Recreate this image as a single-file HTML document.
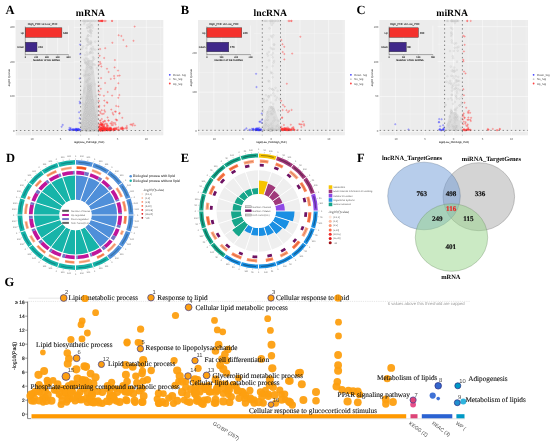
<!DOCTYPE html>
<html><head><meta charset="utf-8"><style>
html,body{margin:0;padding:0;background:#fff;width:550px;height:444px;overflow:hidden}
svg{display:block;will-change:transform}
text{text-rendering:geometricPrecision}
</style></head><body>
<svg width="550" height="444" viewBox="0 0 550 444">
<rect width="550" height="444" fill="#fff"/>
<rect x="15.8" y="20" width="147.5" height="115.3" fill="#ececec"/>
<path d="M17.2 20V135.3" stroke="#fff" stroke-width=".25"/>
<path d="M31.5 20V135.3" stroke="#fff" stroke-width=".5"/>
<path d="M45.9 20V135.3" stroke="#fff" stroke-width=".25"/>
<path d="M60.2 20V135.3" stroke="#fff" stroke-width=".5"/>
<path d="M74.6 20V135.3" stroke="#fff" stroke-width=".25"/>
<path d="M88.9 20V135.3" stroke="#fff" stroke-width=".5"/>
<path d="M103.2 20V135.3" stroke="#fff" stroke-width=".25"/>
<path d="M117.6 20V135.3" stroke="#fff" stroke-width=".5"/>
<path d="M131.9 20V135.3" stroke="#fff" stroke-width=".25"/>
<path d="M146.3 20V135.3" stroke="#fff" stroke-width=".5"/>
<path d="M160.7 20V135.3" stroke="#fff" stroke-width=".25"/>
<path d="M15.8 27.3H163.3" stroke="#fff" stroke-width=".5"/>
<path d="M15.8 44.6H163.3" stroke="#fff" stroke-width=".25"/>
<path d="M15.8 61.9H163.3" stroke="#fff" stroke-width=".5"/>
<path d="M15.8 79.2H163.3" stroke="#fff" stroke-width=".25"/>
<path d="M15.8 96.5H163.3" stroke="#fff" stroke-width=".5"/>
<path d="M15.8 113.8H163.3" stroke="#fff" stroke-width=".25"/>
<path d="M15.8 131.1H163.3" stroke="#fff" stroke-width=".5"/>
<text x="14.6" y="28.2" style="font-family:'Liberation Sans',sans-serif;font-size:2.8px" fill="#555" text-anchor="end">300</text>
<text x="14.6" y="62.8" style="font-family:'Liberation Sans',sans-serif;font-size:2.8px" fill="#555" text-anchor="end">200</text>
<text x="14.6" y="97.3" style="font-family:'Liberation Sans',sans-serif;font-size:2.8px" fill="#555" text-anchor="end">100</text>
<text x="14.6" y="131.7" style="font-family:'Liberation Sans',sans-serif;font-size:2.8px" fill="#555" text-anchor="end">0</text>
<text x="31.5" y="139.5" style="font-family:'Liberation Sans',sans-serif;font-size:2.8px" fill="#555" text-anchor="middle">-10</text>
<text x="60.2" y="139.5" style="font-family:'Liberation Sans',sans-serif;font-size:2.8px" fill="#555" text-anchor="middle">-5</text>
<text x="88.9" y="139.5" style="font-family:'Liberation Sans',sans-serif;font-size:2.8px" fill="#555" text-anchor="middle">0</text>
<text x="117.6" y="139.5" style="font-family:'Liberation Sans',sans-serif;font-size:2.8px" fill="#555" text-anchor="middle">5</text>
<text x="146.3" y="139.5" style="font-family:'Liberation Sans',sans-serif;font-size:2.8px" fill="#555" text-anchor="middle">10</text>
<text x="89.3" y="142.9" style="font-family:'Liberation Sans',sans-serif;font-size:2.55px" fill="#222" text-anchor="middle" stroke="#222" stroke-width=".05">log2(Low_PHF/High_PHF)</text>
<text transform="translate(9.5,78) rotate(-90)" style="font-family:'Liberation Sans',sans-serif;font-size:2.9px" fill="#333" text-anchor="middle">-log10 Qvalue</text>
<path d="M86.5,60 L84,80 L82,100 L80.9,118 L80.8,131 L98.2,131 L98.1,118 L97,100 L95,80 L92.5,60Z" fill="#dadada"/>
<path d="M87.5,85 L85.5,100 L83,115 L81.2,125 L80.8,131 L98.2,131 L97.8,125 L96,115 L93.5,100 L91.5,85Z" fill="#cbcbcb"/>
<g fill="#dedede" fill-opacity=".4" stroke="#a8a8a8" stroke-width=".22" stroke-opacity=".65"><circle cx="93.6" cy="129.4" r=".9"/><circle cx="83.7" cy="125.8" r=".9"/><circle cx="84.3" cy="108.7" r=".9"/><circle cx="90.8" cy="67.1" r=".9"/><circle cx="97.4" cy="130" r=".9"/><circle cx="90.8" cy="114.5" r=".9"/><circle cx="92.6" cy="71.8" r=".9"/><circle cx="89.5" cy="78.8" r=".9"/><circle cx="97.5" cy="126.8" r=".9"/><circle cx="86.4" cy="130.5" r=".9"/><circle cx="81.5" cy="130.5" r=".9"/><circle cx="87.1" cy="118.6" r=".9"/><circle cx="88.6" cy="127.3" r=".9"/><circle cx="90" cy="127.1" r=".9"/><circle cx="86.7" cy="114.1" r=".9"/><circle cx="89.6" cy="126.7" r=".9"/><circle cx="86.2" cy="127.2" r=".9"/><circle cx="90.4" cy="130.5" r=".9"/><circle cx="86.1" cy="57.7" r=".9"/><circle cx="87.4" cy="128.2" r=".9"/><circle cx="90.1" cy="22.9" r=".9"/><circle cx="87.9" cy="121.8" r=".9"/><circle cx="87.8" cy="78.8" r=".9"/><circle cx="81.5" cy="115.4" r=".9"/><circle cx="88.4" cy="59.2" r=".9"/><circle cx="86.9" cy="98.3" r=".9"/><circle cx="91.1" cy="48.4" r=".9"/><circle cx="86.1" cy="98.1" r=".9"/><circle cx="89.8" cy="130.5" r=".9"/><circle cx="96.5" cy="116.1" r=".9"/><circle cx="83.3" cy="128.6" r=".9"/><circle cx="88" cy="86.2" r=".9"/><circle cx="85.1" cy="119" r=".9"/><circle cx="90.8" cy="68.9" r=".9"/><circle cx="86.2" cy="106.1" r=".9"/><circle cx="92.6" cy="130.5" r=".9"/><circle cx="86" cy="130.4" r=".9"/><circle cx="81.5" cy="97.6" r=".9"/><circle cx="91.7" cy="117.7" r=".9"/><circle cx="91.4" cy="25.5" r=".9"/><circle cx="84" cy="70.4" r=".9"/><circle cx="87.5" cy="126.7" r=".9"/><circle cx="94.1" cy="106.8" r=".9"/><circle cx="88" cy="112.2" r=".9"/><circle cx="81.5" cy="125.1" r=".9"/><circle cx="86.3" cy="130.5" r=".9"/><circle cx="92" cy="68" r=".9"/><circle cx="83.9" cy="75.6" r=".9"/><circle cx="86.1" cy="63.2" r=".9"/><circle cx="88.9" cy="115.1" r=".9"/><circle cx="93.3" cy="130.4" r=".9"/><circle cx="85.5" cy="127.8" r=".9"/><circle cx="86" cy="107.8" r=".9"/><circle cx="89.9" cy="121" r=".9"/><circle cx="85.9" cy="104.1" r=".9"/><circle cx="85.8" cy="112.3" r=".9"/><circle cx="89.8" cy="130.5" r=".9"/><circle cx="91.7" cy="98.7" r=".9"/><circle cx="90.8" cy="52.9" r=".9"/><circle cx="85" cy="61.8" r=".9"/><circle cx="92.9" cy="125.8" r=".9"/><circle cx="84.2" cy="130.1" r=".9"/><circle cx="96.6" cy="130.5" r=".9"/><circle cx="90.1" cy="126" r=".9"/><circle cx="86.7" cy="129.8" r=".9"/><circle cx="86.7" cy="130.3" r=".9"/><circle cx="87" cy="128.9" r=".9"/><circle cx="89.1" cy="125" r=".9"/><circle cx="86.9" cy="80.4" r=".9"/><circle cx="90.4" cy="110.9" r=".9"/><circle cx="86.1" cy="130.5" r=".9"/><circle cx="92.4" cy="128.2" r=".9"/><circle cx="93.6" cy="129.8" r=".9"/><circle cx="86.6" cy="127.5" r=".9"/><circle cx="89.8" cy="95.9" r=".9"/><circle cx="88.7" cy="130.5" r=".9"/><circle cx="89" cy="129.2" r=".9"/><circle cx="87.7" cy="81.6" r=".9"/><circle cx="87.3" cy="85.7" r=".9"/><circle cx="89.1" cy="27" r=".9"/><circle cx="87.6" cy="65.4" r=".9"/><circle cx="89.3" cy="90.1" r=".9"/><circle cx="86.4" cy="117.6" r=".9"/><circle cx="88.1" cy="92.5" r=".9"/><circle cx="86.2" cy="130.3" r=".9"/><circle cx="95.4" cy="49.8" r=".9"/><circle cx="91.7" cy="123.3" r=".9"/><circle cx="88.1" cy="35.7" r=".9"/><circle cx="87.5" cy="75.1" r=".9"/><circle cx="91.1" cy="130.5" r=".9"/><circle cx="93.7" cy="49.2" r=".9"/><circle cx="90.3" cy="30.3" r=".9"/><circle cx="92.9" cy="100.4" r=".9"/><circle cx="92.8" cy="27.5" r=".9"/><circle cx="86.5" cy="81.7" r=".9"/><circle cx="89.3" cy="120.9" r=".9"/><circle cx="87.5" cy="127.6" r=".9"/><circle cx="85.5" cy="128" r=".9"/><circle cx="87.7" cy="129.9" r=".9"/><circle cx="86.8" cy="108.3" r=".9"/><circle cx="95.5" cy="122.2" r=".9"/><circle cx="82.9" cy="130.5" r=".9"/><circle cx="83.7" cy="127.8" r=".9"/><circle cx="96.8" cy="68.2" r=".9"/><circle cx="90.9" cy="121.4" r=".9"/><circle cx="93.2" cy="57.6" r=".9"/><circle cx="87.1" cy="37.3" r=".9"/><circle cx="95" cy="84.3" r=".9"/><circle cx="92.2" cy="109.8" r=".9"/><circle cx="89.3" cy="78.2" r=".9"/><circle cx="94" cy="130.1" r=".9"/><circle cx="97.5" cy="127.4" r=".9"/><circle cx="85" cy="72.4" r=".9"/><circle cx="85" cy="119.5" r=".9"/><circle cx="87.4" cy="121.3" r=".9"/><circle cx="96.2" cy="96.2" r=".9"/><circle cx="90.3" cy="32.2" r=".9"/><circle cx="88.2" cy="102.7" r=".9"/><circle cx="91.1" cy="129.9" r=".9"/><circle cx="89.7" cy="51.8" r=".9"/><circle cx="90.7" cy="67.2" r=".9"/><circle cx="86.8" cy="94.7" r=".9"/><circle cx="86.9" cy="68.3" r=".9"/><circle cx="93.3" cy="127" r=".9"/><circle cx="88.6" cy="130.2" r=".9"/><circle cx="97" cy="101.1" r=".9"/><circle cx="87.9" cy="39" r=".9"/><circle cx="90.1" cy="67.4" r=".9"/><circle cx="93.4" cy="59.6" r=".9"/><circle cx="90" cy="130.1" r=".9"/><circle cx="90.4" cy="129.7" r=".9"/><circle cx="88.7" cy="126.4" r=".9"/><circle cx="88.7" cy="24" r=".9"/><circle cx="90.5" cy="128.7" r=".9"/><circle cx="89.4" cy="126.3" r=".9"/><circle cx="88.5" cy="42.2" r=".9"/><circle cx="97.5" cy="118.8" r=".9"/><circle cx="87.8" cy="123.9" r=".9"/><circle cx="87.6" cy="125.8" r=".9"/><circle cx="89.7" cy="89.5" r=".9"/><circle cx="97.5" cy="130.4" r=".9"/><circle cx="90.3" cy="123.9" r=".9"/><circle cx="86.6" cy="97.1" r=".9"/><circle cx="90.6" cy="130.3" r=".9"/><circle cx="95.2" cy="41.6" r=".9"/><circle cx="87.4" cy="129.8" r=".9"/><circle cx="81.5" cy="127.3" r=".9"/><circle cx="82.7" cy="103.6" r=".9"/><circle cx="88.2" cy="84.1" r=".9"/><circle cx="87.1" cy="103.8" r=".9"/><circle cx="89.5" cy="123.2" r=".9"/><circle cx="91.2" cy="124.6" r=".9"/><circle cx="87" cy="25.1" r=".9"/><circle cx="91.1" cy="90.8" r=".9"/><circle cx="88.2" cy="35.4" r=".9"/><circle cx="91.7" cy="122.1" r=".9"/><circle cx="94.4" cy="122.7" r=".9"/><circle cx="82.4" cy="123.5" r=".9"/><circle cx="84.4" cy="121.7" r=".9"/><circle cx="88.2" cy="97.2" r=".9"/><circle cx="92.6" cy="126.2" r=".9"/><circle cx="89.9" cy="130.2" r=".9"/><circle cx="90.8" cy="102.7" r=".9"/><circle cx="90.1" cy="91.9" r=".9"/><circle cx="90.8" cy="124.1" r=".9"/><circle cx="86.8" cy="52.5" r=".9"/><circle cx="82" cy="129" r=".9"/><circle cx="89.4" cy="130.2" r=".9"/><circle cx="91.1" cy="33.4" r=".9"/><circle cx="92.2" cy="24.8" r=".9"/><circle cx="89" cy="60.8" r=".9"/><circle cx="91.1" cy="106.8" r=".9"/><circle cx="88.3" cy="40.3" r=".9"/><circle cx="97.5" cy="129.3" r=".9"/><circle cx="91.4" cy="42.2" r=".9"/><circle cx="89.9" cy="43.9" r=".9"/><circle cx="93.8" cy="64.2" r=".9"/><circle cx="86.4" cy="74.7" r=".9"/><circle cx="91" cy="83.9" r=".9"/><circle cx="93.5" cy="128.9" r=".9"/><circle cx="88.3" cy="79.9" r=".9"/><circle cx="86.7" cy="130.3" r=".9"/><circle cx="90.4" cy="30" r=".9"/><circle cx="85.2" cy="103.8" r=".9"/><circle cx="87.1" cy="54.9" r=".9"/><circle cx="90.7" cy="121.4" r=".9"/><circle cx="95.4" cy="125.6" r=".9"/><circle cx="90.4" cy="115.9" r=".9"/><circle cx="92.6" cy="100.4" r=".9"/><circle cx="91" cy="129.3" r=".9"/><circle cx="89" cy="129.6" r=".9"/><circle cx="96.9" cy="117.4" r=".9"/><circle cx="87.3" cy="117.1" r=".9"/><circle cx="87.5" cy="130.5" r=".9"/><circle cx="84.2" cy="105.2" r=".9"/><circle cx="89.5" cy="114.1" r=".9"/><circle cx="89.2" cy="84.4" r=".9"/><circle cx="86.8" cy="108.8" r=".9"/><circle cx="90.1" cy="110.4" r=".9"/><circle cx="93.1" cy="101.6" r=".9"/><circle cx="91" cy="43" r=".9"/><circle cx="88.2" cy="90.4" r=".9"/><circle cx="94.1" cy="130.4" r=".9"/><circle cx="90.7" cy="49.4" r=".9"/><circle cx="90.4" cy="128.9" r=".9"/><circle cx="81.5" cy="123" r=".9"/><circle cx="91.3" cy="83.5" r=".9"/><circle cx="87.1" cy="82.1" r=".9"/><circle cx="84.6" cy="76.3" r=".9"/><circle cx="87" cy="45.3" r=".9"/><circle cx="88.4" cy="30.8" r=".9"/><circle cx="88.4" cy="126" r=".9"/><circle cx="83.1" cy="127.2" r=".9"/><circle cx="86.5" cy="130.4" r=".9"/><circle cx="88.9" cy="85.1" r=".9"/><circle cx="86.2" cy="106.7" r=".9"/><circle cx="89.3" cy="128.8" r=".9"/><circle cx="89" cy="25.7" r=".9"/><circle cx="88" cy="63.5" r=".9"/><circle cx="88.3" cy="41.7" r=".9"/><circle cx="91.6" cy="30.9" r=".9"/><circle cx="92.9" cy="56.8" r=".9"/><circle cx="88.4" cy="88.4" r=".9"/><circle cx="87.3" cy="39.1" r=".9"/><circle cx="87" cy="28.1" r=".9"/><circle cx="94.2" cy="114.5" r=".9"/><circle cx="88.5" cy="128.8" r=".9"/><circle cx="90.5" cy="42.6" r=".9"/><circle cx="91.4" cy="31" r=".9"/><circle cx="93.1" cy="116.6" r=".9"/><circle cx="88.6" cy="129.7" r=".9"/><circle cx="91.6" cy="74.1" r=".9"/><circle cx="91.2" cy="130.5" r=".9"/><circle cx="93.7" cy="130.5" r=".9"/><circle cx="84.4" cy="93" r=".9"/><circle cx="84.6" cy="127.6" r=".9"/><circle cx="86.3" cy="124.4" r=".9"/><circle cx="88.8" cy="98.5" r=".9"/><circle cx="86.5" cy="125.9" r=".9"/><circle cx="85.2" cy="63.3" r=".9"/><circle cx="87.4" cy="27.5" r=".9"/><circle cx="88.7" cy="54" r=".9"/><circle cx="87" cy="70.6" r=".9"/><circle cx="87.8" cy="124.4" r=".9"/><circle cx="90.3" cy="129.8" r=".9"/><circle cx="88.1" cy="74.5" r=".9"/><circle cx="95.5" cy="103.4" r=".9"/><circle cx="88.8" cy="27.6" r=".9"/><circle cx="84" cy="129.4" r=".9"/><circle cx="89.5" cy="123" r=".9"/><circle cx="86.2" cy="75.4" r=".9"/><circle cx="95.5" cy="130.4" r=".9"/><circle cx="85.8" cy="82.1" r=".9"/><circle cx="90.8" cy="86.8" r=".9"/><circle cx="87.9" cy="44.8" r=".9"/><circle cx="85.4" cy="59.6" r=".9"/><circle cx="89.6" cy="89.2" r=".9"/><circle cx="89.9" cy="100.1" r=".9"/><circle cx="95" cy="65" r=".9"/><circle cx="84" cy="74.5" r=".9"/><circle cx="84.8" cy="22.4" r=".9"/><circle cx="91.6" cy="85.7" r=".9"/><circle cx="92.4" cy="49" r=".9"/><circle cx="89.1" cy="111.9" r=".9"/><circle cx="85.9" cy="62.6" r=".9"/><circle cx="88.4" cy="130.1" r=".9"/><circle cx="85.1" cy="87.9" r=".9"/><circle cx="90.9" cy="36.2" r=".9"/><circle cx="88.6" cy="66.5" r=".9"/><circle cx="82.2" cy="48.5" r=".9"/><circle cx="89.3" cy="76.5" r=".9"/><circle cx="84" cy="59.5" r=".9"/><circle cx="84.9" cy="61.6" r=".9"/><circle cx="92.5" cy="61.1" r=".9"/><circle cx="90.6" cy="27.9" r=".9"/><circle cx="83.1" cy="46.5" r=".9"/><circle cx="87.2" cy="41.2" r=".9"/><circle cx="86.5" cy="101.5" r=".9"/><circle cx="92.7" cy="53" r=".9"/><circle cx="84.4" cy="113.8" r=".9"/><circle cx="86" cy="39.3" r=".9"/><circle cx="90.2" cy="125.5" r=".9"/><circle cx="89.4" cy="74.6" r=".9"/><circle cx="84.3" cy="91.6" r=".9"/><circle cx="94" cy="58.6" r=".9"/><circle cx="89.9" cy="26.9" r=".9"/><circle cx="84.9" cy="54.9" r=".9"/><circle cx="93" cy="64.3" r=".9"/><circle cx="92.5" cy="107.6" r=".9"/><circle cx="97.5" cy="101" r=".9"/><circle cx="93" cy="122.3" r=".9"/><circle cx="84.3" cy="90.2" r=".9"/><circle cx="89.3" cy="74.5" r=".9"/><circle cx="87.2" cy="59" r=".9"/><circle cx="90.6" cy="52.4" r=".9"/><circle cx="86.6" cy="63.7" r=".9"/><circle cx="86.4" cy="105.1" r=".9"/><circle cx="88.7" cy="44" r=".9"/><circle cx="88.5" cy="35.6" r=".9"/><circle cx="91.1" cy="25" r=".9"/><circle cx="90" cy="53.1" r=".9"/><circle cx="88.9" cy="32" r=".9"/><circle cx="87.8" cy="62.3" r=".9"/><circle cx="92.8" cy="47.1" r=".9"/><circle cx="91.2" cy="44.5" r=".9"/><circle cx="96.8" cy="112.4" r=".9"/><circle cx="84.1" cy="24" r=".9"/><circle cx="92.2" cy="50.8" r=".9"/><circle cx="89.1" cy="64.1" r=".9"/><circle cx="96.5" cy="115.3" r=".9"/><circle cx="88.3" cy="115.4" r=".9"/><circle cx="86.3" cy="48.2" r=".9"/><circle cx="87.8" cy="104.2" r=".9"/><circle cx="81.5" cy="97" r=".9"/><circle cx="84.1" cy="118.9" r=".9"/><circle cx="93.6" cy="119.6" r=".9"/><circle cx="96.5" cy="110" r=".9"/><circle cx="90.8" cy="33.2" r=".9"/><circle cx="97.5" cy="106.8" r=".9"/><circle cx="90.6" cy="41.3" r=".9"/><circle cx="96.8" cy="20.9" r=".9"/><circle cx="91.3" cy="20.9" r=".9"/><circle cx="87" cy="20.9" r=".9"/><circle cx="94.8" cy="20.9" r=".9"/><circle cx="83.5" cy="20.9" r=".9"/><circle cx="92.5" cy="20.9" r=".9"/><circle cx="83.1" cy="20.9" r=".9"/><circle cx="87.9" cy="20.9" r=".9"/><circle cx="89.4" cy="20.9" r=".9"/><circle cx="87.6" cy="20.9" r=".9"/><circle cx="84.3" cy="20.9" r=".9"/><circle cx="85.3" cy="20.9" r=".9"/><circle cx="94.6" cy="20.9" r=".9"/><circle cx="88.9" cy="20.9" r=".9"/><circle cx="90.8" cy="20.9" r=".9"/><circle cx="84.9" cy="20.9" r=".9"/><circle cx="92.9" cy="20.9" r=".9"/><circle cx="86.8" cy="20.9" r=".9"/></g>
<g fill="#ff4848" fill-opacity=".4" stroke="#ff2828" stroke-width=".25" stroke-opacity=".7"><circle cx="115.4" cy="128.9" r=".75"/><circle cx="101.8" cy="130.5" r=".75"/><circle cx="104.2" cy="128" r=".75"/><circle cx="102.7" cy="129.3" r=".75"/><circle cx="116.7" cy="129.1" r=".75"/><circle cx="114" cy="128.9" r=".75"/><circle cx="99.3" cy="129.8" r=".75"/><circle cx="100.3" cy="130.4" r=".75"/><circle cx="107.1" cy="129" r=".75"/><circle cx="107.2" cy="130.1" r=".75"/><circle cx="105.9" cy="129.4" r=".75"/><circle cx="109.5" cy="128.1" r=".75"/><circle cx="102.1" cy="130.4" r=".75"/><circle cx="100.4" cy="130.2" r=".75"/><circle cx="99.7" cy="129.9" r=".75"/><circle cx="100.8" cy="130.3" r=".75"/><circle cx="108.7" cy="128.9" r=".75"/><circle cx="105.7" cy="128.2" r=".75"/><circle cx="103.6" cy="129.4" r=".75"/><circle cx="115.2" cy="128" r=".75"/><circle cx="103.2" cy="129.7" r=".75"/><circle cx="118.6" cy="129.4" r=".75"/><circle cx="106" cy="129.9" r=".75"/><circle cx="108.1" cy="129.5" r=".75"/><circle cx="102.2" cy="130.4" r=".75"/><circle cx="104.6" cy="129.4" r=".75"/><circle cx="104.8" cy="128" r=".75"/><circle cx="110.8" cy="129.6" r=".75"/><circle cx="102.4" cy="128.4" r=".75"/><circle cx="101.7" cy="128.4" r=".75"/><circle cx="99.2" cy="126.9" r=".75"/><circle cx="110.7" cy="128.1" r=".75"/><circle cx="109.7" cy="128.5" r=".75"/><circle cx="102.7" cy="130.3" r=".75"/><circle cx="102.9" cy="129.2" r=".75"/><circle cx="116.8" cy="127.8" r=".75"/><circle cx="109.7" cy="130.1" r=".75"/><circle cx="103.4" cy="130.3" r=".75"/><circle cx="110.2" cy="129.3" r=".75"/><circle cx="100.5" cy="130.3" r=".75"/><circle cx="102.9" cy="130.4" r=".75"/><circle cx="100.2" cy="130" r=".75"/><circle cx="107.7" cy="130.2" r=".75"/><circle cx="99.9" cy="129.4" r=".75"/><circle cx="110" cy="128.8" r=".75"/><circle cx="105.2" cy="128.1" r=".75"/><circle cx="102.1" cy="129.2" r=".75"/><circle cx="99.3" cy="128.8" r=".75"/><circle cx="102.9" cy="129.5" r=".75"/><circle cx="103.7" cy="127.3" r=".75"/><circle cx="102.7" cy="130.2" r=".75"/><circle cx="104.6" cy="129.3" r=".75"/><circle cx="113.3" cy="130.3" r=".75"/><circle cx="106.1" cy="128.8" r=".75"/><circle cx="117.7" cy="129.9" r=".75"/><circle cx="102.7" cy="129.6" r=".75"/><circle cx="103.8" cy="129.5" r=".75"/><circle cx="103" cy="130.4" r=".75"/><circle cx="105.6" cy="129.1" r=".75"/><circle cx="114.9" cy="129.9" r=".75"/><circle cx="103.5" cy="129.6" r=".75"/><circle cx="101.5" cy="129.3" r=".75"/><circle cx="105.8" cy="128.6" r=".75"/><circle cx="110" cy="130.5" r=".75"/><circle cx="110.9" cy="128.2" r=".75"/><circle cx="102.7" cy="129.5" r=".75"/><circle cx="121.8" cy="129" r=".75"/><circle cx="118.7" cy="130.1" r=".75"/><circle cx="120.4" cy="129" r=".75"/><circle cx="107.2" cy="127.8" r=".75"/><circle cx="113.3" cy="129.4" r=".75"/><circle cx="106.3" cy="129.3" r=".75"/><circle cx="124" cy="128.6" r=".75"/><circle cx="102" cy="128.5" r=".75"/><circle cx="99.2" cy="129.3" r=".75"/><circle cx="111.1" cy="129.8" r=".75"/><circle cx="107.2" cy="129.7" r=".75"/><circle cx="110" cy="130.3" r=".75"/><circle cx="101.5" cy="129.9" r=".75"/><circle cx="103.4" cy="129" r=".75"/><circle cx="103.8" cy="130" r=".75"/><circle cx="111.3" cy="129.4" r=".75"/><circle cx="102.9" cy="130.3" r=".75"/><circle cx="105.8" cy="130.2" r=".75"/><circle cx="104.5" cy="129.9" r=".75"/><circle cx="106.4" cy="129.3" r=".75"/><circle cx="102.1" cy="130.3" r=".75"/><circle cx="106.6" cy="129" r=".75"/><circle cx="107.3" cy="128.2" r=".75"/><circle cx="107.5" cy="130.3" r=".75"/><circle cx="107.2" cy="128.8" r=".75"/><circle cx="103" cy="127.8" r=".75"/><circle cx="113.7" cy="129" r=".75"/><circle cx="106.4" cy="129.6" r=".75"/><circle cx="104.1" cy="129" r=".75"/><circle cx="114.1" cy="129.7" r=".75"/><circle cx="101.5" cy="128.1" r=".75"/><circle cx="105.9" cy="130.5" r=".75"/><circle cx="103.5" cy="128.4" r=".75"/><circle cx="100.4" cy="129" r=".75"/><circle cx="108.1" cy="130.4" r=".75"/><circle cx="110.9" cy="128.9" r=".75"/><circle cx="101.2" cy="130.3" r=".75"/><circle cx="104.9" cy="129.3" r=".75"/><circle cx="101.8" cy="129.5" r=".75"/><circle cx="99.3" cy="130.4" r=".75"/><circle cx="104.6" cy="129.7" r=".75"/><circle cx="110.3" cy="129.1" r=".75"/><circle cx="110.1" cy="130.2" r=".75"/><circle cx="109.3" cy="129.8" r=".75"/><circle cx="110.1" cy="130.2" r=".75"/><circle cx="108.3" cy="127.6" r=".75"/><circle cx="109.6" cy="129.5" r=".75"/><circle cx="101.7" cy="129.5" r=".75"/><circle cx="110.9" cy="130.4" r=".75"/><circle cx="122.5" cy="129.4" r=".75"/><circle cx="105.7" cy="128.9" r=".75"/><circle cx="113.7" cy="130.4" r=".75"/><circle cx="106.9" cy="130" r=".75"/><circle cx="116.3" cy="128.7" r=".75"/><circle cx="107.2" cy="126" r=".75"/><circle cx="111.8" cy="123.7" r=".75"/><circle cx="102.9" cy="126.5" r=".75"/><circle cx="111.2" cy="128.5" r=".75"/><circle cx="107.1" cy="124.5" r=".75"/><circle cx="105.3" cy="130" r=".75"/><circle cx="102.4" cy="129.8" r=".75"/><circle cx="103.4" cy="126.4" r=".75"/><circle cx="103.3" cy="130.2" r=".75"/><circle cx="99.9" cy="120.6" r=".75"/><circle cx="103.9" cy="128.3" r=".75"/><circle cx="104.4" cy="130.4" r=".75"/><circle cx="110.4" cy="129.8" r=".75"/><circle cx="101.7" cy="125.5" r=".75"/><circle cx="100.4" cy="124.8" r=".75"/><circle cx="100.8" cy="124.8" r=".75"/><circle cx="109.9" cy="129.1" r=".75"/><circle cx="102.1" cy="129.1" r=".75"/><circle cx="103.9" cy="129.7" r=".75"/><circle cx="104.3" cy="129.9" r=".75"/><circle cx="116.1" cy="128.9" r=".75"/><circle cx="108" cy="125.8" r=".75"/><circle cx="100.5" cy="128.6" r=".75"/><circle cx="116.7" cy="119.8" r=".75"/><circle cx="107.2" cy="128.6" r=".75"/><circle cx="108.7" cy="120.6" r=".75"/><circle cx="102.2" cy="130.1" r=".75"/><circle cx="105.9" cy="128.8" r=".75"/><circle cx="100.7" cy="128.3" r=".75"/><circle cx="99.5" cy="126.5" r=".75"/><circle cx="111.3" cy="129.4" r=".75"/><circle cx="106.7" cy="123.7" r=".75"/><circle cx="100.3" cy="128.6" r=".75"/><circle cx="107" cy="125.8" r=".75"/><circle cx="101.3" cy="124.8" r=".75"/><circle cx="101.9" cy="129.1" r=".75"/><circle cx="101" cy="128.6" r=".75"/><circle cx="110.5" cy="123.4" r=".75"/><circle cx="101.6" cy="124.7" r=".75"/><circle cx="111.7" cy="125.3" r=".75"/><circle cx="104.8" cy="130.3" r=".75"/><circle cx="113.8" cy="130" r=".75"/><circle cx="103.7" cy="129.5" r=".75"/><circle cx="99.4" cy="126" r=".75"/><circle cx="99.9" cy="130.4" r=".75"/><circle cx="109.2" cy="130" r=".75"/><circle cx="115.5" cy="124.6" r=".75"/><circle cx="100" cy="124.3" r=".75"/><circle cx="110" cy="127.4" r=".75"/><circle cx="101.8" cy="127.5" r=".75"/><circle cx="100.7" cy="122.8" r=".75"/><circle cx="102.1" cy="129.1" r=".75"/><circle cx="102" cy="124.5" r=".75"/><circle cx="113.5" cy="123.1" r=".75"/><circle cx="108.4" cy="129.1" r=".75"/><circle cx="103.3" cy="126.3" r=".75"/><circle cx="101" cy="122.9" r=".75"/><circle cx="99.5" cy="127" r=".75"/><circle cx="104.3" cy="126.3" r=".75"/><circle cx="104" cy="124.7" r=".75"/><circle cx="105" cy="121.2" r=".75"/><circle cx="102" cy="124.7" r=".75"/><circle cx="104.8" cy="128.9" r=".75"/><circle cx="102.7" cy="123.8" r=".75"/><circle cx="104.6" cy="120.8" r=".75"/><circle cx="102.3" cy="125.2" r=".75"/><circle cx="100.8" cy="128.2" r=".75"/><circle cx="102.4" cy="127.5" r=".75"/><circle cx="106.4" cy="127.2" r=".75"/><circle cx="101.6" cy="124.3" r=".75"/><circle cx="101" cy="127.2" r=".75"/><circle cx="101.8" cy="124.4" r=".75"/><circle cx="104.5" cy="127" r=".75"/><circle cx="100.4" cy="130.5" r=".75"/><circle cx="102.3" cy="124" r=".75"/><circle cx="103.3" cy="128.7" r=".75"/><circle cx="107.6" cy="117.4" r=".75"/><circle cx="104.1" cy="124.8" r=".75"/><circle cx="100.5" cy="130.4" r=".75"/><circle cx="100.8" cy="128.1" r=".75"/><circle cx="113.9" cy="128.5" r=".75"/><circle cx="126.8" cy="128.8" r=".75"/><circle cx="108.7" cy="129.4" r=".75"/><circle cx="109.5" cy="129.6" r=".75"/><circle cx="114.5" cy="129.6" r=".75"/><circle cx="107.3" cy="129.8" r=".75"/><circle cx="118.4" cy="127.2" r=".75"/><circle cx="125.6" cy="128" r=".75"/><circle cx="126.8" cy="127.6" r=".75"/><circle cx="121.9" cy="128.2" r=".75"/><circle cx="134.9" cy="125.4" r=".75"/><circle cx="130.5" cy="124.6" r=".75"/><circle cx="131.7" cy="124.4" r=".75"/><circle cx="132.5" cy="125.6" r=".75"/><circle cx="126.8" cy="125.9" r=".75"/><circle cx="122.2" cy="127.3" r=".75"/><circle cx="122.5" cy="127.9" r=".75"/><circle cx="133.3" cy="123.7" r=".75"/><circle cx="122.9" cy="129.1" r=".75"/><circle cx="121.7" cy="128.7" r=".75"/><circle cx="112.9" cy="129.2" r=".75"/><circle cx="122.8" cy="128.3" r=".75"/><circle cx="114.5" cy="128.8" r=".75"/><circle cx="120.6" cy="128.1" r=".75"/><circle cx="109.5" cy="129.6" r=".75"/><circle cx="111.3" cy="109.6" r=".75"/><circle cx="108.3" cy="120.4" r=".75"/><circle cx="113.4" cy="114.6" r=".75"/><circle cx="99" cy="101.1" r=".75"/><circle cx="112.1" cy="95.6" r=".75"/><circle cx="119.4" cy="95.1" r=".75"/><circle cx="118.3" cy="97.8" r=".75"/><circle cx="117" cy="120.5" r=".75"/><circle cx="103.5" cy="122" r=".75"/><circle cx="100.4" cy="120.6" r=".75"/><circle cx="104.4" cy="105.8" r=".75"/><circle cx="99.9" cy="111.6" r=".75"/><circle cx="102.2" cy="114" r=".75"/><circle cx="115.7" cy="111.7" r=".75"/><circle cx="98.9" cy="124.3" r=".75"/><circle cx="119.6" cy="113.1" r=".75"/><circle cx="104.4" cy="110.2" r=".75"/><circle cx="118.4" cy="106.5" r=".75"/><circle cx="115.1" cy="111.5" r=".75"/><circle cx="105.3" cy="123.6" r=".75"/><circle cx="105" cy="111.8" r=".75"/><circle cx="99.2" cy="106.9" r=".75"/><circle cx="99.1" cy="115.3" r=".75"/><circle cx="98.9" cy="91.5" r=".75"/><circle cx="99.8" cy="95" r=".75"/><circle cx="107.4" cy="102.8" r=".75"/><circle cx="102.2" cy="125.4" r=".75"/><circle cx="119.3" cy="113.6" r=".75"/><circle cx="115.8" cy="119.5" r=".75"/><circle cx="101.8" cy="119.1" r=".75"/><circle cx="101.7" cy="110.2" r=".75"/><circle cx="103.9" cy="95.7" r=".75"/><circle cx="115" cy="123" r=".75"/><circle cx="103" cy="121.7" r=".75"/><circle cx="103.7" cy="113.7" r=".75"/><circle cx="122.3" cy="117.8" r=".75"/><circle cx="99.2" cy="105.7" r=".75"/><circle cx="104.3" cy="100.6" r=".75"/><circle cx="116.2" cy="105.9" r=".75"/><circle cx="112.6" cy="112.9" r=".75"/><circle cx="107.7" cy="92" r=".75"/><circle cx="111.9" cy="122.1" r=".75"/><circle cx="100.6" cy="113.1" r=".75"/><circle cx="106.9" cy="102.3" r=".75"/><circle cx="113" cy="125.1" r=".75"/><circle cx="99" cy="85.7" r=".75"/><circle cx="105.1" cy="83" r=".75"/><circle cx="101.1" cy="78.1" r=".75"/><circle cx="100" cy="62.1" r=".75"/><circle cx="119.6" cy="75.6" r=".75"/><circle cx="114.6" cy="67.4" r=".75"/><circle cx="107" cy="68.7" r=".75"/><circle cx="114.3" cy="78.4" r=".75"/><circle cx="101.4" cy="66.5" r=".75"/><circle cx="108.6" cy="72" r=".75"/><circle cx="118.4" cy="83.3" r=".75"/><circle cx="100.7" cy="63.8" r=".75"/><circle cx="100.1" cy="49.1" r=".75"/><circle cx="99.6" cy="55.7" r=".75"/><circle cx="114.1" cy="76" r=".75"/><circle cx="114.9" cy="60.1" r=".75"/><circle cx="100.8" cy="88.8" r=".75"/><circle cx="115.7" cy="87.8" r=".75"/><circle cx="99" cy="64.7" r=".75"/><circle cx="110.8" cy="78.9" r=".75"/><circle cx="118" cy="70.6" r=".75"/><circle cx="105.2" cy="48.2" r=".75"/><circle cx="115.1" cy="89.3" r=".75"/><circle cx="117.8" cy="75.8" r=".75"/><circle cx="104.2" cy="58" r=".75"/><circle cx="126.5" cy="46.3" r=".75"/><circle cx="134.6" cy="26.6" r=".75"/><circle cx="118.6" cy="35.3" r=".75"/><circle cx="112.4" cy="42.7" r=".75"/><circle cx="133.5" cy="40.8" r=".75"/><circle cx="123.4" cy="40" r=".75"/><circle cx="121.4" cy="36" r=".75"/><circle cx="100.4" cy="20.9" r=".75"/><circle cx="99.3" cy="20.9" r=".75"/><circle cx="102" cy="20.9" r=".75"/><circle cx="105.7" cy="20.9" r=".75"/><circle cx="112" cy="20.9" r=".75"/><circle cx="98.7" cy="20.9" r=".75"/><circle cx="101.1" cy="20.9" r=".75"/><circle cx="102.4" cy="20.9" r=".75"/><circle cx="112.1" cy="20.9" r=".75"/><circle cx="101.2" cy="20.9" r=".75"/><circle cx="102.8" cy="20.9" r=".75"/><circle cx="102.4" cy="20.9" r=".75"/><circle cx="102.1" cy="20.9" r=".75"/><circle cx="99.9" cy="20.9" r=".75"/><circle cx="101.7" cy="20.9" r=".75"/><circle cx="104.5" cy="20.9" r=".75"/></g>
<g fill="#4848ff" fill-opacity=".4" stroke="#2828ff" stroke-width=".25" stroke-opacity=".7"><circle cx="78.4" cy="129.3" r=".8"/><circle cx="79.4" cy="129.7" r=".8"/><circle cx="77.1" cy="130" r=".8"/><circle cx="77.2" cy="129.9" r=".8"/><circle cx="76.7" cy="130.4" r=".8"/><circle cx="76.9" cy="130" r=".8"/><circle cx="76.4" cy="129" r=".8"/><circle cx="76.1" cy="130.4" r=".8"/><circle cx="69" cy="129.7" r=".8"/><circle cx="73.3" cy="130" r=".8"/><circle cx="76.9" cy="130.1" r=".8"/><circle cx="78.3" cy="130.2" r=".8"/><circle cx="79.5" cy="130.2" r=".8"/><circle cx="79.9" cy="129.6" r=".8"/><circle cx="76.7" cy="129.4" r=".8"/><circle cx="74.9" cy="129.7" r=".8"/><circle cx="76" cy="130.2" r=".8"/><circle cx="76.4" cy="130" r=".8"/><circle cx="70.7" cy="128.2" r=".8"/><circle cx="72.9" cy="129.2" r=".8"/><circle cx="78.5" cy="129.1" r=".8"/><circle cx="75.7" cy="129.6" r=".8"/><circle cx="70.5" cy="129.6" r=".8"/><circle cx="78.3" cy="129.5" r=".8"/><circle cx="77.3" cy="128.9" r=".8"/><circle cx="73.1" cy="129.8" r=".8"/><circle cx="79.9" cy="129.8" r=".8"/><circle cx="69.5" cy="129.9" r=".8"/><circle cx="75.6" cy="129" r=".8"/><circle cx="71.9" cy="130.2" r=".8"/><circle cx="70.6" cy="129.4" r=".8"/><circle cx="77" cy="130" r=".8"/><circle cx="73.2" cy="129.4" r=".8"/><circle cx="75" cy="129.5" r=".8"/><circle cx="62.7" cy="124.9" r=".8"/><circle cx="69.5" cy="127.9" r=".8"/><circle cx="74.8" cy="129.5" r=".8"/><circle cx="72.3" cy="129.8" r=".8"/><circle cx="75.1" cy="129.8" r=".8"/><circle cx="61.6" cy="126.7" r=".8"/><circle cx="79.7" cy="101.7" r=".8"/><circle cx="80" cy="103.4" r=".8"/><circle cx="79.5" cy="122.7" r=".8"/><circle cx="79.7" cy="118.2" r=".8"/><circle cx="79.1" cy="112.3" r=".8"/><circle cx="79.8" cy="78.5" r=".8"/><circle cx="80.2" cy="54.1" r=".8"/><circle cx="80.1" cy="44.6" r=".8"/></g>
<path d="M80.6 20V135.3M98.4 20V135.3M15.8 130.5H163.3" stroke="#3a3a3a" stroke-width=".6" stroke-dasharray="1.4,2.7"/>
<circle cx="169.8" cy="74.8" r=".9" fill="#4040ff"/>
<text x="173.1" y="75.8" style="font-family:'Liberation Sans',sans-serif;font-size:2.8px" fill="#444">Down_Sig</text>
<circle cx="169.8" cy="79.2" r=".9" fill="#c8c8c8"/>
<text x="173.1" y="80.2" style="font-family:'Liberation Sans',sans-serif;font-size:2.8px" fill="#444">No_Sig</text>
<circle cx="169.8" cy="83.5" r=".9" fill="#ff4040"/>
<text x="173.1" y="84.5" style="font-family:'Liberation Sans',sans-serif;font-size:2.8px" fill="#444">Up_Sig</text>
<rect x="15.8" y="20" width="58" height="42" fill="#ececec"/>
<path d="M25.3 25.5V54.6" stroke="#fff" stroke-width=".5"/>
<path d="M36.1 25.5V54.6" stroke="#fff" stroke-width=".5"/>
<path d="M46.9 25.5V54.6" stroke="#fff" stroke-width=".5"/>
<path d="M57.7 25.5V54.6" stroke="#fff" stroke-width=".5"/>
<path d="M68.5 25.5V54.6" stroke="#fff" stroke-width=".5"/>
<text x="42.6" y="24.7" style="font-family:'Liberation Sans',sans-serif;font-size:2.8px" fill="#111" text-anchor="middle" stroke="#111" stroke-width=".06">High_PHF vs Low_PHF</text>
<rect x="25.3" y="27.8" width="36.6" height="9.6" fill="#f4312c" stroke="#333" stroke-width=".4"/>
<rect x="25.3" y="42.2" width="11.7" height="9.6" fill="#40288a" stroke="#333" stroke-width=".4"/>
<text x="24" y="33.6" style="font-family:'Liberation Sans',sans-serif;font-size:2.6px" fill="#111" text-anchor="end" stroke="#111" stroke-width=".06">Up</text>
<text x="24" y="48" style="font-family:'Liberation Sans',sans-serif;font-size:2.6px" fill="#111" text-anchor="end" stroke="#111" stroke-width=".06">Down</text>
<text x="63.2" y="33.6" style="font-family:'Liberation Sans',sans-serif;font-size:2.7px" fill="#111" stroke="#111" stroke-width=".08">648</text>
<text x="38.3" y="48" style="font-family:'Liberation Sans',sans-serif;font-size:2.7px" fill="#111" stroke="#111" stroke-width=".08">213</text>
<path d="M25.3 26.5V54.6H68.5" fill="none" stroke="#333" stroke-width=".4"/>
<path d="M25.3 54.6V55.5" stroke="#333" stroke-width=".3"/>
<text x="25.3" y="57.5" style="font-family:'Liberation Sans',sans-serif;font-size:2.4px" fill="#111" text-anchor="middle" stroke="#111" stroke-width=".05">0</text>
<path d="M36.1 54.6V55.5" stroke="#333" stroke-width=".3"/>
<text x="36.1" y="57.5" style="font-family:'Liberation Sans',sans-serif;font-size:2.4px" fill="#111" text-anchor="middle" stroke="#111" stroke-width=".05">200</text>
<path d="M46.9 54.6V55.5" stroke="#333" stroke-width=".3"/>
<text x="46.9" y="57.5" style="font-family:'Liberation Sans',sans-serif;font-size:2.4px" fill="#111" text-anchor="middle" stroke="#111" stroke-width=".05">400</text>
<path d="M57.7 54.6V55.5" stroke="#333" stroke-width=".3"/>
<text x="57.7" y="57.5" style="font-family:'Liberation Sans',sans-serif;font-size:2.4px" fill="#111" text-anchor="middle" stroke="#111" stroke-width=".05">600</text>
<path d="M68.5 54.6V55.5" stroke="#333" stroke-width=".3"/>
<text x="68.5" y="57.5" style="font-family:'Liberation Sans',sans-serif;font-size:2.4px" fill="#111" text-anchor="middle" stroke="#111" stroke-width=".05">800</text>
<text x="46.5" y="60.9" style="font-family:'Liberation Sans',sans-serif;font-size:2.7px;font-weight:bold" fill="#000" text-anchor="middle">Number of DE mRNA</text>
<text x="90.4" y="16.2" style="font-family:'Liberation Serif',serif;font-size:9.7px;font-weight:bold" fill="#000" text-anchor="middle">mRNA</text>
<rect x="198" y="20" width="146.8" height="115.3" fill="#ececec"/>
<path d="M199.6 20V135.3" stroke="#fff" stroke-width=".25"/>
<path d="M213.9 20V135.3" stroke="#fff" stroke-width=".5"/>
<path d="M228.2 20V135.3" stroke="#fff" stroke-width=".25"/>
<path d="M242.6 20V135.3" stroke="#fff" stroke-width=".5"/>
<path d="M256.9 20V135.3" stroke="#fff" stroke-width=".25"/>
<path d="M271.3 20V135.3" stroke="#fff" stroke-width=".5"/>
<path d="M285.7 20V135.3" stroke="#fff" stroke-width=".25"/>
<path d="M300 20V135.3" stroke="#fff" stroke-width=".5"/>
<path d="M314.4 20V135.3" stroke="#fff" stroke-width=".25"/>
<path d="M328.7 20V135.3" stroke="#fff" stroke-width=".5"/>
<path d="M343.1 20V135.3" stroke="#fff" stroke-width=".25"/>
<path d="M198 33.4H344.8" stroke="#fff" stroke-width=".25"/>
<path d="M198 53H344.8" stroke="#fff" stroke-width=".5"/>
<path d="M198 72.6H344.8" stroke="#fff" stroke-width=".25"/>
<path d="M198 92.2H344.8" stroke="#fff" stroke-width=".5"/>
<path d="M198 111.8H344.8" stroke="#fff" stroke-width=".25"/>
<path d="M198 131.4H344.8" stroke="#fff" stroke-width=".5"/>
<text x="196.8" y="53.9" style="font-family:'Liberation Sans',sans-serif;font-size:2.8px" fill="#555" text-anchor="end">200</text>
<text x="196.8" y="93.1" style="font-family:'Liberation Sans',sans-serif;font-size:2.8px" fill="#555" text-anchor="end">100</text>
<text x="196.8" y="132.3" style="font-family:'Liberation Sans',sans-serif;font-size:2.8px" fill="#555" text-anchor="end">0</text>
<text x="213.9" y="139.5" style="font-family:'Liberation Sans',sans-serif;font-size:2.8px" fill="#555" text-anchor="middle">-10</text>
<text x="242.6" y="139.5" style="font-family:'Liberation Sans',sans-serif;font-size:2.8px" fill="#555" text-anchor="middle">-5</text>
<text x="271.3" y="139.5" style="font-family:'Liberation Sans',sans-serif;font-size:2.8px" fill="#555" text-anchor="middle">0</text>
<text x="300" y="139.5" style="font-family:'Liberation Sans',sans-serif;font-size:2.8px" fill="#555" text-anchor="middle">5</text>
<text x="328.7" y="139.5" style="font-family:'Liberation Sans',sans-serif;font-size:2.8px" fill="#555" text-anchor="middle">10</text>
<text x="271.7" y="142.9" style="font-family:'Liberation Sans',sans-serif;font-size:2.55px" fill="#222" text-anchor="middle" stroke="#222" stroke-width=".05">log2(Low_PHF/High_PHF)</text>
<text transform="translate(191.7,78) rotate(-90)" style="font-family:'Liberation Sans',sans-serif;font-size:2.9px" fill="#333" text-anchor="middle">-log10 Qvalue</text>
<path d="M268.9,106 L266.4,114 L263.9,121 L262.6,127 L262.5,131 L280.3,131 L280.2,127 L278.9,121 L276.4,114 L273.9,106Z" fill="#dedede"/>
<g fill="#dedede" fill-opacity=".4" stroke="#a8a8a8" stroke-width=".22" stroke-opacity=".65"><circle cx="272.2" cy="37.3" r=".9"/><circle cx="270.9" cy="130.3" r=".9"/><circle cx="271" cy="73.1" r=".9"/><circle cx="264.4" cy="128.7" r=".9"/><circle cx="267" cy="112.3" r=".9"/><circle cx="267.5" cy="130.2" r=".9"/><circle cx="265.6" cy="125" r=".9"/><circle cx="273.3" cy="23" r=".9"/><circle cx="268.9" cy="39.6" r=".9"/><circle cx="270" cy="129.3" r=".9"/><circle cx="276.6" cy="130.3" r=".9"/><circle cx="272.3" cy="128.5" r=".9"/><circle cx="275.8" cy="126.9" r=".9"/><circle cx="268" cy="116.7" r=".9"/><circle cx="275.6" cy="129.7" r=".9"/><circle cx="272" cy="130.2" r=".9"/><circle cx="278.1" cy="120.6" r=".9"/><circle cx="271.3" cy="130.1" r=".9"/><circle cx="272.7" cy="57.4" r=".9"/><circle cx="267.1" cy="53.5" r=".9"/><circle cx="272.2" cy="89" r=".9"/><circle cx="269.5" cy="28.3" r=".9"/><circle cx="273.4" cy="35.3" r=".9"/><circle cx="276.9" cy="97.6" r=".9"/><circle cx="266.2" cy="123.5" r=".9"/><circle cx="270.8" cy="47.8" r=".9"/><circle cx="273.5" cy="121.2" r=".9"/><circle cx="269" cy="60.5" r=".9"/><circle cx="267.9" cy="55.6" r=".9"/><circle cx="272.2" cy="49.2" r=".9"/><circle cx="268.7" cy="96.2" r=".9"/><circle cx="271.7" cy="128.4" r=".9"/><circle cx="275.8" cy="100.1" r=".9"/><circle cx="279.6" cy="129.3" r=".9"/><circle cx="268.9" cy="52" r=".9"/><circle cx="279.6" cy="99.1" r=".9"/><circle cx="264.9" cy="121" r=".9"/><circle cx="270.7" cy="114.1" r=".9"/><circle cx="272.9" cy="128.7" r=".9"/><circle cx="274.3" cy="44.8" r=".9"/><circle cx="278.4" cy="110.4" r=".9"/><circle cx="274.7" cy="95.8" r=".9"/><circle cx="273" cy="53.2" r=".9"/><circle cx="278.7" cy="130.3" r=".9"/><circle cx="271" cy="106.7" r=".9"/><circle cx="273.5" cy="62.6" r=".9"/><circle cx="263.2" cy="130.3" r=".9"/><circle cx="270.1" cy="129.6" r=".9"/><circle cx="275" cy="129.9" r=".9"/><circle cx="268.6" cy="97.3" r=".9"/><circle cx="269.5" cy="130.3" r=".9"/><circle cx="273.3" cy="104.1" r=".9"/><circle cx="272.4" cy="130.3" r=".9"/><circle cx="271.2" cy="95.2" r=".9"/><circle cx="271.1" cy="130.3" r=".9"/><circle cx="279.6" cy="130.2" r=".9"/><circle cx="269.7" cy="130.1" r=".9"/><circle cx="267" cy="130.3" r=".9"/><circle cx="271.7" cy="24.9" r=".9"/><circle cx="272.4" cy="127.9" r=".9"/><circle cx="271.3" cy="111.3" r=".9"/><circle cx="269.1" cy="128.1" r=".9"/><circle cx="263.7" cy="130.3" r=".9"/><circle cx="273.4" cy="93.3" r=".9"/><circle cx="271.6" cy="54.9" r=".9"/><circle cx="263.6" cy="99.2" r=".9"/><circle cx="272.4" cy="122.9" r=".9"/><circle cx="278.2" cy="128.6" r=".9"/><circle cx="263.2" cy="130.3" r=".9"/><circle cx="274.5" cy="130.2" r=".9"/><circle cx="267.3" cy="114.4" r=".9"/><circle cx="275" cy="130.2" r=".9"/><circle cx="271.2" cy="36" r=".9"/><circle cx="277.7" cy="125.5" r=".9"/><circle cx="269" cy="130.3" r=".9"/><circle cx="270.5" cy="130.3" r=".9"/><circle cx="272.5" cy="130.3" r=".9"/><circle cx="273" cy="109" r=".9"/><circle cx="279.6" cy="120.7" r=".9"/><circle cx="270.9" cy="23.1" r=".9"/><circle cx="268" cy="129.7" r=".9"/><circle cx="272.5" cy="113.8" r=".9"/><circle cx="273.5" cy="110.3" r=".9"/><circle cx="264.3" cy="129.5" r=".9"/><circle cx="271" cy="125.4" r=".9"/><circle cx="271.3" cy="130.3" r=".9"/><circle cx="277.1" cy="125.9" r=".9"/><circle cx="276.3" cy="129.6" r=".9"/><circle cx="272.8" cy="130.3" r=".9"/><circle cx="274.5" cy="129.9" r=".9"/><circle cx="267.6" cy="119.9" r=".9"/><circle cx="272.2" cy="108.2" r=".9"/><circle cx="279.6" cy="129.9" r=".9"/><circle cx="265.9" cy="95.3" r=".9"/><circle cx="265.3" cy="124.9" r=".9"/><circle cx="270.9" cy="130.3" r=".9"/><circle cx="268.5" cy="125.6" r=".9"/><circle cx="270.9" cy="130.3" r=".9"/><circle cx="268.6" cy="80.8" r=".9"/><circle cx="273.8" cy="48.9" r=".9"/><circle cx="268.4" cy="111.8" r=".9"/><circle cx="279.6" cy="127.2" r=".9"/><circle cx="270.5" cy="130.3" r=".9"/><circle cx="269.4" cy="128.8" r=".9"/><circle cx="271.1" cy="71.8" r=".9"/><circle cx="270.7" cy="124.1" r=".9"/><circle cx="268.2" cy="125.9" r=".9"/><circle cx="271.7" cy="114.1" r=".9"/><circle cx="270.4" cy="130.3" r=".9"/><circle cx="273.8" cy="44.4" r=".9"/><circle cx="271.5" cy="127.8" r=".9"/><circle cx="268.5" cy="96.3" r=".9"/><circle cx="263.2" cy="109.5" r=".9"/><circle cx="273.4" cy="109.3" r=".9"/><circle cx="273.2" cy="125.8" r=".9"/><circle cx="272.3" cy="73.4" r=".9"/><circle cx="277.6" cy="90.9" r=".9"/><circle cx="269" cy="129.7" r=".9"/><circle cx="272.5" cy="89.4" r=".9"/><circle cx="263.9" cy="101.9" r=".9"/><circle cx="263.2" cy="111.8" r=".9"/><circle cx="274.1" cy="117.5" r=".9"/><circle cx="263.2" cy="99.8" r=".9"/><circle cx="272.6" cy="77.3" r=".9"/><circle cx="272.6" cy="66.1" r=".9"/><circle cx="267.3" cy="119.8" r=".9"/><circle cx="271.1" cy="102.6" r=".9"/><circle cx="275.6" cy="87.8" r=".9"/><circle cx="266.8" cy="67.3" r=".9"/><circle cx="265.6" cy="127" r=".9"/><circle cx="274.4" cy="111.9" r=".9"/><circle cx="271.4" cy="107.8" r=".9"/><circle cx="279.6" cy="128.2" r=".9"/><circle cx="274.2" cy="61" r=".9"/><circle cx="273.8" cy="90.3" r=".9"/><circle cx="274.8" cy="119.8" r=".9"/><circle cx="269.6" cy="88.5" r=".9"/><circle cx="266.9" cy="100" r=".9"/><circle cx="263.2" cy="126.2" r=".9"/><circle cx="269.1" cy="81.4" r=".9"/><circle cx="264.9" cy="20.9" r=".9"/><circle cx="271.7" cy="20.9" r=".9"/><circle cx="274.9" cy="20.9" r=".9"/><circle cx="267.5" cy="20.9" r=".9"/><circle cx="277.8" cy="20.9" r=".9"/><circle cx="270.8" cy="20.9" r=".9"/><circle cx="274.7" cy="20.9" r=".9"/><circle cx="269.8" cy="20.9" r=".9"/><circle cx="279.4" cy="20.9" r=".9"/><circle cx="276" cy="20.9" r=".9"/><circle cx="272.6" cy="20.9" r=".9"/><circle cx="265.6" cy="20.9" r=".9"/><circle cx="270.4" cy="20.9" r=".9"/><circle cx="263.8" cy="20.9" r=".9"/><circle cx="272.9" cy="20.9" r=".9"/><circle cx="277.6" cy="20.9" r=".9"/><circle cx="266.2" cy="20.9" r=".9"/><circle cx="271.6" cy="20.9" r=".9"/></g>
<g fill="#ff4848" fill-opacity=".4" stroke="#ff2828" stroke-width=".25" stroke-opacity=".7"><circle cx="288.2" cy="130.2" r=".75"/><circle cx="285.1" cy="128.3" r=".75"/><circle cx="283.3" cy="129.3" r=".75"/><circle cx="287.2" cy="130.1" r=".75"/><circle cx="281.4" cy="129" r=".75"/><circle cx="282.1" cy="128.5" r=".75"/><circle cx="282.6" cy="129.1" r=".75"/><circle cx="289.6" cy="129.5" r=".75"/><circle cx="290.9" cy="130.1" r=".75"/><circle cx="288.9" cy="130.2" r=".75"/><circle cx="284.6" cy="128.5" r=".75"/><circle cx="288.7" cy="129" r=".75"/><circle cx="297.8" cy="130.1" r=".75"/><circle cx="282.3" cy="129.1" r=".75"/><circle cx="293.2" cy="129.3" r=".75"/><circle cx="291.5" cy="129.3" r=".75"/><circle cx="281.6" cy="129.7" r=".75"/><circle cx="281.4" cy="129.1" r=".75"/><circle cx="285.6" cy="128.8" r=".75"/><circle cx="287.3" cy="129.4" r=".75"/><circle cx="286" cy="130" r=".75"/><circle cx="288.3" cy="129.9" r=".75"/><circle cx="286.2" cy="128" r=".75"/><circle cx="281.6" cy="130.3" r=".75"/><circle cx="294.4" cy="130.1" r=".75"/><circle cx="287.5" cy="129" r=".75"/><circle cx="291.5" cy="130.2" r=".75"/><circle cx="283.9" cy="129.7" r=".75"/><circle cx="282.8" cy="130.3" r=".75"/><circle cx="291.4" cy="129.6" r=".75"/><circle cx="286.5" cy="129" r=".75"/><circle cx="282.6" cy="129.4" r=".75"/><circle cx="286.7" cy="128.9" r=".75"/><circle cx="283.6" cy="129.9" r=".75"/><circle cx="284.7" cy="129.5" r=".75"/><circle cx="286.8" cy="130.1" r=".75"/><circle cx="290" cy="130.2" r=".75"/><circle cx="287.6" cy="130.1" r=".75"/><circle cx="287.8" cy="130.1" r=".75"/><circle cx="294.3" cy="129.7" r=".75"/><circle cx="284.7" cy="129.1" r=".75"/><circle cx="289.8" cy="130.2" r=".75"/><circle cx="283.5" cy="130.1" r=".75"/><circle cx="283.8" cy="129.6" r=".75"/><circle cx="288.7" cy="129" r=".75"/><circle cx="285.1" cy="129.6" r=".75"/><circle cx="282.8" cy="130" r=".75"/><circle cx="285.8" cy="129.6" r=".75"/><circle cx="294.5" cy="130" r=".75"/><circle cx="284" cy="129.1" r=".75"/><circle cx="282.9" cy="129.7" r=".75"/><circle cx="286" cy="130.1" r=".75"/><circle cx="284.1" cy="128.1" r=".75"/><circle cx="291" cy="129.2" r=".75"/><circle cx="285.9" cy="129.7" r=".75"/><circle cx="282.3" cy="130" r=".75"/><circle cx="285.2" cy="130.2" r=".75"/><circle cx="286.5" cy="130" r=".75"/><circle cx="293.6" cy="129.1" r=".75"/><circle cx="290.4" cy="129.8" r=".75"/><circle cx="304.1" cy="125.6" r=".75"/><circle cx="287.5" cy="129.5" r=".75"/><circle cx="289.3" cy="128.8" r=".75"/><circle cx="293" cy="128.6" r=".75"/><circle cx="301.4" cy="127.1" r=".75"/><circle cx="301.7" cy="124.4" r=".75"/><circle cx="293.5" cy="127.3" r=".75"/><circle cx="292.3" cy="127.6" r=".75"/><circle cx="304" cy="124.2" r=".75"/><circle cx="299.3" cy="124" r=".75"/><circle cx="300.4" cy="124.4" r=".75"/><circle cx="302.9" cy="121.6" r=".75"/><circle cx="287.8" cy="127.4" r=".75"/><circle cx="282.1" cy="117.4" r=".75"/><circle cx="286.5" cy="110.3" r=".75"/><circle cx="283" cy="104.9" r=".75"/><circle cx="291.6" cy="109.9" r=".75"/><circle cx="283.9" cy="125" r=".75"/><circle cx="281.4" cy="126.9" r=".75"/><circle cx="281.1" cy="100.8" r=".75"/><circle cx="282.6" cy="110.1" r=".75"/><circle cx="290.8" cy="124.7" r=".75"/><circle cx="288" cy="112.2" r=".75"/><circle cx="284.7" cy="106.6" r=".75"/><circle cx="289.2" cy="110.9" r=".75"/><circle cx="282" cy="117.9" r=".75"/><circle cx="282.7" cy="52.1" r=".75"/><circle cx="300.4" cy="36.7" r=".75"/><circle cx="282.5" cy="44.3" r=".75"/><circle cx="284.4" cy="59.4" r=".75"/><circle cx="284.4" cy="54" r=".75"/><circle cx="284.3" cy="46.8" r=".75"/><circle cx="292.2" cy="53.6" r=".75"/><circle cx="286.8" cy="83.7" r=".75"/><circle cx="281.4" cy="40.1" r=".75"/><circle cx="291.6" cy="20.9" r=".75"/><circle cx="291.2" cy="20.9" r=".75"/><circle cx="289.6" cy="20.9" r=".75"/><circle cx="288.5" cy="20.9" r=".75"/></g>
<g fill="#4848ff" fill-opacity=".4" stroke="#2828ff" stroke-width=".25" stroke-opacity=".7"><circle cx="257.1" cy="129.7" r=".8"/><circle cx="255.7" cy="130.3" r=".8"/><circle cx="253.5" cy="130.1" r=".8"/><circle cx="257" cy="128.7" r=".8"/><circle cx="255.2" cy="129.6" r=".8"/><circle cx="244.8" cy="129.7" r=".8"/><circle cx="250.2" cy="130.2" r=".8"/><circle cx="255.8" cy="130" r=".8"/><circle cx="259.9" cy="130.3" r=".8"/><circle cx="246.4" cy="128.4" r=".8"/><circle cx="251.9" cy="128.8" r=".8"/><circle cx="256" cy="128.5" r=".8"/><circle cx="257.2" cy="129.9" r=".8"/><circle cx="261.5" cy="130.2" r=".8"/><circle cx="257.3" cy="129.8" r=".8"/><circle cx="260.1" cy="129.9" r=".8"/><circle cx="260.4" cy="130" r=".8"/><circle cx="253.2" cy="130.1" r=".8"/><circle cx="249.5" cy="129.7" r=".8"/><circle cx="261.3" cy="129.3" r=".8"/><circle cx="258.6" cy="130.1" r=".8"/><circle cx="259.6" cy="130.3" r=".8"/><circle cx="257.5" cy="128.4" r=".8"/><circle cx="258.5" cy="129.3" r=".8"/><circle cx="256.6" cy="128.6" r=".8"/><circle cx="257.2" cy="129.5" r=".8"/><circle cx="259.7" cy="130" r=".8"/><circle cx="258.5" cy="129.9" r=".8"/><circle cx="257.8" cy="130.1" r=".8"/><circle cx="255.6" cy="129.4" r=".8"/><circle cx="253.5" cy="128.8" r=".8"/><circle cx="260.3" cy="129.3" r=".8"/><circle cx="258.6" cy="130" r=".8"/><circle cx="253" cy="129.3" r=".8"/><circle cx="258.8" cy="129.9" r=".8"/><circle cx="258.1" cy="129.8" r=".8"/><circle cx="255.9" cy="129.9" r=".8"/><circle cx="253.1" cy="129.3" r=".8"/><circle cx="258.8" cy="129.2" r=".8"/><circle cx="256.9" cy="130.2" r=".8"/><circle cx="259.1" cy="127.8" r=".8"/><circle cx="261.7" cy="122.7" r=".8"/><circle cx="259.5" cy="121.8" r=".8"/><circle cx="262" cy="119.9" r=".8"/><circle cx="261.7" cy="113.5" r=".8"/><circle cx="260.2" cy="121.6" r=".8"/><circle cx="256.5" cy="87.1" r=".8"/><circle cx="256.1" cy="73.8" r=".8"/></g>
<path d="M262.3 20V135.3M280.5 20V135.3M198 130.3H344.8" stroke="#3a3a3a" stroke-width=".6" stroke-dasharray="1.4,2.7"/>
<circle cx="350.9" cy="74.8" r=".9" fill="#4040ff"/>
<text x="354.2" y="75.8" style="font-family:'Liberation Sans',sans-serif;font-size:2.8px" fill="#444">Down_Sig</text>
<circle cx="350.9" cy="79.2" r=".9" fill="#c8c8c8"/>
<text x="354.2" y="80.2" style="font-family:'Liberation Sans',sans-serif;font-size:2.8px" fill="#444">No_Sig</text>
<circle cx="350.9" cy="83.5" r=".9" fill="#ff4040"/>
<text x="354.2" y="84.5" style="font-family:'Liberation Sans',sans-serif;font-size:2.8px" fill="#444">Up_Sig</text>
<rect x="198" y="20" width="56" height="42" fill="#ececec"/>
<path d="M206.8 25.5V54.6" stroke="#fff" stroke-width=".5"/>
<path d="M221.4 25.5V54.6" stroke="#fff" stroke-width=".5"/>
<path d="M236 25.5V54.6" stroke="#fff" stroke-width=".5"/>
<path d="M250.6 25.5V54.6" stroke="#fff" stroke-width=".5"/>
<text x="224" y="24.7" style="font-family:'Liberation Sans',sans-serif;font-size:2.8px" fill="#111" text-anchor="middle" stroke="#111" stroke-width=".06">High_PHF vs Low_PHF</text>
<rect x="206.8" y="27.8" width="35" height="9.6" fill="#f4312c" stroke="#333" stroke-width=".4"/>
<rect x="206.8" y="42.2" width="22" height="9.6" fill="#40288a" stroke="#333" stroke-width=".4"/>
<text x="205.5" y="33.6" style="font-family:'Liberation Sans',sans-serif;font-size:2.6px" fill="#111" text-anchor="end" stroke="#111" stroke-width=".06">Up</text>
<text x="205.5" y="48" style="font-family:'Liberation Sans',sans-serif;font-size:2.6px" fill="#111" text-anchor="end" stroke="#111" stroke-width=".06">Down</text>
<text x="243.1" y="33.6" style="font-family:'Liberation Sans',sans-serif;font-size:2.7px" fill="#111" stroke="#111" stroke-width=".08">240</text>
<text x="230.1" y="48" style="font-family:'Liberation Sans',sans-serif;font-size:2.7px" fill="#111" stroke="#111" stroke-width=".08">170</text>
<path d="M206.8 26.5V54.6H250.6" fill="none" stroke="#333" stroke-width=".4"/>
<path d="M206.8 54.6V55.5" stroke="#333" stroke-width=".3"/>
<text x="206.8" y="57.5" style="font-family:'Liberation Sans',sans-serif;font-size:2.4px" fill="#111" text-anchor="middle" stroke="#111" stroke-width=".05">0</text>
<path d="M221.4 54.6V55.5" stroke="#333" stroke-width=".3"/>
<text x="221.4" y="57.5" style="font-family:'Liberation Sans',sans-serif;font-size:2.4px" fill="#111" text-anchor="middle" stroke="#111" stroke-width=".05">100</text>
<path d="M236 54.6V55.5" stroke="#333" stroke-width=".3"/>
<text x="236" y="57.5" style="font-family:'Liberation Sans',sans-serif;font-size:2.4px" fill="#111" text-anchor="middle" stroke="#111" stroke-width=".05">200</text>
<path d="M250.6 54.6V55.5" stroke="#333" stroke-width=".3"/>
<text x="250.6" y="57.5" style="font-family:'Liberation Sans',sans-serif;font-size:2.4px" fill="#111" text-anchor="middle" stroke="#111" stroke-width=".05">300</text>
<text x="228.8" y="60.9" style="font-family:'Liberation Sans',sans-serif;font-size:2.7px;font-weight:bold" fill="#000" text-anchor="middle">Number of DE lncRNA</text>
<text x="270.3" y="16.2" style="font-family:'Liberation Serif',serif;font-size:9.7px;font-weight:bold" fill="#000" text-anchor="middle">lncRNA</text>
<rect x="379.6" y="20" width="148.3" height="115.3" fill="#ececec"/>
<path d="M381.1 20V135.3" stroke="#fff" stroke-width=".25"/>
<path d="M395.6 20V135.3" stroke="#fff" stroke-width=".5"/>
<path d="M410.1 20V135.3" stroke="#fff" stroke-width=".25"/>
<path d="M424.6 20V135.3" stroke="#fff" stroke-width=".5"/>
<path d="M439.1 20V135.3" stroke="#fff" stroke-width=".25"/>
<path d="M453.6 20V135.3" stroke="#fff" stroke-width=".5"/>
<path d="M468.1 20V135.3" stroke="#fff" stroke-width=".25"/>
<path d="M482.6 20V135.3" stroke="#fff" stroke-width=".5"/>
<path d="M497.1 20V135.3" stroke="#fff" stroke-width=".25"/>
<path d="M511.6 20V135.3" stroke="#fff" stroke-width=".5"/>
<path d="M526.1 20V135.3" stroke="#fff" stroke-width=".25"/>
<path d="M379.6 26.7H527.9" stroke="#fff" stroke-width=".5"/>
<path d="M379.6 44.2H527.9" stroke="#fff" stroke-width=".25"/>
<path d="M379.6 61.6H527.9" stroke="#fff" stroke-width=".5"/>
<path d="M379.6 79.1H527.9" stroke="#fff" stroke-width=".25"/>
<path d="M379.6 96.5H527.9" stroke="#fff" stroke-width=".5"/>
<path d="M379.6 114H527.9" stroke="#fff" stroke-width=".25"/>
<path d="M379.6 131.4H527.9" stroke="#fff" stroke-width=".5"/>
<text x="378.4" y="27.6" style="font-family:'Liberation Sans',sans-serif;font-size:2.8px" fill="#555" text-anchor="end">200</text>
<text x="378.4" y="62.5" style="font-family:'Liberation Sans',sans-serif;font-size:2.8px" fill="#555" text-anchor="end">100</text>
<text x="378.4" y="97.4" style="font-family:'Liberation Sans',sans-serif;font-size:2.8px" fill="#555" text-anchor="end">50</text>
<text x="378.4" y="132.3" style="font-family:'Liberation Sans',sans-serif;font-size:2.8px" fill="#555" text-anchor="end">0</text>
<text x="395.6" y="139.5" style="font-family:'Liberation Sans',sans-serif;font-size:2.8px" fill="#555" text-anchor="middle">-10</text>
<text x="424.6" y="139.5" style="font-family:'Liberation Sans',sans-serif;font-size:2.8px" fill="#555" text-anchor="middle">-5</text>
<text x="453.6" y="139.5" style="font-family:'Liberation Sans',sans-serif;font-size:2.8px" fill="#555" text-anchor="middle">0</text>
<text x="482.6" y="139.5" style="font-family:'Liberation Sans',sans-serif;font-size:2.8px" fill="#555" text-anchor="middle">5</text>
<text x="511.6" y="139.5" style="font-family:'Liberation Sans',sans-serif;font-size:2.8px" fill="#555" text-anchor="middle">10</text>
<text x="454" y="142.9" style="font-family:'Liberation Sans',sans-serif;font-size:2.55px" fill="#222" text-anchor="middle" stroke="#222" stroke-width=".05">log2(Low_PHF/High_PHF)</text>
<text transform="translate(373.3,78) rotate(-90)" style="font-family:'Liberation Sans',sans-serif;font-size:2.9px" fill="#333" text-anchor="middle">-log10 Qvalue</text>
<path d="M450.5,112 L447.5,122 L445,131 L462,131 L459.5,122 L456.5,112Z" fill="#dcdcdc"/>
<g fill="#dedede" fill-opacity=".4" stroke="#a8a8a8" stroke-width=".22" stroke-opacity=".65"><circle cx="449.6" cy="122.1" r=".9"/><circle cx="452.6" cy="86.3" r=".9"/><circle cx="454" cy="83.4" r=".9"/><circle cx="453.7" cy="50.9" r=".9"/><circle cx="454.8" cy="120.8" r=".9"/><circle cx="461.5" cy="102.3" r=".9"/><circle cx="450" cy="51.1" r=".9"/><circle cx="454.4" cy="126.8" r=".9"/><circle cx="456.1" cy="82.1" r=".9"/><circle cx="450.9" cy="66.6" r=".9"/><circle cx="458.3" cy="77" r=".9"/><circle cx="455.7" cy="87.9" r=".9"/><circle cx="461.5" cy="117.8" r=".9"/><circle cx="454.9" cy="102" r=".9"/><circle cx="456.9" cy="70" r=".9"/><circle cx="451.2" cy="36" r=".9"/><circle cx="454.8" cy="109.8" r=".9"/><circle cx="451.4" cy="33.4" r=".9"/><circle cx="454.5" cy="43.7" r=".9"/><circle cx="454.8" cy="123.4" r=".9"/><circle cx="451" cy="27.7" r=".9"/><circle cx="455.7" cy="117.8" r=".9"/><circle cx="451" cy="98.2" r=".9"/><circle cx="455.6" cy="88.7" r=".9"/><circle cx="457.7" cy="88.8" r=".9"/><circle cx="451.7" cy="34.6" r=".9"/><circle cx="457.1" cy="47.6" r=".9"/><circle cx="453.1" cy="126.2" r=".9"/><circle cx="458.5" cy="46.9" r=".9"/><circle cx="451.9" cy="90.7" r=".9"/><circle cx="454.8" cy="70.8" r=".9"/><circle cx="459.7" cy="90.2" r=".9"/><circle cx="460.9" cy="119" r=".9"/><circle cx="454.9" cy="23" r=".9"/><circle cx="454.9" cy="129" r=".9"/><circle cx="449.3" cy="126.8" r=".9"/><circle cx="454.5" cy="118.3" r=".9"/><circle cx="445.5" cy="130" r=".9"/><circle cx="458.5" cy="84.9" r=".9"/><circle cx="455.3" cy="115.5" r=".9"/><circle cx="456.2" cy="43.3" r=".9"/><circle cx="453.2" cy="21.3" r=".9"/><circle cx="458.4" cy="117.1" r=".9"/><circle cx="456.2" cy="130.2" r=".9"/><circle cx="448.6" cy="124.5" r=".9"/><circle cx="456.7" cy="126.5" r=".9"/><circle cx="456.1" cy="130" r=".9"/><circle cx="452.3" cy="29" r=".9"/><circle cx="451.7" cy="40.5" r=".9"/><circle cx="456.3" cy="96.7" r=".9"/><circle cx="450.1" cy="80.9" r=".9"/><circle cx="451.1" cy="84.1" r=".9"/><circle cx="451.4" cy="32.4" r=".9"/><circle cx="453.4" cy="69.8" r=".9"/><circle cx="449.9" cy="122.2" r=".9"/><circle cx="461.5" cy="96.6" r=".9"/><circle cx="457.1" cy="93.3" r=".9"/><circle cx="453.8" cy="89.4" r=".9"/><circle cx="448.9" cy="130.3" r=".9"/><circle cx="449.4" cy="129.7" r=".9"/><circle cx="448.7" cy="83.1" r=".9"/><circle cx="454.8" cy="113.6" r=".9"/><circle cx="453.5" cy="71.8" r=".9"/><circle cx="452.6" cy="129.7" r=".9"/><circle cx="455.8" cy="76.3" r=".9"/><circle cx="452.9" cy="103.8" r=".9"/><circle cx="452.1" cy="87.7" r=".9"/><circle cx="457" cy="116.9" r=".9"/><circle cx="450.8" cy="112.2" r=".9"/><circle cx="451.6" cy="111.5" r=".9"/><circle cx="457" cy="61.7" r=".9"/><circle cx="454.1" cy="67.5" r=".9"/><circle cx="454.8" cy="117.1" r=".9"/><circle cx="460.9" cy="122.1" r=".9"/><circle cx="447.5" cy="125" r=".9"/><circle cx="456.2" cy="128.6" r=".9"/><circle cx="449.7" cy="116.2" r=".9"/><circle cx="459.7" cy="105.6" r=".9"/><circle cx="454.6" cy="47.8" r=".9"/><circle cx="456" cy="80" r=".9"/><circle cx="452" cy="42.6" r=".9"/><circle cx="454.4" cy="128" r=".9"/><circle cx="455.8" cy="95.6" r=".9"/><circle cx="457.7" cy="50.7" r=".9"/><circle cx="452.1" cy="125.2" r=".9"/><circle cx="459.2" cy="81.1" r=".9"/><circle cx="452.7" cy="56.2" r=".9"/><circle cx="455.3" cy="118.5" r=".9"/><circle cx="453.2" cy="58.2" r=".9"/><circle cx="457" cy="107.7" r=".9"/><circle cx="445.5" cy="105" r=".9"/><circle cx="460.4" cy="121" r=".9"/><circle cx="461.5" cy="130.1" r=".9"/><circle cx="451.7" cy="70.8" r=".9"/><circle cx="461.5" cy="104.2" r=".9"/><circle cx="449.7" cy="117" r=".9"/><circle cx="456.1" cy="85.4" r=".9"/><circle cx="448.1" cy="99.1" r=".9"/><circle cx="451.5" cy="112.9" r=".9"/><circle cx="457.1" cy="126.3" r=".9"/><circle cx="451.8" cy="94.8" r=".9"/><circle cx="461.5" cy="127.7" r=".9"/><circle cx="451.3" cy="75.8" r=".9"/><circle cx="447.4" cy="76.2" r=".9"/><circle cx="453.1" cy="76.1" r=".9"/><circle cx="453.2" cy="85.4" r=".9"/><circle cx="451" cy="120" r=".9"/><circle cx="459.5" cy="98.7" r=".9"/><circle cx="459.5" cy="105.4" r=".9"/><circle cx="450.9" cy="109.8" r=".9"/><circle cx="457.4" cy="115.2" r=".9"/><circle cx="450.6" cy="83.1" r=".9"/><circle cx="455.5" cy="109.1" r=".9"/><circle cx="457.2" cy="81.1" r=".9"/><circle cx="456.8" cy="120.1" r=".9"/><circle cx="446.5" cy="81.7" r=".9"/><circle cx="457.9" cy="80.7" r=".9"/><circle cx="453.7" cy="78.3" r=".9"/><circle cx="452.9" cy="127.4" r=".9"/><circle cx="456.8" cy="98.6" r=".9"/><circle cx="445.5" cy="104.9" r=".9"/><circle cx="455.3" cy="130.3" r=".9"/><circle cx="455.7" cy="127.1" r=".9"/><circle cx="455.7" cy="126.3" r=".9"/><circle cx="454.2" cy="71.5" r=".9"/><circle cx="452" cy="100.1" r=".9"/><circle cx="451.6" cy="111.3" r=".9"/><circle cx="456.8" cy="91.3" r=".9"/><circle cx="451.8" cy="95" r=".9"/><circle cx="456" cy="110.5" r=".9"/><circle cx="447.6" cy="20.9" r=".9"/><circle cx="454.4" cy="20.9" r=".9"/><circle cx="456.9" cy="20.9" r=".9"/><circle cx="451.6" cy="20.9" r=".9"/><circle cx="446.9" cy="20.9" r=".9"/><circle cx="448.4" cy="20.9" r=".9"/><circle cx="451.5" cy="20.9" r=".9"/><circle cx="455.2" cy="20.9" r=".9"/><circle cx="458" cy="20.9" r=".9"/><circle cx="451.6" cy="20.9" r=".9"/><circle cx="458.3" cy="20.9" r=".9"/><circle cx="455.4" cy="20.9" r=".9"/><circle cx="452.4" cy="20.9" r=".9"/><circle cx="451.5" cy="20.9" r=".9"/><circle cx="453.4" cy="20.9" r=".9"/><circle cx="456.7" cy="20.9" r=".9"/><circle cx="452.2" cy="20.9" r=".9"/><circle cx="456.6" cy="20.9" r=".9"/></g>
<g fill="#ff4848" fill-opacity=".4" stroke="#ff2828" stroke-width=".25" stroke-opacity=".7"><circle cx="465.9" cy="130.3" r=".75"/><circle cx="469" cy="130.1" r=".75"/><circle cx="466.8" cy="130" r=".75"/><circle cx="470.4" cy="129.7" r=".75"/><circle cx="466.6" cy="130.1" r=".75"/><circle cx="468.7" cy="129.6" r=".75"/><circle cx="463.3" cy="129.5" r=".75"/><circle cx="468.2" cy="129.4" r=".75"/><circle cx="467.4" cy="129" r=".75"/><circle cx="464.6" cy="129.3" r=".75"/><circle cx="463.5" cy="129.4" r=".75"/><circle cx="467.2" cy="129.8" r=".75"/><circle cx="465.2" cy="130.4" r=".75"/><circle cx="463.2" cy="130.2" r=".75"/><circle cx="464.5" cy="130.2" r=".75"/><circle cx="464.8" cy="130.1" r=".75"/><circle cx="470.6" cy="130.2" r=".75"/><circle cx="468.6" cy="129.3" r=".75"/><circle cx="467.5" cy="125.9" r=".75"/><circle cx="470.8" cy="121" r=".75"/><circle cx="468.9" cy="110.7" r=".75"/><circle cx="468.5" cy="119.7" r=".75"/><circle cx="468" cy="112" r=".75"/><circle cx="468.3" cy="127.8" r=".75"/><circle cx="462.8" cy="116.2" r=".75"/><circle cx="466.4" cy="125.7" r=".75"/><circle cx="463.7" cy="113.4" r=".75"/><circle cx="463.8" cy="121.7" r=".75"/><circle cx="468.4" cy="117.5" r=".75"/><circle cx="464.6" cy="117.5" r=".75"/><circle cx="464.5" cy="117.9" r=".75"/><circle cx="462.9" cy="119.5" r=".75"/><circle cx="471.1" cy="117.8" r=".75"/><circle cx="468.3" cy="113.1" r=".75"/><circle cx="467.7" cy="124.4" r=".75"/><circle cx="467.5" cy="119.8" r=".75"/><circle cx="465.6" cy="122.2" r=".75"/><circle cx="470.1" cy="112.8" r=".75"/><circle cx="463" cy="124.2" r=".75"/><circle cx="470.3" cy="119.8" r=".75"/><circle cx="465.3" cy="123.7" r=".75"/><circle cx="463.4" cy="115.1" r=".75"/><circle cx="463.4" cy="89.3" r=".75"/><circle cx="464" cy="71.6" r=".75"/><circle cx="466.2" cy="107.7" r=".75"/><circle cx="463.9" cy="95.3" r=".75"/><circle cx="464.5" cy="102.7" r=".75"/><circle cx="465.5" cy="73.4" r=".75"/><circle cx="463.5" cy="61.2" r=".75"/><circle cx="464.6" cy="36.5" r=".75"/><circle cx="463.3" cy="35.7" r=".75"/><circle cx="463.9" cy="51.4" r=".75"/><circle cx="463.2" cy="59.7" r=".75"/><circle cx="464.6" cy="44.8" r=".75"/><circle cx="467.2" cy="20.9" r=".75"/><circle cx="470.7" cy="20.9" r=".75"/><circle cx="467.4" cy="20.9" r=".75"/><circle cx="499.8" cy="129.2" r=".75"/><circle cx="497.6" cy="130.2" r=".75"/><circle cx="492.8" cy="128.9" r=".75"/><circle cx="488.6" cy="129.8" r=".75"/><circle cx="496.6" cy="130.2" r=".75"/><circle cx="499.8" cy="128.9" r=".75"/><circle cx="487.8" cy="129" r=".75"/><circle cx="487.8" cy="129.8" r=".75"/></g>
<g fill="#4848ff" fill-opacity=".4" stroke="#2828ff" stroke-width=".25" stroke-opacity=".7"><circle cx="439.9" cy="129.1" r=".8"/><circle cx="443.8" cy="128.8" r=".8"/><circle cx="442.8" cy="129.6" r=".8"/><circle cx="443.8" cy="130.1" r=".8"/><circle cx="439.3" cy="129.6" r=".8"/><circle cx="443.3" cy="129.7" r=".8"/><circle cx="440.1" cy="129.8" r=".8"/><circle cx="441.3" cy="130.4" r=".8"/><circle cx="440.8" cy="130" r=".8"/><circle cx="443" cy="129.4" r=".8"/><circle cx="438.9" cy="122.3" r=".8"/><circle cx="441.6" cy="119.3" r=".8"/><circle cx="443.1" cy="125.3" r=".8"/><circle cx="443.9" cy="127.8" r=".8"/><circle cx="439.2" cy="119.1" r=".8"/><circle cx="439" cy="122.1" r=".8"/><circle cx="440.1" cy="126.3" r=".8"/><circle cx="408.5" cy="129.5" r=".8"/><circle cx="395.3" cy="124.3" r=".8"/></g>
<path d="M444.6 20V135.3M462.4 20V135.3M379.6 130.4H527.9" stroke="#3a3a3a" stroke-width=".6" stroke-dasharray="1.4,2.7"/>
<circle cx="533.6" cy="74.8" r=".9" fill="#4040ff"/>
<text x="536.9" y="75.8" style="font-family:'Liberation Sans',sans-serif;font-size:2.8px" fill="#444">Down_Sig</text>
<circle cx="533.6" cy="79.2" r=".9" fill="#c8c8c8"/>
<text x="536.9" y="80.2" style="font-family:'Liberation Sans',sans-serif;font-size:2.8px" fill="#444">No_Sig</text>
<circle cx="533.6" cy="83.5" r=".9" fill="#ff4040"/>
<text x="536.9" y="84.5" style="font-family:'Liberation Sans',sans-serif;font-size:2.8px" fill="#444">Up_Sig</text>
<rect x="379.6" y="20" width="58" height="42" fill="#ececec"/>
<path d="M389.1 25.5V54.6" stroke="#fff" stroke-width=".5"/>
<path d="M403.7 25.5V54.6" stroke="#fff" stroke-width=".5"/>
<path d="M418.3 25.5V54.6" stroke="#fff" stroke-width=".5"/>
<path d="M432.9 25.5V54.6" stroke="#fff" stroke-width=".5"/>
<text x="405" y="24.7" style="font-family:'Liberation Sans',sans-serif;font-size:2.8px" fill="#111" text-anchor="middle" stroke="#111" stroke-width=".06">High_PHF vs Low_PHF</text>
<rect x="389.1" y="27.8" width="29.4" height="9.6" fill="#f4312c" stroke="#333" stroke-width=".4"/>
<rect x="389.1" y="42.2" width="17.2" height="9.6" fill="#40288a" stroke="#333" stroke-width=".4"/>
<text x="387.8" y="33.6" style="font-family:'Liberation Sans',sans-serif;font-size:2.6px" fill="#111" text-anchor="end" stroke="#111" stroke-width=".06">Up</text>
<text x="387.8" y="48" style="font-family:'Liberation Sans',sans-serif;font-size:2.6px" fill="#111" text-anchor="end" stroke="#111" stroke-width=".06">Down</text>
<text x="419.8" y="33.6" style="font-family:'Liberation Sans',sans-serif;font-size:2.7px" fill="#111" stroke="#111" stroke-width=".08">100</text>
<text x="407.6" y="48" style="font-family:'Liberation Sans',sans-serif;font-size:2.7px" fill="#111" stroke="#111" stroke-width=".08">58</text>
<path d="M389.1 26.5V54.6H432.9" fill="none" stroke="#333" stroke-width=".4"/>
<path d="M389.1 54.6V55.5" stroke="#333" stroke-width=".3"/>
<text x="389.1" y="57.5" style="font-family:'Liberation Sans',sans-serif;font-size:2.4px" fill="#111" text-anchor="middle" stroke="#111" stroke-width=".05">0</text>
<path d="M403.7 54.6V55.5" stroke="#333" stroke-width=".3"/>
<text x="403.7" y="57.5" style="font-family:'Liberation Sans',sans-serif;font-size:2.4px" fill="#111" text-anchor="middle" stroke="#111" stroke-width=".05">50</text>
<path d="M418.3 54.6V55.5" stroke="#333" stroke-width=".3"/>
<text x="418.3" y="57.5" style="font-family:'Liberation Sans',sans-serif;font-size:2.4px" fill="#111" text-anchor="middle" stroke="#111" stroke-width=".05">100</text>
<path d="M432.9 54.6V55.5" stroke="#333" stroke-width=".3"/>
<text x="432.9" y="57.5" style="font-family:'Liberation Sans',sans-serif;font-size:2.4px" fill="#111" text-anchor="middle" stroke="#111" stroke-width=".05">150</text>
<text x="410" y="60.9" style="font-family:'Liberation Sans',sans-serif;font-size:2.7px;font-weight:bold" fill="#000" text-anchor="middle">Number of DE miRNA</text>
<text x="452.2" y="16.2" style="font-family:'Liberation Serif',serif;font-size:9.7px;font-weight:bold" fill="#000" text-anchor="middle">miRNA</text>
<text x="5.5" y="14" style="font-family:'Liberation Serif',serif;font-size:12.5px;font-weight:bold" fill="#000">A</text>
<text x="180.8" y="14" style="font-family:'Liberation Serif',serif;font-size:12.5px;font-weight:bold" fill="#000">B</text>
<text x="356.4" y="14" style="font-family:'Liberation Serif',serif;font-size:12.5px;font-weight:bold" fill="#000">C</text>
<text x="6" y="162" style="font-family:'Liberation Serif',serif;font-size:12.5px;font-weight:bold" fill="#000">D</text>
<text x="180.8" y="162.2" style="font-family:'Liberation Serif',serif;font-size:12.5px;font-weight:bold" fill="#000">E</text>
<text x="357" y="162" style="font-family:'Liberation Serif',serif;font-size:12.5px;font-weight:bold" fill="#000">F</text>
<text x="4.6" y="285.6" style="font-family:'Liberation Serif',serif;font-size:12.5px;font-weight:bold" fill="#000">G</text>
<g transform="translate(75.5,215) scale(1.0545,1)">
<path d="M0,-39.4 A39.4,39.4 0 0 1 12.2,-37.5 L4.7,-14.5 A15.2,15.2 0 0 0 0,-15.2 Z" fill="#4f8fd9"/>
<path d="M0,-55 A55,55 0 0 1 17,-52.3 L15.6,-48 A50.5,50.5 0 0 0 0,-50.5 Z" fill="#4f8fd9"/>
<path d="M2.8,-53.3 A53.4,53.4 0 0 1 13.8,-51.6 L13.5,-50.4 A52.2,52.2 0 0 0 2.7,-52.1 Z" fill="#053a48" fill-opacity="0.33"/>
<path d="M1,-48.7 A48.7,48.7 0 0 1 10.5,-47.6 L9.9,-45 A46.1,46.1 0 0 0 1,-46.1 Z" fill="#ff5a1e"/>
<path d="M1.7,-47.8 A47.8,47.8 0 0 1 9.6,-46.8 L9.5,-46 A47,47 0 0 0 1.6,-47 Z" fill="#a04020" fill-opacity=".3"/>
<path d="M.8,-44.2 A44.2,44.2 0 0 1 8.8,-43.3 L8.1,-39.8 A40.6,40.6 0 0 0 .7,-40.6 Z" fill="#c0159b"/>
<path d="M8.8,-43.3 A44.2,44.2 0 0 1 12.9,-42.3 L11.9,-38.8 A40.6,40.6 0 0 0 8.1,-39.8 Z" fill="#7275c4"/>
<path d="M12.2,-37.5 A39.4,39.4 0 0 1 23.2,-31.9 L8.9,-12.3 A15.2,15.2 0 0 0 4.7,-14.5 Z" fill="#4f8fd9"/>
<path d="M17,-52.3 A55,55 0 0 1 32.3,-44.5 L29.7,-40.9 A50.5,50.5 0 0 0 15.6,-48 Z" fill="#4f8fd9"/>
<path d="M19.1,-49.9 A53.4,53.4 0 0 1 29.1,-44.8 L28.4,-43.8 A52.2,52.2 0 0 0 18.7,-48.7 Z" fill="#053a48" fill-opacity="0.33"/>
<path d="M16,-46 A48.7,48.7 0 0 1 24.8,-41.9 L23.5,-39.7 A46.1,46.1 0 0 0 15.2,-43.5 Z" fill="#ffb08a"/>
<path d="M16.3,-44.9 A47.8,47.8 0 0 1 23.8,-41.5 L23.4,-40.8 A47,47 0 0 0 16.1,-44.2 Z" fill="#a04020" fill-opacity=".3"/>
<path d="M14.4,-41.8 A44.2,44.2 0 0 1 22.5,-38 L20.7,-34.9 A40.6,40.6 0 0 0 13.2,-38.4 Z" fill="#c0159b"/>
<path d="M22.5,-38 A44.2,44.2 0 0 1 25.4,-36.2 L23.3,-33.3 A40.6,40.6 0 0 0 20.7,-34.9 Z" fill="#7275c4"/>
<path d="M23.2,-31.9 A39.4,39.4 0 0 1 31.9,-23.2 L12.3,-8.9 A15.2,15.2 0 0 0 8.9,-12.3 Z" fill="#4f8fd9"/>
<path d="M32.3,-44.5 A55,55 0 0 1 44.5,-32.3 L40.9,-29.7 A50.5,50.5 0 0 0 29.7,-40.9 Z" fill="#4f8fd9"/>
<path d="M33.6,-41.5 A53.4,53.4 0 0 1 41.5,-33.6 L40.6,-32.9 A52.2,52.2 0 0 0 32.9,-40.6 Z" fill="#053a48" fill-opacity="0.33"/>
<path d="M29.4,-38.8 A48.7,48.7 0 0 1 32.2,-36.5 L30.5,-34.6 A46.1,46.1 0 0 0 27.9,-36.7 Z" fill="#ffa882"/>
<path d="M29.4,-37.7 A47.8,47.8 0 0 1 31.1,-36.3 L30.6,-35.7 A47,47 0 0 0 28.9,-37 Z" fill="#a04020" fill-opacity=".3"/>
<path d="M26.6,-35.3 A44.2,44.2 0 0 1 32.9,-29.5 L30.3,-27.1 A40.6,40.6 0 0 0 24.4,-32.4 Z" fill="#c0159b"/>
<path d="M32.9,-29.5 A44.2,44.2 0 0 1 35.3,-26.6 L32.4,-24.4 A40.6,40.6 0 0 0 30.3,-27.1 Z" fill="#7275c4"/>
<path d="M31.9,-23.2 A39.4,39.4 0 0 1 37.5,-12.2 L14.5,-4.7 A15.2,15.2 0 0 0 12.3,-8.9 Z" fill="#4f8fd9"/>
<path d="M44.5,-32.3 A55,55 0 0 1 52.3,-17 L48,-15.6 A50.5,50.5 0 0 0 40.9,-29.7 Z" fill="#4f8fd9"/>
<path d="M44.8,-29.1 A53.4,53.4 0 0 1 49.9,-19.1 L48.7,-18.7 A52.2,52.2 0 0 0 43.8,-28.4 Z" fill="#053a48" fill-opacity="0.33"/>
<path d="M40,-27.8 A48.7,48.7 0 0 1 45,-18.6 L42.6,-17.6 A46.1,46.1 0 0 0 37.9,-26.3 Z" fill="#ffa882"/>
<path d="M39.6,-26.7 A47.8,47.8 0 0 1 43.9,-18.9 L43.2,-18.6 A47,47 0 0 0 39,-26.3 Z" fill="#a04020" fill-opacity=".3"/>
<path d="M36.2,-25.4 A44.2,44.2 0 0 1 41.2,-15.9 L37.9,-14.6 A40.6,40.6 0 0 0 33.3,-23.3 Z" fill="#c0159b"/>
<path d="M41.2,-15.9 A44.2,44.2 0 0 1 41.8,-14.4 L38.4,-13.2 A40.6,40.6 0 0 0 37.9,-14.6 Z" fill="#7275c4"/>
<path d="M37.5,-12.2 A39.4,39.4 0 0 1 39.4,-0 L15.2,-0 A15.2,15.2 0 0 0 14.5,-4.7 Z" fill="#4f8fd9"/>
<path d="M52.3,-17 A55,55 0 0 1 55,-0 L50.5,-0 A50.5,50.5 0 0 0 48,-15.6 Z" fill="#4f8fd9"/>
<path d="M51.6,-13.8 A53.4,53.4 0 0 1 53.3,-2.8 L52.1,-2.7 A52.2,52.2 0 0 0 50.4,-13.5 Z" fill="#053a48" fill-opacity="0.33"/>
<path d="M46.6,-14.1 A48.7,48.7 0 0 1 48.6,-3.8 L46,-3.6 A46.1,46.1 0 0 0 44.1,-13.3 Z" fill="#ff9a6e"/>
<path d="M45.9,-13.2 A47.8,47.8 0 0 1 47.6,-4.4 L46.8,-4.3 A47,47 0 0 0 45.2,-13 Z" fill="#a04020" fill-opacity=".3"/>
<path d="M42.3,-12.9 A44.2,44.2 0 0 1 44.1,-2.3 L40.5,-2.1 A40.6,40.6 0 0 0 38.8,-11.9 Z" fill="#c0159b"/>
<path d="M44.1,-2.3 A44.2,44.2 0 0 1 44.2,-.8 L40.6,-.7 A40.6,40.6 0 0 0 40.5,-2.1 Z" fill="#7275c4"/>
<path d="M39.4,-0 A39.4,39.4 0 0 1 37.5,12.2 L14.5,4.7 A15.2,15.2 0 0 0 15.2,-0 Z" fill="#4f8fd9"/>
<path d="M55,-0 A55,55 0 0 1 52.3,17 L48,15.6 A50.5,50.5 0 0 0 50.5,-0 Z" fill="#4f8fd9"/>
<path d="M53.3,2.8 A53.4,53.4 0 0 1 51.6,13.8 L50.4,13.5 A52.2,52.2 0 0 0 52.1,2.7 Z" fill="#053a48" fill-opacity="0.33"/>
<path d="M48.7,1 A48.7,48.7 0 0 1 47.9,8.9 L45.3,8.4 A46.1,46.1 0 0 0 46.1,1 Z" fill="#ff8a5c"/>
<path d="M47.8,1.7 A47.8,47.8 0 0 1 47.1,8.1 L46.3,8 A47,47 0 0 0 47,1.6 Z" fill="#a04020" fill-opacity=".3"/>
<path d="M44.2,.8 A44.2,44.2 0 0 1 42.9,10.4 L39.5,9.6 A40.6,40.6 0 0 0 40.6,.7 Z" fill="#c0159b"/>
<path d="M42.9,10.4 A44.2,44.2 0 0 1 42.3,12.9 L38.8,11.9 A40.6,40.6 0 0 0 39.5,9.6 Z" fill="#7275c4"/>
<path d="M37.5,12.2 A39.4,39.4 0 0 1 31.9,23.2 L12.3,8.9 A15.2,15.2 0 0 0 14.5,4.7 Z" fill="#4f8fd9"/>
<path d="M52.3,17 A55,55 0 0 1 44.5,32.3 L40.9,29.7 A50.5,50.5 0 0 0 48,15.6 Z" fill="#4f8fd9"/>
<path d="M49.9,19.1 A53.4,53.4 0 0 1 44.8,29.1 L43.8,28.4 A52.2,52.2 0 0 0 48.7,18.7 Z" fill="#053a48" fill-opacity="0.33"/>
<path d="M46,16 A48.7,48.7 0 0 1 44.3,20.2 L41.9,19.1 A46.1,46.1 0 0 0 43.5,15.2 Z" fill="#ffb08a"/>
<path d="M44.9,16.3 A47.8,47.8 0 0 1 43.8,19.2 L43,18.9 A47,47 0 0 0 44.2,16.1 Z" fill="#a04020" fill-opacity=".3"/>
<path d="M41.8,14.4 A44.2,44.2 0 0 1 38.6,21.6 L35.4,19.9 A40.6,40.6 0 0 0 38.4,13.2 Z" fill="#c0159b"/>
<path d="M38.6,21.6 A44.2,44.2 0 0 1 36.2,25.4 L33.3,23.3 A40.6,40.6 0 0 0 35.4,19.9 Z" fill="#7275c4"/>
<path d="M31.9,23.2 A39.4,39.4 0 0 1 23.2,31.9 L8.9,12.3 A15.2,15.2 0 0 0 12.3,8.9 Z" fill="#4f8fd9"/>
<path d="M44.5,32.3 A55,55 0 0 1 32.3,44.5 L29.7,40.9 A50.5,50.5 0 0 0 40.9,29.7 Z" fill="#4f8fd9"/>
<path d="M41.5,33.6 A53.4,53.4 0 0 1 33.6,41.5 L32.9,40.6 A52.2,52.2 0 0 0 40.6,32.9 Z" fill="#053a48" fill-opacity="0.33"/>
<path d="M38.8,29.4 A48.7,48.7 0 0 1 31.3,37.3 L29.6,35.3 A46.1,46.1 0 0 0 36.7,27.9 Z" fill="#ffb08a"/>
<path d="M37.7,29.4 A47.8,47.8 0 0 1 31.2,36.2 L30.7,35.6 A47,47 0 0 0 37,28.9 Z" fill="#a04020" fill-opacity=".3"/>
<path d="M35.3,26.6 A44.2,44.2 0 0 1 29,33.3 L26.6,30.6 A40.6,40.6 0 0 0 32.4,24.4 Z" fill="#c0159b"/>
<path d="M29,33.3 A44.2,44.2 0 0 1 26.6,35.3 L24.4,32.4 A40.6,40.6 0 0 0 26.6,30.6 Z" fill="#7275c4"/>
<path d="M23.2,31.9 A39.4,39.4 0 0 1 12.2,37.5 L4.7,14.5 A15.2,15.2 0 0 0 8.9,12.3 Z" fill="#17b4a9"/>
<path d="M32.3,44.5 A55,55 0 0 1 17,52.3 L15.6,48 A50.5,50.5 0 0 0 29.7,40.9 Z" fill="#17b4a9"/>
<path d="M29.1,44.8 A53.4,53.4 0 0 1 19.1,49.9 L18.7,48.7 A52.2,52.2 0 0 0 28.4,43.8 Z" fill="#053a48" fill-opacity="0.33"/>
<path d="M27.8,40 A48.7,48.7 0 0 1 21,44 L19.9,41.6 A46.1,46.1 0 0 0 26.3,37.9 Z" fill="#ff8a5c"/>
<path d="M26.7,39.6 A47.8,47.8 0 0 1 21.2,42.8 L20.8,42.1 A47,47 0 0 0 26.3,39 Z" fill="#a04020" fill-opacity=".3"/>
<path d="M25.4,36.2 A44.2,44.2 0 0 1 16.1,41.2 L14.8,37.8 A40.6,40.6 0 0 0 23.3,33.3 Z" fill="#c0159b"/>
<path d="M16.1,41.2 A44.2,44.2 0 0 1 14.4,41.8 L13.2,38.4 A40.6,40.6 0 0 0 14.8,37.8 Z" fill="#7275c4"/>
<path d="M12.2,37.5 A39.4,39.4 0 0 1 0,39.4 L0,15.2 A15.2,15.2 0 0 0 4.7,14.5 Z" fill="#17b4a9"/>
<path d="M17,52.3 A55,55 0 0 1 0,55 L0,50.5 A50.5,50.5 0 0 0 15.6,48 Z" fill="#17b4a9"/>
<path d="M13.8,51.6 A53.4,53.4 0 0 1 2.8,53.3 L2.7,52.1 A52.2,52.2 0 0 0 13.5,50.4 Z" fill="#053a48" fill-opacity="0.33"/>
<path d="M14.1,46.6 A48.7,48.7 0 0 1 3.3,48.6 L3.2,46 A46.1,46.1 0 0 0 13.3,44.1 Z" fill="#ffb08a"/>
<path d="M13.2,45.9 A47.8,47.8 0 0 1 4,47.6 L3.9,46.8 A47,47 0 0 0 13,45.2 Z" fill="#a04020" fill-opacity=".3"/>
<path d="M12.9,42.3 A44.2,44.2 0 0 1 2.3,44.1 L2.1,40.5 A40.6,40.6 0 0 0 11.9,38.8 Z" fill="#c0159b"/>
<path d="M2.3,44.1 A44.2,44.2 0 0 1 .8,44.2 L.7,40.6 A40.6,40.6 0 0 0 2.1,40.5 Z" fill="#7275c4"/>
<path d="M0,39.4 A39.4,39.4 0 0 1 -12.2,37.5 L-4.7,14.5 A15.2,15.2 0 0 0 0,15.2 Z" fill="#17b4a9"/>
<path d="M0,55 A55,55 0 0 1 -17,52.3 L-15.6,48 A50.5,50.5 0 0 0 0,50.5 Z" fill="#17b4a9"/>
<path d="M-2.8,53.3 A53.4,53.4 0 0 1 -13.8,51.6 L-13.5,50.4 A52.2,52.2 0 0 0 -2.7,52.1 Z" fill="#053a48" fill-opacity="0.33"/>
<path d="M-1,48.7 A48.7,48.7 0 0 1 -10.2,47.6 L-9.7,45.1 A46.1,46.1 0 0 0 -1,46.1 Z" fill="#ff9a6e"/>
<path d="M-1.7,47.8 A47.8,47.8 0 0 1 -9.4,46.9 L-9.2,46.1 A47,47 0 0 0 -1.6,47 Z" fill="#a04020" fill-opacity=".3"/>
<path d="M-.8,44.2 A44.2,44.2 0 0 1 -10.1,43 L-9.3,39.5 A40.6,40.6 0 0 0 -.7,40.6 Z" fill="#c0159b"/>
<path d="M-10.1,43 A44.2,44.2 0 0 1 -12.9,42.3 L-11.9,38.8 A40.6,40.6 0 0 0 -9.3,39.5 Z" fill="#7275c4"/>
<path d="M-12.2,37.5 A39.4,39.4 0 0 1 -23.2,31.9 L-8.9,12.3 A15.2,15.2 0 0 0 -4.7,14.5 Z" fill="#17b4a9"/>
<path d="M-17,52.3 A55,55 0 0 1 -32.3,44.5 L-29.7,40.9 A50.5,50.5 0 0 0 -15.6,48 Z" fill="#17b4a9"/>
<path d="M-19.1,49.9 A53.4,53.4 0 0 1 -29.1,44.8 L-28.4,43.8 A52.2,52.2 0 0 0 -18.7,48.7 Z" fill="#053a48" fill-opacity="0.33"/>
<path d="M-16,46 A48.7,48.7 0 0 1 -25.9,41.2 L-24.5,39 A46.1,46.1 0 0 0 -15.2,43.5 Z" fill="#ffb08a"/>
<path d="M-16.3,44.9 A47.8,47.8 0 0 1 -24.9,40.8 L-24.5,40.1 A47,47 0 0 0 -16.1,44.2 Z" fill="#a04020" fill-opacity=".3"/>
<path d="M-14.4,41.8 A44.2,44.2 0 0 1 -23.5,37.4 L-21.6,34.4 A40.6,40.6 0 0 0 -13.2,38.4 Z" fill="#c0159b"/>
<path d="M-23.5,37.4 A44.2,44.2 0 0 1 -25.4,36.2 L-23.3,33.3 A40.6,40.6 0 0 0 -21.6,34.4 Z" fill="#7275c4"/>
<path d="M-23.2,31.9 A39.4,39.4 0 0 1 -31.9,23.2 L-12.3,8.9 A15.2,15.2 0 0 0 -8.9,12.3 Z" fill="#17b4a9"/>
<path d="M-32.3,44.5 A55,55 0 0 1 -44.5,32.3 L-40.9,29.7 A50.5,50.5 0 0 0 -29.7,40.9 Z" fill="#17b4a9"/>
<path d="M-33.6,41.5 A53.4,53.4 0 0 1 -41.5,33.6 L-40.6,32.9 A52.2,52.2 0 0 0 -32.9,40.6 Z" fill="#053a48" fill-opacity="0.33"/>
<path d="M-29.4,38.8 A48.7,48.7 0 0 1 -37.1,31.6 L-35.1,29.9 A46.1,46.1 0 0 0 -27.9,36.7 Z" fill="#ff9a6e"/>
<path d="M-29.4,37.7 A47.8,47.8 0 0 1 -36,31.5 L-35.4,30.9 A47,47 0 0 0 -28.9,37 Z" fill="#a04020" fill-opacity=".3"/>
<path d="M-26.6,35.3 A44.2,44.2 0 0 1 -33.4,28.9 L-30.7,26.6 A40.6,40.6 0 0 0 -24.4,32.4 Z" fill="#c0159b"/>
<path d="M-33.4,28.9 A44.2,44.2 0 0 1 -35.3,26.6 L-32.4,24.4 A40.6,40.6 0 0 0 -30.7,26.6 Z" fill="#7275c4"/>
<path d="M-31.9,23.2 A39.4,39.4 0 0 1 -37.5,12.2 L-14.5,4.7 A15.2,15.2 0 0 0 -12.3,8.9 Z" fill="#17b4a9"/>
<path d="M-44.5,32.3 A55,55 0 0 1 -52.3,17 L-48,15.6 A50.5,50.5 0 0 0 -40.9,29.7 Z" fill="#17b4a9"/>
<path d="M-44.8,29.1 A53.4,53.4 0 0 1 -49.9,19.1 L-48.7,18.7 A52.2,52.2 0 0 0 -43.8,28.4 Z" fill="#053a48" fill-opacity="0.33"/>
<path d="M-40,27.8 A48.7,48.7 0 0 1 -43.9,21.2 L-41.5,20 A46.1,46.1 0 0 0 -37.9,26.3 Z" fill="#ffb08a"/>
<path d="M-39.6,26.7 A47.8,47.8 0 0 1 -42.8,21.4 L-42,21 A47,47 0 0 0 -39,26.3 Z" fill="#a04020" fill-opacity=".3"/>
<path d="M-36.2,25.4 A44.2,44.2 0 0 1 -41,16.5 L-37.7,15.1 A40.6,40.6 0 0 0 -33.3,23.3 Z" fill="#c0159b"/>
<path d="M-41,16.5 A44.2,44.2 0 0 1 -41.8,14.4 L-38.4,13.2 A40.6,40.6 0 0 0 -37.7,15.1 Z" fill="#7275c4"/>
<path d="M-37.5,12.2 A39.4,39.4 0 0 1 -39.4,0 L-15.2,0 A15.2,15.2 0 0 0 -14.5,4.7 Z" fill="#17b4a9"/>
<path d="M-52.3,17 A55,55 0 0 1 -55,0 L-50.5,0 A50.5,50.5 0 0 0 -48,15.6 Z" fill="#17b4a9"/>
<path d="M-51.6,13.8 A53.4,53.4 0 0 1 -53.3,2.8 L-52.1,2.7 A52.2,52.2 0 0 0 -50.4,13.5 Z" fill="#053a48" fill-opacity="0.33"/>
<path d="M-46.6,14.1 A48.7,48.7 0 0 1 -48.3,6.6 L-45.7,6.2 A46.1,46.1 0 0 0 -44.1,13.3 Z" fill="#ffa882"/>
<path d="M-45.9,13.2 A47.8,47.8 0 0 1 -47.3,7.1 L-46.5,7 A47,47 0 0 0 -45.2,13 Z" fill="#a04020" fill-opacity=".3"/>
<path d="M-42.3,12.9 A44.2,44.2 0 0 1 -44,3.9 L-40.4,3.6 A40.6,40.6 0 0 0 -38.8,11.9 Z" fill="#c0159b"/>
<path d="M-44,3.9 A44.2,44.2 0 0 1 -44.2,.8 L-40.6,.7 A40.6,40.6 0 0 0 -40.4,3.6 Z" fill="#7275c4"/>
<path d="M-39.4,0 A39.4,39.4 0 0 1 -37.5,-12.2 L-14.5,-4.7 A15.2,15.2 0 0 0 -15.2,0 Z" fill="#17b4a9"/>
<path d="M-55,0 A55,55 0 0 1 -52.3,-17 L-48,-15.6 A50.5,50.5 0 0 0 -50.5,0 Z" fill="#17b4a9"/>
<path d="M-53.3,-2.8 A53.4,53.4 0 0 1 -51.6,-13.8 L-50.4,-13.5 A52.2,52.2 0 0 0 -52.1,-2.7 Z" fill="#053a48" fill-opacity="0.33"/>
<path d="M-48.7,-1 A48.7,48.7 0 0 1 -47.3,-11.5 L-44.8,-10.9 A46.1,46.1 0 0 0 -46.1,-1 Z" fill="#ffa882"/>
<path d="M-47.8,-1.7 A47.8,47.8 0 0 1 -46.6,-10.6 L-45.8,-10.5 A47,47 0 0 0 -47,-1.6 Z" fill="#a04020" fill-opacity=".3"/>
<path d="M-44.2,-.8 A44.2,44.2 0 0 1 -42.9,-10.7 L-39.4,-9.8 A40.6,40.6 0 0 0 -40.6,-.7 Z" fill="#c0159b"/>
<path d="M-42.9,-10.7 A44.2,44.2 0 0 1 -42.3,-12.9 L-38.8,-11.9 A40.6,40.6 0 0 0 -39.4,-9.8 Z" fill="#7275c4"/>
<path d="M-37.5,-12.2 A39.4,39.4 0 0 1 -31.9,-23.2 L-12.3,-8.9 A15.2,15.2 0 0 0 -14.5,-4.7 Z" fill="#17b4a9"/>
<path d="M-52.3,-17 A55,55 0 0 1 -44.5,-32.3 L-40.9,-29.7 A50.5,50.5 0 0 0 -48,-15.6 Z" fill="#17b4a9"/>
<path d="M-49.9,-19.1 A53.4,53.4 0 0 1 -44.8,-29.1 L-43.8,-28.4 A52.2,52.2 0 0 0 -48.7,-18.7 Z" fill="#053a48" fill-opacity="0.33"/>
<path d="M-46,-16 A48.7,48.7 0 0 1 -44.9,-18.9 L-42.5,-17.9 A46.1,46.1 0 0 0 -43.5,-15.2 Z" fill="#ff9a6e"/>
<path d="M-44.9,-16.3 A47.8,47.8 0 0 1 -44.3,-17.9 L-43.6,-17.6 A47,47 0 0 0 -44.2,-16.1 Z" fill="#a04020" fill-opacity=".3"/>
<path d="M-41.8,-14.4 A44.2,44.2 0 0 1 -38.1,-22.4 L-35,-20.5 A40.6,40.6 0 0 0 -38.4,-13.2 Z" fill="#c0159b"/>
<path d="M-38.1,-22.4 A44.2,44.2 0 0 1 -36.2,-25.4 L-33.3,-23.3 A40.6,40.6 0 0 0 -35,-20.5 Z" fill="#7275c4"/>
<path d="M-31.9,-23.2 A39.4,39.4 0 0 1 -23.2,-31.9 L-8.9,-12.3 A15.2,15.2 0 0 0 -12.3,-8.9 Z" fill="#17b4a9"/>
<path d="M-44.5,-32.3 A55,55 0 0 1 -32.3,-44.5 L-29.7,-40.9 A50.5,50.5 0 0 0 -40.9,-29.7 Z" fill="#17b4a9"/>
<path d="M-41.5,-33.6 A53.4,53.4 0 0 1 -33.6,-41.5 L-32.9,-40.6 A52.2,52.2 0 0 0 -40.6,-32.9 Z" fill="#053a48" fill-opacity="0.33"/>
<path d="M-38.8,-29.4 A48.7,48.7 0 0 1 -33.5,-35.4 L-31.7,-33.5 A46.1,46.1 0 0 0 -36.7,-27.9 Z" fill="#ff9a6e"/>
<path d="M-37.7,-29.4 A47.8,47.8 0 0 1 -33.3,-34.3 L-32.8,-33.7 A47,47 0 0 0 -37,-28.9 Z" fill="#a04020" fill-opacity=".3"/>
<path d="M-35.3,-26.6 A44.2,44.2 0 0 1 -28.5,-33.8 L-26.1,-31.1 A40.6,40.6 0 0 0 -32.4,-24.4 Z" fill="#c0159b"/>
<path d="M-28.5,-33.8 A44.2,44.2 0 0 1 -26.6,-35.3 L-24.4,-32.4 A40.6,40.6 0 0 0 -26.1,-31.1 Z" fill="#7275c4"/>
<path d="M-23.2,-31.9 A39.4,39.4 0 0 1 -12.2,-37.5 L-4.7,-14.5 A15.2,15.2 0 0 0 -8.9,-12.3 Z" fill="#17b4a9"/>
<path d="M-32.3,-44.5 A55,55 0 0 1 -17,-52.3 L-15.6,-48 A50.5,50.5 0 0 0 -29.7,-40.9 Z" fill="#17b4a9"/>
<path d="M-29.1,-44.8 A53.4,53.4 0 0 1 -19.1,-49.9 L-18.7,-48.7 A52.2,52.2 0 0 0 -28.4,-43.8 Z" fill="#053a48" fill-opacity="0.33"/>
<path d="M-27.8,-40 A48.7,48.7 0 0 1 -18.6,-45 L-17.6,-42.6 A46.1,46.1 0 0 0 -26.3,-37.9 Z" fill="#ff9a6e"/>
<path d="M-26.7,-39.6 A47.8,47.8 0 0 1 -18.9,-43.9 L-18.6,-43.2 A47,47 0 0 0 -26.3,-39 Z" fill="#a04020" fill-opacity=".3"/>
<path d="M-25.4,-36.2 A44.2,44.2 0 0 1 -16.5,-41 L-15.2,-37.7 A40.6,40.6 0 0 0 -23.3,-33.3 Z" fill="#c0159b"/>
<path d="M-16.5,-41 A44.2,44.2 0 0 1 -14.4,-41.8 L-13.2,-38.4 A40.6,40.6 0 0 0 -15.2,-37.7 Z" fill="#7275c4"/>
<path d="M-12.2,-37.5 A39.4,39.4 0 0 1 -0,-39.4 L-0,-15.2 A15.2,15.2 0 0 0 -4.7,-14.5 Z" fill="#17b4a9"/>
<path d="M-17,-52.3 A55,55 0 0 1 -0,-55 L-0,-50.5 A50.5,50.5 0 0 0 -15.6,-48 Z" fill="#17b4a9"/>
<path d="M-13.8,-51.6 A53.4,53.4 0 0 1 -2.8,-53.3 L-2.7,-52.1 A52.2,52.2 0 0 0 -13.5,-50.4 Z" fill="#053a48" fill-opacity="0.33"/>
<path d="M-14.1,-46.6 A48.7,48.7 0 0 1 -3.7,-48.6 L-3.5,-46 A46.1,46.1 0 0 0 -13.3,-44.1 Z" fill="#ffb08a"/>
<path d="M-13.2,-45.9 A47.8,47.8 0 0 1 -4.3,-47.6 L-4.3,-46.8 A47,47 0 0 0 -13,-45.2 Z" fill="#a04020" fill-opacity=".3"/>
<path d="M-12.9,-42.3 A44.2,44.2 0 0 1 -2.5,-44.1 L-2.3,-40.5 A40.6,40.6 0 0 0 -11.9,-38.8 Z" fill="#c0159b"/>
<path d="M-2.5,-44.1 A44.2,44.2 0 0 1 -.8,-44.2 L-.7,-40.6 A40.6,40.6 0 0 0 -2.3,-40.5 Z" fill="#7275c4"/>
<line x1="0" y1="-15" x2="0" y2="-39.7" stroke="#fff" stroke-width="0.9"/>
<line x1="0" y1="-50.2" x2="0" y2="-57.5" stroke="#fff" stroke-width="0.9"/>
<line x1="4.6" y1="-14.3" x2="12.3" y2="-37.8" stroke="#fff" stroke-width="0.9"/>
<line x1="15.5" y1="-47.7" x2="17.8" y2="-54.7" stroke="#fff" stroke-width="0.9"/>
<line x1="8.8" y1="-12.1" x2="23.3" y2="-32.1" stroke="#fff" stroke-width="0.9"/>
<line x1="29.5" y1="-40.6" x2="33.8" y2="-46.5" stroke="#fff" stroke-width="0.9"/>
<line x1="12.1" y1="-8.8" x2="32.1" y2="-23.3" stroke="#fff" stroke-width="0.9"/>
<line x1="40.6" y1="-29.5" x2="46.5" y2="-33.8" stroke="#fff" stroke-width="0.9"/>
<line x1="14.3" y1="-4.6" x2="37.8" y2="-12.3" stroke="#fff" stroke-width="0.9"/>
<line x1="47.7" y1="-15.5" x2="54.7" y2="-17.8" stroke="#fff" stroke-width="0.9"/>
<line x1="15" y1="-0" x2="39.7" y2="-0" stroke="#fff" stroke-width="0.9"/>
<line x1="50.2" y1="-0" x2="57.5" y2="-0" stroke="#fff" stroke-width="0.9"/>
<line x1="14.3" y1="4.6" x2="37.8" y2="12.3" stroke="#fff" stroke-width="0.9"/>
<line x1="47.7" y1="15.5" x2="54.7" y2="17.8" stroke="#fff" stroke-width="0.9"/>
<line x1="12.1" y1="8.8" x2="32.1" y2="23.3" stroke="#fff" stroke-width="0.9"/>
<line x1="40.6" y1="29.5" x2="46.5" y2="33.8" stroke="#fff" stroke-width="0.9"/>
<line x1="8.8" y1="12.1" x2="23.3" y2="32.1" stroke="#fff" stroke-width="0.9"/>
<line x1="29.5" y1="40.6" x2="33.8" y2="46.5" stroke="#fff" stroke-width="0.9"/>
<line x1="4.6" y1="14.3" x2="12.3" y2="37.8" stroke="#fff" stroke-width="0.9"/>
<line x1="15.5" y1="47.7" x2="17.8" y2="54.7" stroke="#fff" stroke-width="0.9"/>
<line x1="0" y1="15" x2="0" y2="39.7" stroke="#fff" stroke-width="0.9"/>
<line x1="0" y1="50.2" x2="0" y2="57.5" stroke="#fff" stroke-width="0.9"/>
<line x1="-4.6" y1="14.3" x2="-12.3" y2="37.8" stroke="#fff" stroke-width="0.9"/>
<line x1="-15.5" y1="47.7" x2="-17.8" y2="54.7" stroke="#fff" stroke-width="0.9"/>
<line x1="-8.8" y1="12.1" x2="-23.3" y2="32.1" stroke="#fff" stroke-width="0.9"/>
<line x1="-29.5" y1="40.6" x2="-33.8" y2="46.5" stroke="#fff" stroke-width="0.9"/>
<line x1="-12.1" y1="8.8" x2="-32.1" y2="23.3" stroke="#fff" stroke-width="0.9"/>
<line x1="-40.6" y1="29.5" x2="-46.5" y2="33.8" stroke="#fff" stroke-width="0.9"/>
<line x1="-14.3" y1="4.6" x2="-37.8" y2="12.3" stroke="#fff" stroke-width="0.9"/>
<line x1="-47.7" y1="15.5" x2="-54.7" y2="17.8" stroke="#fff" stroke-width="0.9"/>
<line x1="-15" y1="0" x2="-39.7" y2="0" stroke="#fff" stroke-width="0.9"/>
<line x1="-50.2" y1="0" x2="-57.5" y2="0" stroke="#fff" stroke-width="0.9"/>
<line x1="-14.3" y1="-4.6" x2="-37.8" y2="-12.3" stroke="#fff" stroke-width="0.9"/>
<line x1="-47.7" y1="-15.5" x2="-54.7" y2="-17.8" stroke="#fff" stroke-width="0.9"/>
<line x1="-12.1" y1="-8.8" x2="-32.1" y2="-23.3" stroke="#fff" stroke-width="0.9"/>
<line x1="-40.6" y1="-29.5" x2="-46.5" y2="-33.8" stroke="#fff" stroke-width="0.9"/>
<line x1="-8.8" y1="-12.1" x2="-23.3" y2="-32.1" stroke="#fff" stroke-width="0.9"/>
<line x1="-29.5" y1="-40.6" x2="-33.8" y2="-46.5" stroke="#fff" stroke-width="0.9"/>
<line x1="-4.6" y1="-14.3" x2="-12.3" y2="-37.8" stroke="#fff" stroke-width="0.9"/>
<line x1="-15.5" y1="-47.7" x2="-17.8" y2="-54.7" stroke="#fff" stroke-width="0.9"/>
<text x="0" y="-58.1" style="font-family:'Liberation Sans',sans-serif;font-size:2.1px" fill="#555" text-anchor="middle">0</text>
<text x="6.1" y="-57.8" style="font-family:'Liberation Sans',sans-serif;font-size:2.1px" fill="#555" text-anchor="middle">100</text>
<text x="12.2" y="-56.8" style="font-family:'Liberation Sans',sans-serif;font-size:2.1px" fill="#555" text-anchor="middle">200</text>
<text x="18.2" y="-55.2" style="font-family:'Liberation Sans',sans-serif;font-size:2.1px" fill="#555" text-anchor="middle">0</text>
<text x="23.9" y="-53" style="font-family:'Liberation Sans',sans-serif;font-size:2.1px" fill="#555" text-anchor="middle">100</text>
<text x="29.4" y="-50.2" style="font-family:'Liberation Sans',sans-serif;font-size:2.1px" fill="#555" text-anchor="middle">200</text>
<text x="34.6" y="-46.9" style="font-family:'Liberation Sans',sans-serif;font-size:2.1px" fill="#555" text-anchor="middle">0</text>
<text x="39.3" y="-43" style="font-family:'Liberation Sans',sans-serif;font-size:2.1px" fill="#555" text-anchor="middle">100</text>
<text x="43.7" y="-38.6" style="font-family:'Liberation Sans',sans-serif;font-size:2.1px" fill="#555" text-anchor="middle">200</text>
<text x="47.6" y="-33.9" style="font-family:'Liberation Sans',sans-serif;font-size:2.1px" fill="#555" text-anchor="middle">0</text>
<text x="50.9" y="-28.7" style="font-family:'Liberation Sans',sans-serif;font-size:2.1px" fill="#555" text-anchor="middle">100</text>
<text x="53.7" y="-23.2" style="font-family:'Liberation Sans',sans-serif;font-size:2.1px" fill="#555" text-anchor="middle">200</text>
<text x="55.9" y="-17.5" style="font-family:'Liberation Sans',sans-serif;font-size:2.1px" fill="#555" text-anchor="middle">0</text>
<text x="57.5" y="-11.5" style="font-family:'Liberation Sans',sans-serif;font-size:2.1px" fill="#555" text-anchor="middle">100</text>
<text x="58.5" y="-5.4" style="font-family:'Liberation Sans',sans-serif;font-size:2.1px" fill="#555" text-anchor="middle">200</text>
<text x="58.8" y=".7" style="font-family:'Liberation Sans',sans-serif;font-size:2.1px" fill="#555" text-anchor="middle">0</text>
<text x="58.5" y="6.8" style="font-family:'Liberation Sans',sans-serif;font-size:2.1px" fill="#555" text-anchor="middle">100</text>
<text x="57.5" y="12.9" style="font-family:'Liberation Sans',sans-serif;font-size:2.1px" fill="#555" text-anchor="middle">200</text>
<text x="55.9" y="18.9" style="font-family:'Liberation Sans',sans-serif;font-size:2.1px" fill="#555" text-anchor="middle">0</text>
<text x="53.7" y="24.6" style="font-family:'Liberation Sans',sans-serif;font-size:2.1px" fill="#555" text-anchor="middle">100</text>
<text x="50.9" y="30.1" style="font-family:'Liberation Sans',sans-serif;font-size:2.1px" fill="#555" text-anchor="middle">200</text>
<text x="47.6" y="35.3" style="font-family:'Liberation Sans',sans-serif;font-size:2.1px" fill="#555" text-anchor="middle">0</text>
<text x="43.7" y="40" style="font-family:'Liberation Sans',sans-serif;font-size:2.1px" fill="#555" text-anchor="middle">100</text>
<text x="39.3" y="44.4" style="font-family:'Liberation Sans',sans-serif;font-size:2.1px" fill="#555" text-anchor="middle">200</text>
<text x="34.6" y="48.3" style="font-family:'Liberation Sans',sans-serif;font-size:2.1px" fill="#555" text-anchor="middle">0</text>
<text x="29.4" y="51.6" style="font-family:'Liberation Sans',sans-serif;font-size:2.1px" fill="#555" text-anchor="middle">100</text>
<text x="23.9" y="54.4" style="font-family:'Liberation Sans',sans-serif;font-size:2.1px" fill="#555" text-anchor="middle">200</text>
<text x="18.2" y="56.6" style="font-family:'Liberation Sans',sans-serif;font-size:2.1px" fill="#555" text-anchor="middle">0</text>
<text x="12.2" y="58.2" style="font-family:'Liberation Sans',sans-serif;font-size:2.1px" fill="#555" text-anchor="middle">100</text>
<text x="6.1" y="59.2" style="font-family:'Liberation Sans',sans-serif;font-size:2.1px" fill="#555" text-anchor="middle">200</text>
<text x="0" y="59.5" style="font-family:'Liberation Sans',sans-serif;font-size:2.1px" fill="#555" text-anchor="middle">0</text>
<text x="-6.1" y="59.2" style="font-family:'Liberation Sans',sans-serif;font-size:2.1px" fill="#555" text-anchor="middle">100</text>
<text x="-12.2" y="58.2" style="font-family:'Liberation Sans',sans-serif;font-size:2.1px" fill="#555" text-anchor="middle">200</text>
<text x="-18.2" y="56.6" style="font-family:'Liberation Sans',sans-serif;font-size:2.1px" fill="#555" text-anchor="middle">0</text>
<text x="-23.9" y="54.4" style="font-family:'Liberation Sans',sans-serif;font-size:2.1px" fill="#555" text-anchor="middle">100</text>
<text x="-29.4" y="51.6" style="font-family:'Liberation Sans',sans-serif;font-size:2.1px" fill="#555" text-anchor="middle">200</text>
<text x="-34.6" y="48.3" style="font-family:'Liberation Sans',sans-serif;font-size:2.1px" fill="#555" text-anchor="middle">0</text>
<text x="-39.3" y="44.4" style="font-family:'Liberation Sans',sans-serif;font-size:2.1px" fill="#555" text-anchor="middle">100</text>
<text x="-43.7" y="40" style="font-family:'Liberation Sans',sans-serif;font-size:2.1px" fill="#555" text-anchor="middle">200</text>
<text x="-47.6" y="35.3" style="font-family:'Liberation Sans',sans-serif;font-size:2.1px" fill="#555" text-anchor="middle">0</text>
<text x="-50.9" y="30.1" style="font-family:'Liberation Sans',sans-serif;font-size:2.1px" fill="#555" text-anchor="middle">100</text>
<text x="-53.7" y="24.6" style="font-family:'Liberation Sans',sans-serif;font-size:2.1px" fill="#555" text-anchor="middle">200</text>
<text x="-55.9" y="18.9" style="font-family:'Liberation Sans',sans-serif;font-size:2.1px" fill="#555" text-anchor="middle">0</text>
<text x="-57.5" y="12.9" style="font-family:'Liberation Sans',sans-serif;font-size:2.1px" fill="#555" text-anchor="middle">100</text>
<text x="-58.5" y="6.8" style="font-family:'Liberation Sans',sans-serif;font-size:2.1px" fill="#555" text-anchor="middle">200</text>
<text x="-58.8" y=".7" style="font-family:'Liberation Sans',sans-serif;font-size:2.1px" fill="#555" text-anchor="middle">0</text>
<text x="-58.5" y="-5.4" style="font-family:'Liberation Sans',sans-serif;font-size:2.1px" fill="#555" text-anchor="middle">100</text>
<text x="-57.5" y="-11.5" style="font-family:'Liberation Sans',sans-serif;font-size:2.1px" fill="#555" text-anchor="middle">200</text>
<text x="-55.9" y="-17.5" style="font-family:'Liberation Sans',sans-serif;font-size:2.1px" fill="#555" text-anchor="middle">0</text>
<text x="-53.7" y="-23.2" style="font-family:'Liberation Sans',sans-serif;font-size:2.1px" fill="#555" text-anchor="middle">100</text>
<text x="-50.9" y="-28.7" style="font-family:'Liberation Sans',sans-serif;font-size:2.1px" fill="#555" text-anchor="middle">200</text>
<text x="-47.6" y="-33.9" style="font-family:'Liberation Sans',sans-serif;font-size:2.1px" fill="#555" text-anchor="middle">0</text>
<text x="-43.7" y="-38.6" style="font-family:'Liberation Sans',sans-serif;font-size:2.1px" fill="#555" text-anchor="middle">100</text>
<text x="-39.3" y="-43" style="font-family:'Liberation Sans',sans-serif;font-size:2.1px" fill="#555" text-anchor="middle">200</text>
<text x="-34.6" y="-46.9" style="font-family:'Liberation Sans',sans-serif;font-size:2.1px" fill="#555" text-anchor="middle">0</text>
<text x="-29.4" y="-50.2" style="font-family:'Liberation Sans',sans-serif;font-size:2.1px" fill="#555" text-anchor="middle">100</text>
<text x="-23.9" y="-53" style="font-family:'Liberation Sans',sans-serif;font-size:2.1px" fill="#555" text-anchor="middle">200</text>
<text x="-18.2" y="-55.2" style="font-family:'Liberation Sans',sans-serif;font-size:2.1px" fill="#555" text-anchor="middle">0</text>
<text x="-12.2" y="-56.8" style="font-family:'Liberation Sans',sans-serif;font-size:2.1px" fill="#555" text-anchor="middle">100</text>
<text x="-6.1" y="-57.8" style="font-family:'Liberation Sans',sans-serif;font-size:2.1px" fill="#555" text-anchor="middle">200</text>
<g stroke="#666" stroke-width=".25"><path d="M0 -55.1L0 -56.6"/><path d="M5.8 -54.8L5.9 -56.3"/><path d="M11.5 -53.9L11.8 -55.4"/><path d="M17 -52.4L17.5 -53.8"/><path d="M22.4 -50.3L23 -51.7"/><path d="M27.5 -47.7L28.3 -49"/><path d="M32.4 -44.6L33.3 -45.8"/><path d="M36.9 -40.9L37.9 -42.1"/><path d="M40.9 -36.9L42.1 -37.9"/><path d="M44.6 -32.4L45.8 -33.3"/><path d="M47.7 -27.6L49 -28.3"/><path d="M50.3 -22.4L51.7 -23"/><path d="M52.4 -17L53.8 -17.5"/><path d="M53.9 -11.5L55.4 -11.8"/><path d="M54.8 -5.8L56.3 -5.9"/><path d="M55.1 -0L56.6 -0"/><path d="M54.8 5.8L56.3 5.9"/><path d="M53.9 11.5L55.4 11.8"/><path d="M52.4 17L53.8 17.5"/><path d="M50.3 22.4L51.7 23"/><path d="M47.7 27.5L49 28.3"/><path d="M44.6 32.4L45.8 33.3"/><path d="M40.9 36.9L42.1 37.9"/><path d="M36.9 40.9L37.9 42.1"/><path d="M32.4 44.6L33.3 45.8"/><path d="M27.5 47.7L28.3 49"/><path d="M22.4 50.3L23 51.7"/><path d="M17 52.4L17.5 53.8"/><path d="M11.5 53.9L11.8 55.4"/><path d="M5.8 54.8L5.9 56.3"/><path d="M0 55.1L0 56.6"/><path d="M-5.8 54.8L-5.9 56.3"/><path d="M-11.5 53.9L-11.8 55.4"/><path d="M-17 52.4L-17.5 53.8"/><path d="M-22.4 50.3L-23 51.7"/><path d="M-27.6 47.7L-28.3 49"/><path d="M-32.4 44.6L-33.3 45.8"/><path d="M-36.9 40.9L-37.9 42.1"/><path d="M-40.9 36.9L-42.1 37.9"/><path d="M-44.6 32.4L-45.8 33.3"/><path d="M-47.7 27.6L-49 28.3"/><path d="M-50.3 22.4L-51.7 23"/><path d="M-52.4 17L-53.8 17.5"/><path d="M-53.9 11.5L-55.4 11.8"/><path d="M-54.8 5.8L-56.3 5.9"/><path d="M-55.1 0L-56.6 0"/><path d="M-54.8 -5.8L-56.3 -5.9"/><path d="M-53.9 -11.5L-55.4 -11.8"/><path d="M-52.4 -17L-53.8 -17.5"/><path d="M-50.3 -22.4L-51.7 -23"/><path d="M-47.7 -27.6L-49 -28.3"/><path d="M-44.6 -32.4L-45.8 -33.3"/><path d="M-40.9 -36.9L-42.1 -37.9"/><path d="M-36.9 -40.9L-37.9 -42.1"/><path d="M-32.4 -44.6L-33.3 -45.8"/><path d="M-27.6 -47.7L-28.3 -49"/><path d="M-22.4 -50.3L-23 -51.7"/><path d="M-17 -52.4L-17.5 -53.8"/><path d="M-11.5 -53.9L-11.8 -55.4"/><path d="M-5.8 -54.8L-5.9 -56.3"/></g>
<circle cx="0" cy="0" r="15.3" fill="#fff"/>
</g>
<rect x="62.2" y="209.8" width="6.7" height="2" fill="#555"/>
<text x="71.1" y="211.7" style="font-family:'Liberation Sans',sans-serif;font-size:2.45px" fill="#666">Number of Genes</text>
<rect x="62.2" y="214" width="6.7" height="2" fill="#c0159b"/>
<text x="71.1" y="215.8" style="font-family:'Liberation Sans',sans-serif;font-size:2.45px" fill="#666">Up-regulated</text>
<rect x="62.2" y="218.1" width="6.7" height="2" fill="#7275c4"/>
<text x="71.1" y="219.9" style="font-family:'Liberation Sans',sans-serif;font-size:2.45px" fill="#666">Down-regulated</text>
<rect x="62.2" y="221.9" width="6.7" height="2" fill="#666"/>
<text x="71.1" y="223.8" style="font-family:'Liberation Sans',sans-serif;font-size:2.45px" fill="#666">Rich Factor(0-1)</text>
<circle cx="130.7" cy="176.2" r="1.25" fill="#4f8fd9"/>
<text x="133.1" y="177.4" style="font-family:'Liberation Serif',serif;font-size:3.63px" fill="#111" stroke="#111" stroke-width=".03">Biological process with lipid</text>
<circle cx="130.7" cy="180.8" r="1.25" fill="#17b4a9"/>
<text x="133.1" y="182" style="font-family:'Liberation Serif',serif;font-size:3.63px" fill="#111" stroke="#111" stroke-width=".03">Biological process without lipid</text>
<text x="143.2" y="190.6" style="font-family:'Liberation Serif',serif;font-size:3.4px" fill="#222">-log10(Qvalue)</text>
<circle cx="142.3" cy="194" r="0.9" fill="#fee5d9"/>
<text x="145.2" y="194.8" style="font-family:'Liberation Sans',sans-serif;font-size:2.4px" fill="#555">(0.1,1]</text>
<circle cx="142.3" cy="198" r="0.9" fill="#fcbba1"/>
<text x="145.2" y="198.8" style="font-family:'Liberation Sans',sans-serif;font-size:2.4px" fill="#555">(1,2]</text>
<circle cx="142.3" cy="201.9" r="0.9" fill="#fc9272"/>
<text x="145.2" y="202.7" style="font-family:'Liberation Sans',sans-serif;font-size:2.4px" fill="#555">(2,5]</text>
<circle cx="142.3" cy="205.9" r="0.9" fill="#fb6a4a"/>
<text x="145.2" y="206.7" style="font-family:'Liberation Sans',sans-serif;font-size:2.4px" fill="#555">(5,10]</text>
<circle cx="142.3" cy="209.9" r="0.9" fill="#f23030"/>
<text x="145.2" y="210.7" style="font-family:'Liberation Sans',sans-serif;font-size:2.4px" fill="#555">(10,15]</text>
<circle cx="142.3" cy="213.8" r="0.9" fill="#e01818"/>
<text x="145.2" y="214.7" style="font-family:'Liberation Sans',sans-serif;font-size:2.4px" fill="#555">(15,20]</text>
<circle cx="142.3" cy="217.8" r="0.9" fill="#a00f15"/>
<text x="145.2" y="218.6" style="font-family:'Liberation Sans',sans-serif;font-size:2.4px" fill="#555">>20</text>
<g transform="translate(258.5,211) scale(1.03,1)">
<path d="M0,-40.8 A40.8,40.8 0 0 1 12.6,-38.8 L5.3,-16.2 A17,17 0 0 0 0,-17 Z" fill="#efefef"/>
<path d="M0,-30.4 A30.4,30.4 0 0 1 9.4,-28.9 L5.3,-16.2 A17,17 0 0 0 0,-17 Z" fill="#f6c400"/>
<path d="M0,-57.6 A57.6,57.6 0 0 1 17.8,-54.8 L16.6,-51 A53.6,53.6 0 0 0 0,-53.6 Z" fill="#f6c400"/>
<path d="M2.5,-56.1 A56.2,56.2 0 0 1 15,-54.2 L14.7,-53 A55,55 0 0 0 2.4,-54.9 Z" fill="#000" fill-opacity="0.33"/>
<path d="M1.3,-51.4 A51.4,51.4 0 0 1 9.9,-50.4 L9.3,-47.4 A48.3,48.3 0 0 0 1.3,-48.3 Z" fill="#ff9a6e"/>
<path d="M2.2,-50.3 A50.3,50.3 0 0 1 8.9,-49.5 L8.7,-48.6 A49.4,49.4 0 0 0 2.2,-49.4 Z" fill="#803010" fill-opacity=".3"/>
<path d="M1.2,-47.3 A47.3,47.3 0 0 1 5.2,-47 L5,-44.3 A44.6,44.6 0 0 0 1.2,-44.6 Z" fill="#6e1263"/>
<path d="M12.6,-38.8 A40.8,40.8 0 0 1 24,-33 L10,-13.8 A17,17 0 0 0 5.3,-16.2 Z" fill="#efefef"/>
<path d="M8.9,-27.4 A28.8,28.8 0 0 1 16.9,-23.3 L10,-13.8 A17,17 0 0 0 5.3,-16.2 Z" fill="#a0397a"/>
<path d="M17.8,-54.8 A57.6,57.6 0 0 1 33.9,-46.6 L31.5,-43.4 A53.6,53.6 0 0 0 16.6,-51 Z" fill="#a0397a"/>
<path d="M19.7,-52.6 A56.2,56.2 0 0 1 31,-46.9 L30.4,-45.9 A55,55 0 0 0 19.3,-51.5 Z" fill="#000" fill-opacity="0.33"/>
<path d="M17.2,-48.5 A51.4,51.4 0 0 1 24.3,-45.3 L22.8,-42.6 A48.3,48.3 0 0 0 16.1,-45.5 Z" fill="#ff8a5c"/>
<path d="M17.6,-47.1 A50.3,50.3 0 0 1 23,-44.7 L22.6,-43.9 A49.4,49.4 0 0 0 17.3,-46.3 Z" fill="#803010" fill-opacity=".3"/>
<path d="M15.8,-44.6 A47.3,47.3 0 0 1 19.9,-42.9 L18.8,-40.4 A44.6,44.6 0 0 0 14.9,-42 Z" fill="#6e1263"/>
<path d="M24,-33 A40.8,40.8 0 0 1 33,-24 L13.8,-10 A17,17 0 0 0 10,-13.8 Z" fill="#efefef"/>
<path d="M15,-20.6 A25.5,25.5 0 0 1 20.6,-15 L13.8,-10 A17,17 0 0 0 10,-13.8 Z" fill="#a0397a"/>
<path d="M33.9,-46.6 A57.6,57.6 0 0 1 46.6,-33.9 L43.4,-31.5 A53.6,53.6 0 0 0 31.5,-43.4 Z" fill="#a0397a"/>
<path d="M35,-44 A56.2,56.2 0 0 1 44,-35 L43,-34.2 A55,55 0 0 0 34.2,-43 Z" fill="#000" fill-opacity="0.33"/>
<path d="M31.3,-40.8 A51.4,51.4 0 0 1 39,-33.5 L36.7,-31.4 A48.3,48.3 0 0 0 29.4,-38.3 Z" fill="#ffa882"/>
<path d="M31.3,-39.4 A50.3,50.3 0 0 1 37.6,-33.4 L36.9,-32.8 A49.4,49.4 0 0 0 30.8,-38.7 Z" fill="#803010" fill-opacity=".3"/>
<path d="M28.8,-37.5 A47.3,47.3 0 0 1 32.1,-34.7 L30.3,-32.8 A44.6,44.6 0 0 0 27.2,-35.4 Z" fill="#6e1263"/>
<path d="M33,-24 A40.8,40.8 0 0 1 38.8,-12.6 L16.2,-5.3 A17,17 0 0 0 13.8,-10 Z" fill="#efefef"/>
<path d="M19.9,-14.5 A24.6,24.6 0 0 1 23.4,-7.6 L16.2,-5.3 A17,17 0 0 0 13.8,-10 Z" fill="#a0397a"/>
<path d="M46.6,-33.9 A57.6,57.6 0 0 1 54.8,-17.8 L51,-16.6 A53.6,53.6 0 0 0 43.4,-31.5 Z" fill="#a0397a"/>
<path d="M46.9,-31 A56.2,56.2 0 0 1 52.6,-19.7 L51.5,-19.3 A55,55 0 0 0 45.9,-30.4 Z" fill="#000" fill-opacity="0.33"/>
<path d="M42.4,-29.1 A51.4,51.4 0 0 1 47.3,-20 L44.5,-18.8 A48.3,48.3 0 0 0 39.8,-27.4 Z" fill="#ff8a5c"/>
<path d="M41.9,-27.8 A50.3,50.3 0 0 1 46,-20.4 L45.2,-20 A49.4,49.4 0 0 0 41.2,-27.3 Z" fill="#803010" fill-opacity=".3"/>
<path d="M39,-26.8 A47.3,47.3 0 0 1 41.4,-22.9 L39,-21.6 A44.6,44.6 0 0 0 36.8,-25.3 Z" fill="#6e1263"/>
<path d="M38.8,-12.6 A40.8,40.8 0 0 1 40.8,-0 L17,-0 A17,17 0 0 0 16.2,-5.3 Z" fill="#efefef"/>
<path d="M24.3,-7.9 A25.6,25.6 0 0 1 25.6,-0 L17,-0 A17,17 0 0 0 16.2,-5.3 Z" fill="#8f4ae6"/>
<path d="M54.8,-17.8 A57.6,57.6 0 0 1 57.6,-0 L53.6,-0 A53.6,53.6 0 0 0 51,-16.6 Z" fill="#8f4ae6"/>
<path d="M54.2,-15 A56.2,56.2 0 0 1 56.1,-2.5 L54.9,-2.4 A55,55 0 0 0 53,-14.7 Z" fill="#000" fill-opacity="0.33"/>
<path d="M49.3,-14.6 A51.4,51.4 0 0 1 51.1,-5.1 L48.1,-4.8 A48.3,48.3 0 0 0 46.3,-13.7 Z" fill="#ff9a6e"/>
<path d="M48.5,-13.4 A50.3,50.3 0 0 1 50,-5.9 L49.1,-5.8 A49.4,49.4 0 0 0 47.6,-13.2 Z" fill="#803010" fill-opacity=".3"/>
<path d="M45.4,-13.4 A47.3,47.3 0 0 1 46.4,-9 L43.8,-8.5 A44.6,44.6 0 0 0 42.8,-12.7 Z" fill="#6e1263"/>
<path d="M40.8,-0 A40.8,40.8 0 0 1 38.8,12.6 L16.2,5.3 A17,17 0 0 0 17,-0 Z" fill="#efefef"/>
<path d="M35,-0 A35,35 0 0 1 33.3,10.8 L16.2,5.3 A17,17 0 0 0 17,-0 Z" fill="#1a8fe3"/>
<path d="M57.6,-0 A57.6,57.6 0 0 1 54.8,17.8 L51,16.6 A53.6,53.6 0 0 0 53.6,-0 Z" fill="#1a8fe3"/>
<path d="M56.1,2.5 A56.2,56.2 0 0 1 54.2,15 L53,14.7 A55,55 0 0 0 54.9,2.4 Z" fill="#000" fill-opacity="0.33"/>
<path d="M51.4,1.3 A51.4,51.4 0 0 1 50,11.7 L47,11 A48.3,48.3 0 0 0 48.3,1.3 Z" fill="#ff7a4a"/>
<path d="M50.3,2.2 A50.3,50.3 0 0 1 49.2,10.6 L48.3,10.4 A49.4,49.4 0 0 0 49.4,2.2 Z" fill="#803010" fill-opacity=".3"/>
<path d="M47.3,1.2 A47.3,47.3 0 0 1 46.9,6.1 L44.2,5.7 A44.6,44.6 0 0 0 44.6,1.2 Z" fill="#6e1263"/>
<path d="M38.8,12.6 A40.8,40.8 0 0 1 33,24 L13.8,10 A17,17 0 0 0 16.2,5.3 Z" fill="#efefef"/>
<path d="M30,9.7 A31.5,31.5 0 0 1 25.5,18.5 L13.8,10 A17,17 0 0 0 16.2,5.3 Z" fill="#1a8fe3"/>
<path d="M54.8,17.8 A57.6,57.6 0 0 1 46.6,33.9 L43.4,31.5 A53.6,53.6 0 0 0 51,16.6 Z" fill="#1a8fe3"/>
<path d="M52.6,19.7 A56.2,56.2 0 0 1 46.9,31 L45.9,30.4 A55,55 0 0 0 51.5,19.3 Z" fill="#000" fill-opacity="0.33"/>
<path d="M48.5,17.2 A51.4,51.4 0 0 1 44.4,25.9 L41.7,24.4 A48.3,48.3 0 0 0 45.5,16.1 Z" fill="#ffa882"/>
<path d="M47.1,17.6 A50.3,50.3 0 0 1 43.9,24.6 L43.1,24.2 A49.4,49.4 0 0 0 46.3,17.3 Z" fill="#803010" fill-opacity=".3"/>
<path d="M44.6,15.8 A47.3,47.3 0 0 1 43.1,19.5 L40.6,18.4 A44.6,44.6 0 0 0 42,14.9 Z" fill="#6e1263"/>
<path d="M33,24 A40.8,40.8 0 0 1 24,33 L10,13.8 A17,17 0 0 0 13.8,10 Z" fill="#efefef"/>
<path d="M23.3,16.9 A28.8,28.8 0 0 1 16.9,23.3 L10,13.8 A17,17 0 0 0 13.8,10 Z" fill="#1a8fe3"/>
<path d="M46.6,33.9 A57.6,57.6 0 0 1 33.9,46.6 L31.5,43.4 A53.6,53.6 0 0 0 43.4,31.5 Z" fill="#1a8fe3"/>
<path d="M44,35 A56.2,56.2 0 0 1 35,44 L34.2,43 A55,55 0 0 0 43,34.2 Z" fill="#000" fill-opacity="0.33"/>
<path d="M40.8,31.3 A51.4,51.4 0 0 1 34.4,38.2 L32.3,35.9 A48.3,48.3 0 0 0 38.3,29.4 Z" fill="#ff7a4a"/>
<path d="M39.4,31.3 A50.3,50.3 0 0 1 34.3,36.8 L33.7,36.2 A49.4,49.4 0 0 0 38.7,30.8 Z" fill="#803010" fill-opacity=".3"/>
<path d="M37.5,28.8 A47.3,47.3 0 0 1 34.9,31.9 L32.9,30.1 A44.6,44.6 0 0 0 35.4,27.2 Z" fill="#6e1263"/>
<path d="M24,33 A40.8,40.8 0 0 1 12.6,38.8 L5.3,16.2 A17,17 0 0 0 10,13.8 Z" fill="#efefef"/>
<path d="M15.3,21.1 A26.1,26.1 0 0 1 8.1,24.8 L5.3,16.2 A17,17 0 0 0 10,13.8 Z" fill="#1a8fe3"/>
<path d="M33.9,46.6 A57.6,57.6 0 0 1 17.8,54.8 L16.6,51 A53.6,53.6 0 0 0 31.5,43.4 Z" fill="#1a8fe3"/>
<path d="M31,46.9 A56.2,56.2 0 0 1 19.7,52.6 L19.3,51.5 A55,55 0 0 0 30.4,45.9 Z" fill="#000" fill-opacity="0.33"/>
<path d="M29.1,42.4 A51.4,51.4 0 0 1 21.9,46.5 L20.6,43.7 A48.3,48.3 0 0 0 27.4,39.8 Z" fill="#ff9a6e"/>
<path d="M27.8,41.9 A50.3,50.3 0 0 1 22.3,45.1 L21.9,44.3 A49.4,49.4 0 0 0 27.3,41.2 Z" fill="#803010" fill-opacity=".3"/>
<path d="M26.8,39 A47.3,47.3 0 0 1 22.6,41.6 L21.3,39.2 A44.6,44.6 0 0 0 25.3,36.8 Z" fill="#6e1263"/>
<path d="M12.6,38.8 A40.8,40.8 0 0 1 0,40.8 L0,17 A17,17 0 0 0 5.3,16.2 Z" fill="#efefef"/>
<path d="M7.7,23.8 A25,25 0 0 1 0,25 L0,17 A17,17 0 0 0 5.3,16.2 Z" fill="#1a8fe3"/>
<path d="M17.8,54.8 A57.6,57.6 0 0 1 0,57.6 L0,53.6 A53.6,53.6 0 0 0 16.6,51 Z" fill="#1a8fe3"/>
<path d="M15,54.2 A56.2,56.2 0 0 1 2.5,56.1 L2.4,54.9 A55,55 0 0 0 14.7,53 Z" fill="#000" fill-opacity="0.33"/>
<path d="M14.6,49.3 A51.4,51.4 0 0 1 7.3,50.9 L6.9,47.8 A48.3,48.3 0 0 0 13.7,46.3 Z" fill="#ff8a5c"/>
<path d="M13.4,48.5 A50.3,50.3 0 0 1 8,49.7 L7.9,48.8 A49.4,49.4 0 0 0 13.2,47.6 Z" fill="#803010" fill-opacity=".3"/>
<path d="M13.4,45.4 A47.3,47.3 0 0 1 8.9,46.5 L8.4,43.8 A44.6,44.6 0 0 0 12.7,42.8 Z" fill="#6e1263"/>
<path d="M0,40.8 A40.8,40.8 0 0 1 -12.6,38.8 L-5.3,16.2 A17,17 0 0 0 0,17 Z" fill="#efefef"/>
<path d="M0,24.6 A24.6,24.6 0 0 1 -7.6,23.4 L-5.3,16.2 A17,17 0 0 0 0,17 Z" fill="#1a8fe3"/>
<path d="M0,57.6 A57.6,57.6 0 0 1 -17.8,54.8 L-16.6,51 A53.6,53.6 0 0 0 0,53.6 Z" fill="#1a8fe3"/>
<path d="M-2.5,56.1 A56.2,56.2 0 0 1 -15,54.2 L-14.7,53 A55,55 0 0 0 -2.4,54.9 Z" fill="#000" fill-opacity="0.33"/>
<path d="M-1.3,51.4 A51.4,51.4 0 0 1 -11.7,50.1 L-10.9,47 A48.3,48.3 0 0 0 -1.3,48.3 Z" fill="#ff9a6e"/>
<path d="M-2.2,50.3 A50.3,50.3 0 0 1 -10.5,49.2 L-10.4,48.3 A49.4,49.4 0 0 0 -2.2,49.4 Z" fill="#803010" fill-opacity=".3"/>
<path d="M-1.2,47.3 A47.3,47.3 0 0 1 -6,46.9 L-5.6,44.2 A44.6,44.6 0 0 0 -1.2,44.6 Z" fill="#6e1263"/>
<path d="M-12.6,38.8 A40.8,40.8 0 0 1 -24,33 L-10,13.8 A17,17 0 0 0 -5.3,16.2 Z" fill="#efefef"/>
<path d="M-7.4,22.6 A23.8,23.8 0 0 1 -14,19.3 L-10,13.8 A17,17 0 0 0 -5.3,16.2 Z" fill="#1a8fe3"/>
<path d="M-17.8,54.8 A57.6,57.6 0 0 1 -33.9,46.6 L-31.5,43.4 A53.6,53.6 0 0 0 -16.6,51 Z" fill="#1a8fe3"/>
<path d="M-19.7,52.6 A56.2,56.2 0 0 1 -31,46.9 L-30.4,45.9 A55,55 0 0 0 -19.3,51.5 Z" fill="#000" fill-opacity="0.33"/>
<path d="M-17.2,48.5 A51.4,51.4 0 0 1 -26.6,44 L-25,41.3 A48.3,48.3 0 0 0 -16.1,45.5 Z" fill="#ff8a5c"/>
<path d="M-17.6,47.1 A50.3,50.3 0 0 1 -25.3,43.5 L-24.8,42.7 A49.4,49.4 0 0 0 -17.3,46.3 Z" fill="#803010" fill-opacity=".3"/>
<path d="M-15.8,44.6 A47.3,47.3 0 0 1 -19.5,43.1 L-18.4,40.6 A44.6,44.6 0 0 0 -14.9,42 Z" fill="#6e1263"/>
<path d="M-24,33 A40.8,40.8 0 0 1 -33,24 L-13.8,10 A17,17 0 0 0 -10,13.8 Z" fill="#efefef"/>
<path d="M-18.7,25.7 A31.8,31.8 0 0 1 -25.7,18.7 L-13.8,10 A17,17 0 0 0 -10,13.8 Z" fill="#16a68a"/>
<path d="M-33.9,46.6 A57.6,57.6 0 0 1 -46.6,33.9 L-43.4,31.5 A53.6,53.6 0 0 0 -31.5,43.4 Z" fill="#16a68a"/>
<path d="M-35,44 A56.2,56.2 0 0 1 -44,35 L-43,34.2 A55,55 0 0 0 -34.2,43 Z" fill="#000" fill-opacity="0.33"/>
<path d="M-31.3,40.8 A51.4,51.4 0 0 1 -37.8,34.8 L-35.5,32.7 A48.3,48.3 0 0 0 -29.4,38.3 Z" fill="#ffa882"/>
<path d="M-31.3,39.4 A50.3,50.3 0 0 1 -36.4,34.7 L-35.8,34.1 A49.4,49.4 0 0 0 -30.8,38.7 Z" fill="#803010" fill-opacity=".3"/>
<path d="M-28.8,37.5 A47.3,47.3 0 0 1 -32.5,34.4 L-30.6,32.4 A44.6,44.6 0 0 0 -27.2,35.4 Z" fill="#6e1263"/>
<path d="M-33,24 A40.8,40.8 0 0 1 -38.8,12.6 L-16.2,5.3 A17,17 0 0 0 -13.8,10 Z" fill="#efefef"/>
<path d="M-22.4,16.3 A27.7,27.7 0 0 1 -26.3,8.6 L-16.2,5.3 A17,17 0 0 0 -13.8,10 Z" fill="#16a68a"/>
<path d="M-46.6,33.9 A57.6,57.6 0 0 1 -54.8,17.8 L-51,16.6 A53.6,53.6 0 0 0 -43.4,31.5 Z" fill="#16a68a"/>
<path d="M-46.9,31 A56.2,56.2 0 0 1 -52.6,19.7 L-51.5,19.3 A55,55 0 0 0 -45.9,30.4 Z" fill="#000" fill-opacity="0.33"/>
<path d="M-42.4,29.1 A51.4,51.4 0 0 1 -46.6,21.6 L-43.8,20.3 A48.3,48.3 0 0 0 -39.8,27.4 Z" fill="#ffa882"/>
<path d="M-41.9,27.8 A50.3,50.3 0 0 1 -45.3,21.9 L-44.5,21.5 A49.4,49.4 0 0 0 -41.2,27.3 Z" fill="#803010" fill-opacity=".3"/>
<path d="M-39,26.8 A47.3,47.3 0 0 1 -41.5,22.7 L-39.1,21.4 A44.6,44.6 0 0 0 -36.8,25.3 Z" fill="#6e1263"/>
<path d="M-38.8,12.6 A40.8,40.8 0 0 1 -40.8,0 L-17,0 A17,17 0 0 0 -16.2,5.3 Z" fill="#efefef"/>
<path d="M-25.4,8.3 A26.7,26.7 0 0 1 -26.7,0 L-17,0 A17,17 0 0 0 -16.2,5.3 Z" fill="#16a68a"/>
<path d="M-54.8,17.8 A57.6,57.6 0 0 1 -57.6,0 L-53.6,0 A53.6,53.6 0 0 0 -51,16.6 Z" fill="#16a68a"/>
<path d="M-54.2,15 A56.2,56.2 0 0 1 -56.1,2.5 L-54.9,2.4 A55,55 0 0 0 -53,14.7 Z" fill="#000" fill-opacity="0.33"/>
<path d="M-49.3,14.6 A51.4,51.4 0 0 1 -51.1,5.6 L-48,5.2 A48.3,48.3 0 0 0 -46.3,13.7 Z" fill="#ff7a4a"/>
<path d="M-48.5,13.4 A50.3,50.3 0 0 1 -49.9,6.3 L-49,6.2 A49.4,49.4 0 0 0 -47.6,13.2 Z" fill="#803010" fill-opacity=".3"/>
<path d="M-45.4,13.4 A47.3,47.3 0 0 1 -46.4,9.2 L-43.7,8.7 A44.6,44.6 0 0 0 -42.8,12.7 Z" fill="#6e1263"/>
<path d="M-40.8,0 A40.8,40.8 0 0 1 -38.8,-12.6 L-16.2,-5.3 A17,17 0 0 0 -17,0 Z" fill="#efefef"/>
<path d="M-25.2,0 A25.2,25.2 0 0 1 -24,-7.8 L-16.2,-5.3 A17,17 0 0 0 -17,0 Z" fill="#16a68a"/>
<path d="M-57.6,0 A57.6,57.6 0 0 1 -54.8,-17.8 L-51,-16.6 A53.6,53.6 0 0 0 -53.6,0 Z" fill="#16a68a"/>
<path d="M-56.1,-2.5 A56.2,56.2 0 0 1 -54.2,-15 L-53,-14.7 A55,55 0 0 0 -54.9,-2.4 Z" fill="#000" fill-opacity="0.33"/>
<path d="M-51.4,-1.3 A51.4,51.4 0 0 1 -50.7,-8.5 L-47.6,-8 A48.3,48.3 0 0 0 -48.3,-1.3 Z" fill="#ffa882"/>
<path d="M-50.3,-2.2 A50.3,50.3 0 0 1 -49.7,-7.5 L-48.9,-7.3 A49.4,49.4 0 0 0 -49.4,-2.2 Z" fill="#803010" fill-opacity=".3"/>
<path d="M-47.3,-1.2 A47.3,47.3 0 0 1 -47,-5.3 L-44.3,-5 A44.6,44.6 0 0 0 -44.6,-1.2 Z" fill="#6e1263"/>
<path d="M-38.8,-12.6 A40.8,40.8 0 0 1 -33,-24 L-13.8,-10 A17,17 0 0 0 -16.2,-5.3 Z" fill="#efefef"/>
<path d="M-23.4,-7.6 A24.6,24.6 0 0 1 -19.9,-14.5 L-13.8,-10 A17,17 0 0 0 -16.2,-5.3 Z" fill="#16a68a"/>
<path d="M-54.8,-17.8 A57.6,57.6 0 0 1 -46.6,-33.9 L-43.4,-31.5 A53.6,53.6 0 0 0 -51,-16.6 Z" fill="#16a68a"/>
<path d="M-52.6,-19.7 A56.2,56.2 0 0 1 -46.9,-31 L-45.9,-30.4 A55,55 0 0 0 -51.5,-19.3 Z" fill="#000" fill-opacity="0.33"/>
<path d="M-48.5,-17.2 A51.4,51.4 0 0 1 -44.5,-25.7 L-41.8,-24.2 A48.3,48.3 0 0 0 -45.5,-16.1 Z" fill="#ff8a5c"/>
<path d="M-47.1,-17.6 A50.3,50.3 0 0 1 -44,-24.4 L-43.2,-24 A49.4,49.4 0 0 0 -46.3,-17.3 Z" fill="#803010" fill-opacity=".3"/>
<path d="M-44.6,-15.8 A47.3,47.3 0 0 1 -42.7,-20.3 L-40.3,-19.1 A44.6,44.6 0 0 0 -42,-14.9 Z" fill="#6e1263"/>
<path d="M-33,-24 A40.8,40.8 0 0 1 -24,-33 L-10,-13.8 A17,17 0 0 0 -13.8,-10 Z" fill="#efefef"/>
<path d="M-19.3,-14 A23.9,23.9 0 0 1 -14,-19.3 L-10,-13.8 A17,17 0 0 0 -13.8,-10 Z" fill="#16a68a"/>
<path d="M-46.6,-33.9 A57.6,57.6 0 0 1 -33.9,-46.6 L-31.5,-43.4 A53.6,53.6 0 0 0 -43.4,-31.5 Z" fill="#16a68a"/>
<path d="M-44,-35 A56.2,56.2 0 0 1 -35,-44 L-34.2,-43 A55,55 0 0 0 -43,-34.2 Z" fill="#000" fill-opacity="0.33"/>
<path d="M-40.8,-31.3 A51.4,51.4 0 0 1 -34.1,-38.4 L-32.1,-36.1 A48.3,48.3 0 0 0 -38.3,-29.4 Z" fill="#ff7a4a"/>
<path d="M-39.4,-31.3 A50.3,50.3 0 0 1 -34,-37 L-33.4,-36.4 A49.4,49.4 0 0 0 -38.7,-30.8 Z" fill="#803010" fill-opacity=".3"/>
<path d="M-37.5,-28.8 A47.3,47.3 0 0 1 -34.4,-32.5 L-32.4,-30.7 A44.6,44.6 0 0 0 -35.4,-27.2 Z" fill="#6e1263"/>
<path d="M-24,-33 A40.8,40.8 0 0 1 -12.6,-38.8 L-5.3,-16.2 A17,17 0 0 0 -10,-13.8 Z" fill="#efefef"/>
<path d="M-13.9,-19.2 A23.7,23.7 0 0 1 -7.3,-22.5 L-5.3,-16.2 A17,17 0 0 0 -10,-13.8 Z" fill="#16a68a"/>
<path d="M-33.9,-46.6 A57.6,57.6 0 0 1 -17.8,-54.8 L-16.6,-51 A53.6,53.6 0 0 0 -31.5,-43.4 Z" fill="#16a68a"/>
<path d="M-31,-46.9 A56.2,56.2 0 0 1 -19.7,-52.6 L-19.3,-51.5 A55,55 0 0 0 -30.4,-45.9 Z" fill="#000" fill-opacity="0.33"/>
<path d="M-29.1,-42.4 A51.4,51.4 0 0 1 -20.7,-47.1 L-19.4,-44.2 A48.3,48.3 0 0 0 -27.4,-39.8 Z" fill="#ff7a4a"/>
<path d="M-27.8,-41.9 A50.3,50.3 0 0 1 -21,-45.7 L-20.7,-44.9 A49.4,49.4 0 0 0 -27.3,-41.2 Z" fill="#803010" fill-opacity=".3"/>
<path d="M-26.8,-39 A47.3,47.3 0 0 1 -23.1,-41.3 L-21.7,-38.9 A44.6,44.6 0 0 0 -25.3,-36.8 Z" fill="#6e1263"/>
<path d="M-12.6,-38.8 A40.8,40.8 0 0 1 -0,-40.8 L-0,-17 A17,17 0 0 0 -5.3,-16.2 Z" fill="#efefef"/>
<path d="M-7.1,-21.8 A22.9,22.9 0 0 1 -0,-22.9 L-0,-17 A17,17 0 0 0 -5.3,-16.2 Z" fill="#16a68a"/>
<path d="M-17.8,-54.8 A57.6,57.6 0 0 1 -0,-57.6 L-0,-53.6 A53.6,53.6 0 0 0 -16.6,-51 Z" fill="#16a68a"/>
<path d="M-15,-54.2 A56.2,56.2 0 0 1 -2.5,-56.1 L-2.4,-54.9 A55,55 0 0 0 -14.7,-53 Z" fill="#000" fill-opacity="0.33"/>
<path d="M-14.6,-49.3 A51.4,51.4 0 0 1 -4.6,-51.2 L-4.3,-48.1 A48.3,48.3 0 0 0 -13.7,-46.3 Z" fill="#ffa882"/>
<path d="M-13.4,-48.5 A50.3,50.3 0 0 1 -5.4,-50 L-5.3,-49.1 A49.4,49.4 0 0 0 -13.2,-47.6 Z" fill="#803010" fill-opacity=".3"/>
<path d="M-13.4,-45.4 A47.3,47.3 0 0 1 -9.1,-46.4 L-8.6,-43.8 A44.6,44.6 0 0 0 -12.7,-42.8 Z" fill="#6e1263"/>
<line x1="0" y1="-17" x2="0" y2="-41" stroke="#fff" stroke-width="0.9"/>
<line x1="0" y1="-53.3" x2="0" y2="-59.5" stroke="#fff" stroke-width="0.9"/>
<line x1="5.3" y1="-16.2" x2="12.7" y2="-39" stroke="#fff" stroke-width="0.9"/>
<line x1="16.5" y1="-50.7" x2="18.4" y2="-56.6" stroke="#fff" stroke-width="0.9"/>
<line x1="10" y1="-13.8" x2="24.1" y2="-33.2" stroke="#fff" stroke-width="0.9"/>
<line x1="31.3" y1="-43.1" x2="35" y2="-48.1" stroke="#fff" stroke-width="0.9"/>
<line x1="13.8" y1="-10" x2="33.2" y2="-24.1" stroke="#fff" stroke-width="0.9"/>
<line x1="43.1" y1="-31.3" x2="48.1" y2="-35" stroke="#fff" stroke-width="0.9"/>
<line x1="16.2" y1="-5.3" x2="39" y2="-12.7" stroke="#fff" stroke-width="0.9"/>
<line x1="50.7" y1="-16.5" x2="56.6" y2="-18.4" stroke="#fff" stroke-width="0.9"/>
<line x1="17" y1="-0" x2="41" y2="-0" stroke="#fff" stroke-width="0.9"/>
<line x1="53.3" y1="-0" x2="59.5" y2="-0" stroke="#fff" stroke-width="0.9"/>
<line x1="16.2" y1="5.3" x2="39" y2="12.7" stroke="#fff" stroke-width="0.9"/>
<line x1="50.7" y1="16.5" x2="56.6" y2="18.4" stroke="#fff" stroke-width="0.9"/>
<line x1="13.8" y1="10" x2="33.2" y2="24.1" stroke="#fff" stroke-width="0.9"/>
<line x1="43.1" y1="31.3" x2="48.1" y2="35" stroke="#fff" stroke-width="0.9"/>
<line x1="10" y1="13.8" x2="24.1" y2="33.2" stroke="#fff" stroke-width="0.9"/>
<line x1="31.3" y1="43.1" x2="35" y2="48.1" stroke="#fff" stroke-width="0.9"/>
<line x1="5.3" y1="16.2" x2="12.7" y2="39" stroke="#fff" stroke-width="0.9"/>
<line x1="16.5" y1="50.7" x2="18.4" y2="56.6" stroke="#fff" stroke-width="0.9"/>
<line x1="0" y1="17" x2="0" y2="41" stroke="#fff" stroke-width="0.9"/>
<line x1="0" y1="53.3" x2="0" y2="59.5" stroke="#fff" stroke-width="0.9"/>
<line x1="-5.3" y1="16.2" x2="-12.7" y2="39" stroke="#fff" stroke-width="0.9"/>
<line x1="-16.5" y1="50.7" x2="-18.4" y2="56.6" stroke="#fff" stroke-width="0.9"/>
<line x1="-10" y1="13.8" x2="-24.1" y2="33.2" stroke="#fff" stroke-width="0.9"/>
<line x1="-31.3" y1="43.1" x2="-35" y2="48.1" stroke="#fff" stroke-width="0.9"/>
<line x1="-13.8" y1="10" x2="-33.2" y2="24.1" stroke="#fff" stroke-width="0.9"/>
<line x1="-43.1" y1="31.3" x2="-48.1" y2="35" stroke="#fff" stroke-width="0.9"/>
<line x1="-16.2" y1="5.3" x2="-39" y2="12.7" stroke="#fff" stroke-width="0.9"/>
<line x1="-50.7" y1="16.5" x2="-56.6" y2="18.4" stroke="#fff" stroke-width="0.9"/>
<line x1="-17" y1="0" x2="-41" y2="0" stroke="#fff" stroke-width="0.9"/>
<line x1="-53.3" y1="0" x2="-59.5" y2="0" stroke="#fff" stroke-width="0.9"/>
<line x1="-16.2" y1="-5.3" x2="-39" y2="-12.7" stroke="#fff" stroke-width="0.9"/>
<line x1="-50.7" y1="-16.5" x2="-56.6" y2="-18.4" stroke="#fff" stroke-width="0.9"/>
<line x1="-13.8" y1="-10" x2="-33.2" y2="-24.1" stroke="#fff" stroke-width="0.9"/>
<line x1="-43.1" y1="-31.3" x2="-48.1" y2="-35" stroke="#fff" stroke-width="0.9"/>
<line x1="-10" y1="-13.8" x2="-24.1" y2="-33.2" stroke="#fff" stroke-width="0.9"/>
<line x1="-31.3" y1="-43.1" x2="-35" y2="-48.1" stroke="#fff" stroke-width="0.9"/>
<line x1="-5.3" y1="-16.2" x2="-12.7" y2="-39" stroke="#fff" stroke-width="0.9"/>
<line x1="-16.5" y1="-50.7" x2="-18.4" y2="-56.6" stroke="#fff" stroke-width="0.9"/>
<text x="0" y="-60.6" style="font-family:'Liberation Sans',sans-serif;font-size:2.1px" fill="#555" text-anchor="middle">0</text>
<text x="6" y="-60.3" style="font-family:'Liberation Sans',sans-serif;font-size:2.1px" fill="#555" text-anchor="middle">50</text>
<text x="11.9" y="-59.4" style="font-family:'Liberation Sans',sans-serif;font-size:2.1px" fill="#555" text-anchor="middle">100</text>
<text x="18.9" y="-57.6" style="font-family:'Liberation Sans',sans-serif;font-size:2.1px" fill="#555" text-anchor="middle">0</text>
<text x="24.5" y="-55.5" style="font-family:'Liberation Sans',sans-serif;font-size:2.1px" fill="#555" text-anchor="middle">50</text>
<text x="29.9" y="-52.8" style="font-family:'Liberation Sans',sans-serif;font-size:2.1px" fill="#555" text-anchor="middle">100</text>
<text x="36" y="-48.9" style="font-family:'Liberation Sans',sans-serif;font-size:2.1px" fill="#555" text-anchor="middle">0</text>
<text x="40.7" y="-45.1" style="font-family:'Liberation Sans',sans-serif;font-size:2.1px" fill="#555" text-anchor="middle">50</text>
<text x="45" y="-40.9" style="font-family:'Liberation Sans',sans-serif;font-size:2.1px" fill="#555" text-anchor="middle">100</text>
<text x="49.6" y="-35.3" style="font-family:'Liberation Sans',sans-serif;font-size:2.1px" fill="#555" text-anchor="middle">0</text>
<text x="52.9" y="-30.3" style="font-family:'Liberation Sans',sans-serif;font-size:2.1px" fill="#555" text-anchor="middle">50</text>
<text x="55.6" y="-25" style="font-family:'Liberation Sans',sans-serif;font-size:2.1px" fill="#555" text-anchor="middle">100</text>
<text x="58.3" y="-18.2" style="font-family:'Liberation Sans',sans-serif;font-size:2.1px" fill="#555" text-anchor="middle">0</text>
<text x="59.9" y="-12.5" style="font-family:'Liberation Sans',sans-serif;font-size:2.1px" fill="#555" text-anchor="middle">50</text>
<text x="60.9" y="-6.6" style="font-family:'Liberation Sans',sans-serif;font-size:2.1px" fill="#555" text-anchor="middle">100</text>
<text x="61.3" y=".7" style="font-family:'Liberation Sans',sans-serif;font-size:2.1px" fill="#555" text-anchor="middle">0</text>
<text x="61" y="6.7" style="font-family:'Liberation Sans',sans-serif;font-size:2.1px" fill="#555" text-anchor="middle">50</text>
<text x="60.1" y="12.6" style="font-family:'Liberation Sans',sans-serif;font-size:2.1px" fill="#555" text-anchor="middle">100</text>
<text x="58.3" y="19.6" style="font-family:'Liberation Sans',sans-serif;font-size:2.1px" fill="#555" text-anchor="middle">0</text>
<text x="56.2" y="25.2" style="font-family:'Liberation Sans',sans-serif;font-size:2.1px" fill="#555" text-anchor="middle">50</text>
<text x="53.5" y="30.6" style="font-family:'Liberation Sans',sans-serif;font-size:2.1px" fill="#555" text-anchor="middle">100</text>
<text x="49.6" y="36.7" style="font-family:'Liberation Sans',sans-serif;font-size:2.1px" fill="#555" text-anchor="middle">0</text>
<text x="45.8" y="41.4" style="font-family:'Liberation Sans',sans-serif;font-size:2.1px" fill="#555" text-anchor="middle">50</text>
<text x="41.6" y="45.7" style="font-family:'Liberation Sans',sans-serif;font-size:2.1px" fill="#555" text-anchor="middle">100</text>
<text x="36" y="50.3" style="font-family:'Liberation Sans',sans-serif;font-size:2.1px" fill="#555" text-anchor="middle">0</text>
<text x="31" y="53.6" style="font-family:'Liberation Sans',sans-serif;font-size:2.1px" fill="#555" text-anchor="middle">50</text>
<text x="25.7" y="56.3" style="font-family:'Liberation Sans',sans-serif;font-size:2.1px" fill="#555" text-anchor="middle">100</text>
<text x="18.9" y="59" style="font-family:'Liberation Sans',sans-serif;font-size:2.1px" fill="#555" text-anchor="middle">0</text>
<text x="13.2" y="60.6" style="font-family:'Liberation Sans',sans-serif;font-size:2.1px" fill="#555" text-anchor="middle">50</text>
<text x="7.3" y="61.6" style="font-family:'Liberation Sans',sans-serif;font-size:2.1px" fill="#555" text-anchor="middle">100</text>
<text x="0" y="62" style="font-family:'Liberation Sans',sans-serif;font-size:2.1px" fill="#555" text-anchor="middle">0</text>
<text x="-6" y="61.7" style="font-family:'Liberation Sans',sans-serif;font-size:2.1px" fill="#555" text-anchor="middle">50</text>
<text x="-11.9" y="60.8" style="font-family:'Liberation Sans',sans-serif;font-size:2.1px" fill="#555" text-anchor="middle">100</text>
<text x="-18.9" y="59" style="font-family:'Liberation Sans',sans-serif;font-size:2.1px" fill="#555" text-anchor="middle">0</text>
<text x="-24.5" y="56.9" style="font-family:'Liberation Sans',sans-serif;font-size:2.1px" fill="#555" text-anchor="middle">50</text>
<text x="-29.9" y="54.2" style="font-family:'Liberation Sans',sans-serif;font-size:2.1px" fill="#555" text-anchor="middle">100</text>
<text x="-36" y="50.3" style="font-family:'Liberation Sans',sans-serif;font-size:2.1px" fill="#555" text-anchor="middle">0</text>
<text x="-40.7" y="46.5" style="font-family:'Liberation Sans',sans-serif;font-size:2.1px" fill="#555" text-anchor="middle">50</text>
<text x="-45" y="42.3" style="font-family:'Liberation Sans',sans-serif;font-size:2.1px" fill="#555" text-anchor="middle">100</text>
<text x="-49.6" y="36.7" style="font-family:'Liberation Sans',sans-serif;font-size:2.1px" fill="#555" text-anchor="middle">0</text>
<text x="-52.9" y="31.7" style="font-family:'Liberation Sans',sans-serif;font-size:2.1px" fill="#555" text-anchor="middle">50</text>
<text x="-55.6" y="26.4" style="font-family:'Liberation Sans',sans-serif;font-size:2.1px" fill="#555" text-anchor="middle">100</text>
<text x="-58.3" y="19.6" style="font-family:'Liberation Sans',sans-serif;font-size:2.1px" fill="#555" text-anchor="middle">0</text>
<text x="-59.9" y="13.9" style="font-family:'Liberation Sans',sans-serif;font-size:2.1px" fill="#555" text-anchor="middle">50</text>
<text x="-60.9" y="8" style="font-family:'Liberation Sans',sans-serif;font-size:2.1px" fill="#555" text-anchor="middle">100</text>
<text x="-61.3" y=".7" style="font-family:'Liberation Sans',sans-serif;font-size:2.1px" fill="#555" text-anchor="middle">0</text>
<text x="-61" y="-5.3" style="font-family:'Liberation Sans',sans-serif;font-size:2.1px" fill="#555" text-anchor="middle">50</text>
<text x="-60.1" y="-11.2" style="font-family:'Liberation Sans',sans-serif;font-size:2.1px" fill="#555" text-anchor="middle">100</text>
<text x="-58.3" y="-18.2" style="font-family:'Liberation Sans',sans-serif;font-size:2.1px" fill="#555" text-anchor="middle">0</text>
<text x="-56.2" y="-23.8" style="font-family:'Liberation Sans',sans-serif;font-size:2.1px" fill="#555" text-anchor="middle">50</text>
<text x="-53.5" y="-29.2" style="font-family:'Liberation Sans',sans-serif;font-size:2.1px" fill="#555" text-anchor="middle">100</text>
<text x="-49.6" y="-35.3" style="font-family:'Liberation Sans',sans-serif;font-size:2.1px" fill="#555" text-anchor="middle">0</text>
<text x="-45.8" y="-40" style="font-family:'Liberation Sans',sans-serif;font-size:2.1px" fill="#555" text-anchor="middle">50</text>
<text x="-41.6" y="-44.3" style="font-family:'Liberation Sans',sans-serif;font-size:2.1px" fill="#555" text-anchor="middle">100</text>
<text x="-36" y="-48.9" style="font-family:'Liberation Sans',sans-serif;font-size:2.1px" fill="#555" text-anchor="middle">0</text>
<text x="-31" y="-52.2" style="font-family:'Liberation Sans',sans-serif;font-size:2.1px" fill="#555" text-anchor="middle">50</text>
<text x="-25.7" y="-54.9" style="font-family:'Liberation Sans',sans-serif;font-size:2.1px" fill="#555" text-anchor="middle">100</text>
<text x="-18.9" y="-57.6" style="font-family:'Liberation Sans',sans-serif;font-size:2.1px" fill="#555" text-anchor="middle">0</text>
<text x="-13.2" y="-59.2" style="font-family:'Liberation Sans',sans-serif;font-size:2.1px" fill="#555" text-anchor="middle">50</text>
<text x="-7.3" y="-60.2" style="font-family:'Liberation Sans',sans-serif;font-size:2.1px" fill="#555" text-anchor="middle">100</text>
<g stroke="#666" stroke-width=".25"><path d="M0 -57.7L0 -59.2"/><path d="M5.6 -57.4L5.8 -58.9"/><path d="M11.2 -56.6L11.5 -58.1"/><path d="M17.8 -54.9L18.3 -56.3"/><path d="M23.1 -52.9L23.7 -54.2"/><path d="M28.1 -50.4L28.9 -51.7"/><path d="M33.9 -46.7L34.8 -47.9"/><path d="M38.3 -43.1L39.3 -44.3"/><path d="M42.3 -39.2L43.4 -40.2"/><path d="M46.7 -33.9L47.9 -34.8"/><path d="M49.8 -29.2L51.1 -30"/><path d="M52.4 -24.2L53.7 -24.8"/><path d="M54.9 -17.8L56.3 -18.3"/><path d="M56.4 -12.4L57.8 -12.7"/><path d="M57.3 -6.8L58.8 -7"/><path d="M57.7 -0L59.2 -0"/><path d="M57.4 5.6L58.9 5.8"/><path d="M56.6 11.2L58.1 11.5"/><path d="M54.9 17.8L56.3 18.3"/><path d="M52.9 23.1L54.2 23.7"/><path d="M50.4 28.1L51.7 28.9"/><path d="M46.7 33.9L47.9 34.8"/><path d="M43.1 38.3L44.3 39.3"/><path d="M39.2 42.3L40.2 43.4"/><path d="M33.9 46.7L34.8 47.9"/><path d="M29.2 49.8L30 51.1"/><path d="M24.2 52.4L24.8 53.7"/><path d="M17.8 54.9L18.3 56.3"/><path d="M12.4 56.4L12.7 57.8"/><path d="M6.8 57.3L7 58.8"/><path d="M0 57.7L0 59.2"/><path d="M-5.6 57.4L-5.8 58.9"/><path d="M-11.2 56.6L-11.5 58.1"/><path d="M-17.8 54.9L-18.3 56.3"/><path d="M-23.1 52.9L-23.7 54.2"/><path d="M-28.1 50.4L-28.9 51.7"/><path d="M-33.9 46.7L-34.8 47.9"/><path d="M-38.3 43.1L-39.3 44.3"/><path d="M-42.3 39.2L-43.4 40.2"/><path d="M-46.7 33.9L-47.9 34.8"/><path d="M-49.8 29.2L-51.1 30"/><path d="M-52.4 24.2L-53.7 24.8"/><path d="M-54.9 17.8L-56.3 18.3"/><path d="M-56.4 12.4L-57.8 12.7"/><path d="M-57.3 6.8L-58.8 7"/><path d="M-57.7 0L-59.2 0"/><path d="M-57.4 -5.6L-58.9 -5.8"/><path d="M-56.6 -11.2L-58.1 -11.5"/><path d="M-54.9 -17.8L-56.3 -18.3"/><path d="M-52.9 -23.1L-54.2 -23.7"/><path d="M-50.4 -28.1L-51.7 -28.9"/><path d="M-46.7 -33.9L-47.9 -34.8"/><path d="M-43.1 -38.3L-44.3 -39.3"/><path d="M-39.2 -42.3L-40.2 -43.4"/><path d="M-33.9 -46.7L-34.8 -47.9"/><path d="M-29.2 -49.8L-30 -51.1"/><path d="M-24.2 -52.4L-24.8 -53.7"/><path d="M-17.8 -54.9L-18.3 -56.3"/><path d="M-12.4 -56.4L-12.7 -57.8"/><path d="M-6.8 -57.3L-7 -58.8"/></g>
<circle cx="0" cy="0" r="16.8" fill="#fff"/>
</g>
<rect x="245.3" y="205.8" width="6" height="2" fill="#d4d4d4" stroke="#777" stroke-width="0.4"/>
<text x="252.6" y="207.7" style="font-family:'Liberation Sans',sans-serif;font-size:2.35px" fill="#555">Number of Genes</text>
<rect x="245.3" y="209.8" width="6" height="2" fill="#6e1263" stroke="#6e1263" stroke-width="0.4"/>
<text x="252.6" y="211.7" style="font-family:'Liberation Sans',sans-serif;font-size:2.35px" fill="#555">Number of DEGs</text>
<rect x="245.3" y="214" width="6" height="2" fill="#d4d4d4" stroke="#777" stroke-width="0.4"/>
<text x="252.6" y="215.8" style="font-family:'Liberation Sans',sans-serif;font-size:2.35px" fill="#555">Rich Factor(0-1)</text>
<rect x="328.7" y="185.3" width="3.6" height="3.6" fill="#f6c400"/>
<text x="333.4" y="187.9" style="font-family:'Liberation Sans',sans-serif;font-size:2.3px" fill="#555">Metabolism</text>
<rect x="328.7" y="189.6" width="3.6" height="3.6" fill="#a0397a"/>
<text x="333.4" y="192.2" style="font-family:'Liberation Sans',sans-serif;font-size:2.3px" fill="#555">Environmental Information Processing</text>
<rect x="328.7" y="193.9" width="3.6" height="3.6" fill="#8a48e6"/>
<text x="333.4" y="196.5" style="font-family:'Liberation Sans',sans-serif;font-size:2.3px" fill="#555">Cellular Processes</text>
<rect x="328.7" y="198.2" width="3.6" height="3.6" fill="#1a8fe3"/>
<text x="333.4" y="200.8" style="font-family:'Liberation Sans',sans-serif;font-size:2.3px" fill="#555">Organismal Systems</text>
<rect x="328.7" y="202.6" width="3.6" height="3.6" fill="#14a68a"/>
<text x="333.4" y="205.2" style="font-family:'Liberation Sans',sans-serif;font-size:2.3px" fill="#555">Human Diseases</text>
<text x="328.3" y="212.6" style="font-family:'Liberation Serif',serif;font-size:3.4px" fill="#333">-log10(Qvalue)</text>
<circle cx="330.2" cy="217" r="1.5" fill="#fee5d9"/>
<text x="333.2" y="217.8" style="font-family:'Liberation Sans',sans-serif;font-size:2.3px" fill="#555">(0.1,1]</text>
<circle cx="330.2" cy="221.3" r="1.5" fill="#fcbba1"/>
<text x="333.2" y="222.1" style="font-family:'Liberation Sans',sans-serif;font-size:2.3px" fill="#555">(1,2]</text>
<circle cx="330.2" cy="225.6" r="1.5" fill="#fc9272"/>
<text x="333.2" y="226.4" style="font-family:'Liberation Sans',sans-serif;font-size:2.3px" fill="#555">(2,5]</text>
<circle cx="330.2" cy="229.9" r="1.5" fill="#fb6a4a"/>
<text x="333.2" y="230.7" style="font-family:'Liberation Sans',sans-serif;font-size:2.3px" fill="#555">(5,10]</text>
<circle cx="330.2" cy="234.2" r="1.5" fill="#f23030"/>
<text x="333.2" y="235" style="font-family:'Liberation Sans',sans-serif;font-size:2.3px" fill="#555">(10,15]</text>
<circle cx="330.2" cy="238.5" r="1.5" fill="#e01818"/>
<text x="333.2" y="239.3" style="font-family:'Liberation Sans',sans-serif;font-size:2.3px" fill="#555">(15,20]</text>
<circle cx="330.2" cy="242.8" r="1.5" fill="#a00f15"/>
<text x="333.2" y="243.6" style="font-family:'Liberation Sans',sans-serif;font-size:2.3px" fill="#555">>20</text>
<g>
<ellipse cx="478.8" cy="196.7" rx="35.8" ry="34" fill="#aaa" fill-opacity="0.5" stroke="#666" stroke-width="0.5" stroke-opacity="0.7"/>
<ellipse cx="424" cy="196" rx="36.3" ry="33.8" fill="#709bd8" fill-opacity="0.5" stroke="#5a6f8a" stroke-width="0.5" stroke-opacity="0.7"/>
<ellipse cx="451.5" cy="237.5" rx="36.2" ry="33.8" fill="#98d68a" fill-opacity="0.5" stroke="#6a8a60" stroke-width="0.5" stroke-opacity="0.7"/>
</g>
<text x="421.8" y="196.2" style="font-family:'Liberation Serif',serif;font-size:7.1px;font-weight:bold" fill="#111" text-anchor="middle" stroke="#111" stroke-width=".15">763</text>
<text x="451" y="196.2" style="font-family:'Liberation Serif',serif;font-size:7.1px;font-weight:bold" fill="#111" text-anchor="middle" stroke="#111" stroke-width=".15">498</text>
<text x="480.1" y="196.4" style="font-family:'Liberation Serif',serif;font-size:7.1px;font-weight:bold" fill="#111" text-anchor="middle" stroke="#111" stroke-width=".15">336</text>
<text x="451.2" y="211.1" style="font-family:'Liberation Serif',serif;font-size:7.1px;font-weight:bold" fill="#ee2222" text-anchor="middle" stroke="#ee2222" stroke-width=".15">116</text>
<text x="437.3" y="220.6" style="font-family:'Liberation Serif',serif;font-size:7.1px;font-weight:bold" fill="#111" text-anchor="middle" stroke="#111" stroke-width=".15">249</text>
<text x="468.4" y="220.9" style="font-family:'Liberation Serif',serif;font-size:7.1px;font-weight:bold" fill="#111" text-anchor="middle" stroke="#111" stroke-width=".15">115</text>
<text x="450.8" y="248.8" style="font-family:'Liberation Serif',serif;font-size:7.1px;font-weight:bold" fill="#111" text-anchor="middle" stroke="#111" stroke-width=".15">401</text>
<text x="412" y="160.4" style="font-family:'Liberation Serif',serif;font-size:6.45px;font-weight:bold" fill="#000" text-anchor="middle">lncRNA_TargetGenes</text>
<text x="491.4" y="160.6" style="font-family:'Liberation Serif',serif;font-size:6.45px;font-weight:bold" fill="#000" text-anchor="middle">miRNA_TargetGenes</text>
<text x="450.8" y="278.8" style="font-family:'Liberation Serif',serif;font-size:6.45px;font-weight:bold" fill="#000" text-anchor="middle">mRNA</text>
<line x1="27.6" y1="301.6" x2="27.6" y2="418.6" stroke="#555" stroke-width="0.8"/>
<line x1="27.6" y1="418.6" x2="31" y2="418.6" stroke="#666" stroke-width="0.7"/>
<line x1="25.2" y1="414.2" x2="27.6" y2="414.2" stroke="#555" stroke-width="0.6"/>
<text x="24.6" y="415.9" style="font-family:'Liberation Sans',sans-serif;font-size:4.8px" fill="#222" text-anchor="end" stroke="#222" stroke-width=".18">0</text>
<line x1="25.2" y1="400.2" x2="27.6" y2="400.2" stroke="#555" stroke-width="0.6"/>
<text x="24.6" y="401.9" style="font-family:'Liberation Sans',sans-serif;font-size:4.8px" fill="#222" text-anchor="end" stroke="#222" stroke-width=".18">2</text>
<line x1="25.2" y1="386.2" x2="27.6" y2="386.2" stroke="#555" stroke-width="0.6"/>
<text x="24.6" y="387.9" style="font-family:'Liberation Sans',sans-serif;font-size:4.8px" fill="#222" text-anchor="end" stroke="#222" stroke-width=".18">4</text>
<line x1="25.2" y1="372.2" x2="27.6" y2="372.2" stroke="#555" stroke-width="0.6"/>
<text x="24.6" y="373.9" style="font-family:'Liberation Sans',sans-serif;font-size:4.8px" fill="#222" text-anchor="end" stroke="#222" stroke-width=".18">6</text>
<line x1="25.2" y1="358.2" x2="27.6" y2="358.2" stroke="#555" stroke-width="0.6"/>
<text x="24.6" y="359.9" style="font-family:'Liberation Sans',sans-serif;font-size:4.8px" fill="#222" text-anchor="end" stroke="#222" stroke-width=".18">8</text>
<line x1="25.2" y1="344.2" x2="27.6" y2="344.2" stroke="#555" stroke-width="0.6"/>
<text x="24.6" y="345.9" style="font-family:'Liberation Sans',sans-serif;font-size:4.8px" fill="#222" text-anchor="end" stroke="#222" stroke-width=".18">10</text>
<line x1="25.2" y1="330.2" x2="27.6" y2="330.2" stroke="#555" stroke-width="0.6"/>
<text x="24.6" y="331.9" style="font-family:'Liberation Sans',sans-serif;font-size:4.8px" fill="#222" text-anchor="end" stroke="#222" stroke-width=".18">12</text>
<line x1="25.2" y1="316.2" x2="27.6" y2="316.2" stroke="#555" stroke-width="0.6"/>
<text x="24.6" y="317.9" style="font-family:'Liberation Sans',sans-serif;font-size:4.8px" fill="#222" text-anchor="end" stroke="#222" stroke-width=".18">14</text>
<line x1="25.2" y1="302.2" x2="27.6" y2="302.2" stroke="#555" stroke-width="0.6"/>
<text x="24.6" y="303.9" style="font-family:'Liberation Sans',sans-serif;font-size:4.8px" fill="#222" text-anchor="end" stroke="#222" stroke-width=".18">≥ 16</text>
<text transform="translate(15.8,356) rotate(-90)" style="font-family:'Liberation Sans',sans-serif;font-size:5.1px" fill="#222" stroke="#222" stroke-width=".15" text-anchor="middle">-log10(Padj)</text>
<line x1="28.5" y1="298.2" x2="60" y2="298.2" stroke="#ccc" stroke-width="0.5"/>
<line x1="28.5" y1="301.4" x2="470" y2="301.4" stroke="#ccc" stroke-width="0.5" stroke-dasharray="1.2,1"/>
<text x="387.7" y="305.3" style="font-family:'Liberation Sans',sans-serif;font-size:4.24px" fill="#999">6 values above this threshold are capped</text>
<rect x="31.5" y="414.2" width="374.7" height="4.2" fill="#ff9900"/>
<rect x="410.5" y="414.2" width="7" height="4.2" fill="#dd4477"/>
<rect x="421.8" y="414.2" width="30.5" height="4.2" fill="#2a62d2"/>
<rect x="456.4" y="414.2" width="8.1" height="4.2" fill="#0099c6"/>
<line x1="31" y1="418.8" x2="465" y2="418.8" stroke="#bbb" stroke-width="0.4"/>
<text transform="translate(212.5,424.5) rotate(32)" style="font-family:'Liberation Sans',sans-serif;font-size:5.2px" fill="#444">GO:BP (357)</text>
<text transform="translate(408.5,424) rotate(36)" style="font-family:'Liberation Sans',sans-serif;font-size:5.0px" fill="#444">KEGG (2)</text>
<text transform="translate(431.5,424) rotate(36)" style="font-family:'Liberation Sans',sans-serif;font-size:5.0px" fill="#444">REAC (3)</text>
<text transform="translate(455.5,424) rotate(36)" style="font-family:'Liberation Sans',sans-serif;font-size:5.0px" fill="#444">WP (</text>
<g fill="#fd9f10" fill-opacity=".95"><circle cx="217.3" cy="329.9" r="3.4"/><circle cx="158.6" cy="393.4" r="3.8"/><circle cx="195.8" cy="386" r="4.1"/><circle cx="245.4" cy="403" r="3.7"/><circle cx="142" cy="402.1" r="3.8"/><circle cx="162.3" cy="402.1" r="4"/><circle cx="215.5" cy="399.8" r="4"/><circle cx="215.5" cy="379.4" r="3.9"/><circle cx="47.2" cy="380.4" r="3.6"/><circle cx="254.2" cy="403" r="3.8"/><circle cx="215.5" cy="392" r="4.1"/><circle cx="113.5" cy="399.6" r="4"/><circle cx="288.8" cy="381" r="3.8"/><circle cx="147.4" cy="379.8" r="3.7"/><circle cx="47.5" cy="383" r="3.4"/><circle cx="68.2" cy="396.1" r="3.6"/><circle cx="285.1" cy="399.6" r="3.4"/><circle cx="92.3" cy="388.3" r="3.6"/><circle cx="197" cy="400.8" r="4.1"/><circle cx="338.5" cy="335.9" r="3.4"/><circle cx="301.8" cy="384.2" r="4"/><circle cx="141.9" cy="388.5" r="4"/><circle cx="87.5" cy="402.1" r="3.9"/><circle cx="338.1" cy="365.2" r="3.9"/><circle cx="53.1" cy="380.3" r="3.4"/><circle cx="87.5" cy="392.2" r="3.9"/><circle cx="99.1" cy="403" r="3.6"/><circle cx="140.6" cy="329.2" r="3.6"/><circle cx="244.7" cy="398.3" r="3.7"/><circle cx="45.4" cy="397.8" r="3.7"/><circle cx="38.5" cy="374.8" r="4.1"/><circle cx="239.1" cy="398.3" r="3.8"/><circle cx="71.9" cy="383.7" r="3.5"/><circle cx="77.6" cy="395.9" r="3.7"/><circle cx="271.5" cy="355.7" r="3.7"/><circle cx="46.6" cy="400.8" r="4.1"/><circle cx="81.3" cy="399.6" r="3.9"/><circle cx="94" cy="400.9" r="3.6"/><circle cx="63.9" cy="389.7" r="4"/><circle cx="163.4" cy="393.6" r="3.4"/><circle cx="270.4" cy="330.4" r="3.4"/><circle cx="209.2" cy="392" r="3.6"/><circle cx="62.6" cy="388.8" r="3.7"/><circle cx="342" cy="389.7" r="3.7"/><circle cx="216.7" cy="388.5" r="3.8"/><circle cx="187" cy="401.8" r="3.3"/><circle cx="138" cy="342.4" r="3.4"/><circle cx="82" cy="338.9" r="3.4"/><circle cx="86" cy="366.8" r="4.1"/><circle cx="228" cy="349.4" r="3.7"/><circle cx="72.4" cy="391.3" r="3.6"/><circle cx="224.9" cy="354.2" r="3.8"/><circle cx="194.5" cy="392.2" r="3.8"/><circle cx="357.8" cy="402.3" r="3.9"/><circle cx="299" cy="373.1" r="4"/><circle cx="261.3" cy="358.9" r="3.8"/><circle cx="284.7" cy="394.1" r="3.6"/><circle cx="65.2" cy="392.2" r="3.9"/><circle cx="117.2" cy="392.2" r="3.8"/><circle cx="79.6" cy="399.6" r="3.6"/><circle cx="127.1" cy="381.6" r="3.8"/><circle cx="127.1" cy="342.2" r="3.6"/><circle cx="86.2" cy="384.7" r="3.7"/><circle cx="182.1" cy="392.2" r="4.1"/><circle cx="125.9" cy="364.9" r="3.9"/><circle cx="190.8" cy="389.1" r="3.8"/><circle cx="134.6" cy="400.8" r="4"/><circle cx="135.8" cy="376.1" r="3.7"/><circle cx="102.3" cy="392.2" r="3.8"/><circle cx="42.7" cy="398.7" r="3.3"/><circle cx="80" cy="392.2" r="3.6"/><circle cx="200.9" cy="386" r="3.6"/><circle cx="31.7" cy="400.8" r="3.7"/><circle cx="82.2" cy="321" r="3.4"/><circle cx="42.9" cy="397.1" r="3.6"/><circle cx="68.9" cy="358.7" r="3.9"/><circle cx="112.3" cy="395.9" r="4"/><circle cx="122.2" cy="389.7" r="3.8"/><circle cx="142" cy="373.6" r="3.8"/><circle cx="216.9" cy="390.6" r="3.6"/><circle cx="95.6" cy="312.7" r="3.4"/><circle cx="221.8" cy="358.9" r="3.6"/><circle cx="174.1" cy="360.6" r="3.6"/><circle cx="140.1" cy="342.9" r="3.4"/><circle cx="210.6" cy="391.9" r="3.6"/><circle cx="288.8" cy="401.4" r="3.8"/><circle cx="223.3" cy="393.5" r="3.6"/><circle cx="90.6" cy="373.6" r="3.9"/><circle cx="111.9" cy="387.5" r="3.5"/><circle cx="198.1" cy="368.3" r="3.6"/><circle cx="224.3" cy="388.9" r="3.4"/><circle cx="303.4" cy="400" r="4"/><circle cx="39.8" cy="392.3" r="3.5"/><circle cx="47.8" cy="394.7" r="4"/><circle cx="70.1" cy="398.4" r="3.5"/><circle cx="271.5" cy="344.7" r="4"/><circle cx="214.5" cy="403.1" r="3.8"/><circle cx="86.2" cy="398.4" r="3.7"/><circle cx="91.6" cy="401.9" r="3.7"/><circle cx="273.1" cy="387.2" r="3.8"/><circle cx="158.6" cy="403.3" r="3.7"/><circle cx="110.6" cy="397.1" r="3.5"/><circle cx="98.1" cy="400.8" r="3.6"/><circle cx="207.8" cy="388.4" r="3.7"/><circle cx="254.1" cy="399.8" r="3.5"/><circle cx="133.3" cy="393.4" r="4"/><circle cx="385.8" cy="399.4" r="3.9"/><circle cx="225.7" cy="383.7" r="3.3"/><circle cx="290" cy="402.3" r="4"/><circle cx="177.2" cy="400.8" r="4"/><circle cx="245.6" cy="395.4" r="3.7"/><circle cx="172.2" cy="395.9" r="4"/><circle cx="97.6" cy="391.5" r="3.6"/><circle cx="75.1" cy="400.8" r="3.7"/><circle cx="241.6" cy="392" r="3.8"/><circle cx="242.2" cy="392" r="4"/><circle cx="43.6" cy="388" r="3.4"/><circle cx="116.4" cy="388.7" r="3.3"/><circle cx="67.7" cy="399.6" r="4"/><circle cx="73.2" cy="398.6" r="3.3"/><circle cx="205.5" cy="389.4" r="3.6"/><circle cx="30.1" cy="396" r="3.7"/><circle cx="250.1" cy="398.3" r="4"/><circle cx="173.5" cy="403.3" r="3.6"/><circle cx="91.7" cy="393.9" r="3.6"/><circle cx="109.5" cy="397" r="3.5"/><circle cx="184.3" cy="400" r="3.6"/><circle cx="269.9" cy="379.4" r="4"/><circle cx="142.5" cy="402.1" r="4"/><circle cx="142.5" cy="371.1" r="3.6"/><circle cx="195" cy="379.4" r="4.1"/><circle cx="143.2" cy="360" r="4.1"/><circle cx="90" cy="399.9" r="3.5"/><circle cx="229.6" cy="402.2" r="3.9"/><circle cx="68.9" cy="386" r="4.1"/><circle cx="214.5" cy="320.4" r="3.4"/><circle cx="249.9" cy="390.4" r="3.6"/><circle cx="338.1" cy="370.8" r="4"/><circle cx="185.6" cy="381.4" r="3.6"/><circle cx="208.4" cy="385.6" r="3.6"/><circle cx="220.2" cy="384.1" r="3.8"/><circle cx="226.5" cy="373.1" r="3.7"/><circle cx="207.6" cy="399.8" r="3.7"/><circle cx="300.3" cy="372.3" r="3.6"/><circle cx="391.2" cy="367.9" r="3.9"/><circle cx="218.1" cy="386" r="3.6"/><circle cx="290" cy="381" r="3.7"/><circle cx="227.4" cy="391" r="3.7"/><circle cx="226.5" cy="360.5" r="3.7"/><circle cx="132.7" cy="366.8" r="3.9"/><circle cx="353.1" cy="391.3" r="4"/><circle cx="92.4" cy="402.1" r="4.1"/><circle cx="125.9" cy="399.6" r="3.6"/><circle cx="233.4" cy="384.9" r="3.8"/><circle cx="275.6" cy="403.1" r="3.6"/><circle cx="165.6" cy="403.5" r="3.6"/><circle cx="93.9" cy="402.9" r="3.5"/><circle cx="175.1" cy="385.3" r="3.6"/><circle cx="279.8" cy="390.2" r="3.6"/><circle cx="251" cy="399.8" r="3.8"/><circle cx="336.5" cy="386.5" r="4"/><circle cx="66.1" cy="393" r="3.8"/><circle cx="197.8" cy="379.3" r="3.3"/><circle cx="316" cy="392" r="4"/><circle cx="258.9" cy="402.2" r="4.1"/><circle cx="269.9" cy="384.9" r="4.1"/><circle cx="265.4" cy="390.3" r="3.5"/><circle cx="81" cy="324.7" r="3.4"/><circle cx="135" cy="402.5" r="3.4"/><circle cx="119.7" cy="402.1" r="4"/><circle cx="159.1" cy="403.5" r="3.5"/><circle cx="177.2" cy="370.5" r="4.1"/><circle cx="82.5" cy="379.8" r="3.9"/><circle cx="110" cy="392.7" r="3.4"/><circle cx="198.1" cy="399.8" r="4"/><circle cx="54.4" cy="390.1" r="3.6"/><circle cx="217.6" cy="390.4" r="3.7"/><circle cx="236.1" cy="387" r="3.5"/><circle cx="114.3" cy="398.2" r="3.5"/><circle cx="185.9" cy="387.2" r="3.8"/><circle cx="39" cy="384.8" r="3.8"/><circle cx="204.3" cy="400.1" r="3.6"/><circle cx="123.1" cy="385.7" r="3.6"/><circle cx="77.6" cy="378.5" r="4.1"/><circle cx="385.8" cy="404" r="3.7"/><circle cx="194.5" cy="393.9" r="3.5"/><circle cx="268.3" cy="394.1" r="3.7"/><circle cx="223.3" cy="401.4" r="4.1"/><circle cx="33.2" cy="393.4" r="3.6"/><circle cx="38.9" cy="391.4" r="3.3"/><circle cx="243.9" cy="393.3" r="3.4"/><circle cx="34.4" cy="398" r="3.6"/><circle cx="337.3" cy="381.8" r="3.8"/><circle cx="237.5" cy="390.4" r="3.9"/><circle cx="281.5" cy="394.4" r="3.3"/><circle cx="35.4" cy="391.6" r="3.8"/><circle cx="85.4" cy="380.4" r="3.8"/><circle cx="128.4" cy="392.2" r="3.8"/><circle cx="267.7" cy="318.7" r="3.4"/><circle cx="196" cy="395.3" r="3.5"/><circle cx="201.6" cy="403.2" r="3.8"/><circle cx="204.4" cy="387.2" r="3.7"/><circle cx="126.8" cy="400.7" r="3.6"/><circle cx="44.1" cy="371.1" r="4"/><circle cx="111.6" cy="382.3" r="3.6"/><circle cx="66.6" cy="402.1" r="3.6"/><circle cx="106.7" cy="401.3" r="3.8"/><circle cx="109.4" cy="402.1" r="3.3"/><circle cx="393" cy="402" r="3.9"/><circle cx="87.4" cy="333" r="3.4"/><circle cx="30.8" cy="394" r="3.4"/><circle cx="209.7" cy="391.7" r="3.5"/><circle cx="348.4" cy="390.5" r="3.8"/><circle cx="215.7" cy="403.1" r="3.7"/><circle cx="45.3" cy="391" r="3.7"/><circle cx="218.6" cy="344.7" r="3.9"/><circle cx="42.9" cy="352.4" r="2.8"/><circle cx="43.1" cy="402.3" r="3.4"/><circle cx="75.1" cy="384.7" r="4.1"/><circle cx="89.3" cy="397.5" r="3.4"/><circle cx="316" cy="400.7" r="3.8"/><circle cx="33.9" cy="401.2" r="3.5"/><circle cx="85" cy="298.5" r="3.6"/><circle cx="195" cy="390.4" r="3.8"/><circle cx="238.4" cy="378.1" r="3.3"/><circle cx="107.5" cy="385.7" r="3.8"/><circle cx="194.5" cy="379.8" r="3.8"/><circle cx="139.5" cy="390.9" r="3.6"/><circle cx="78" cy="395" r="3.7"/><circle cx="187.1" cy="394.7" r="3.6"/><circle cx="338" cy="298" r="3.6"/><circle cx="84.4" cy="366.2" r="4"/><circle cx="262.4" cy="393.7" r="3.4"/><circle cx="179.7" cy="376.1" r="4.1"/><circle cx="56.7" cy="390.6" r="3.4"/><circle cx="92.4" cy="394.7" r="3.8"/><circle cx="178.5" cy="381.4" r="3.3"/><circle cx="61.5" cy="395.9" r="3.7"/><circle cx="347.6" cy="401.5" r="4.1"/><circle cx="175.5" cy="315.5" r="3.6"/><circle cx="125.9" cy="374.8" r="4"/><circle cx="359.4" cy="394.4" r="3.7"/><circle cx="228.9" cy="387.2" r="3.7"/><circle cx="222.7" cy="331.8" r="3.4"/><circle cx="137" cy="382.9" r="3.9"/><circle cx="59" cy="394.4" r="3.3"/><circle cx="338.1" cy="355" r="3.9"/><circle cx="272.3" cy="368.3" r="4.1"/><circle cx="65.9" cy="392" r="3.5"/><circle cx="268.3" cy="396.2" r="3.7"/><circle cx="130.7" cy="389.5" r="3.8"/><circle cx="127" cy="343" r="3.4"/><circle cx="357.8" cy="391.3" r="3.9"/><circle cx="95.5" cy="377.3" r="4.1"/><circle cx="223.3" cy="369.1" r="4.1"/><circle cx="39.2" cy="400.8" r="3.7"/><circle cx="88.7" cy="382.3" r="3.7"/><circle cx="61.1" cy="404.5" r="3.6"/><circle cx="48.6" cy="383.4" r="3.4"/><circle cx="107.6" cy="388.8" r="3.4"/><circle cx="199.7" cy="392" r="3.8"/><circle cx="73.1" cy="384.6" r="3.7"/><circle cx="292.3" cy="405" r="3.7"/><circle cx="274.6" cy="395.1" r="4.1"/><circle cx="143.2" cy="381" r="3.6"/><circle cx="142" cy="364.3" r="3.7"/><circle cx="215.5" cy="351" r="3.8"/><circle cx="229.3" cy="390" r="3.7"/><circle cx="262" cy="396.7" r="3.8"/><circle cx="70.9" cy="339.5" r="3.6"/><circle cx="93.7" cy="383.5" r="3.7"/><circle cx="116.6" cy="401.5" r="3.3"/><circle cx="82.1" cy="384" r="3.7"/><circle cx="237.4" cy="390.9" r="3.5"/><circle cx="203.1" cy="404.2" r="3.7"/><circle cx="387.2" cy="378.7" r="3.6"/><circle cx="168.7" cy="398.1" r="3.6"/><circle cx="263.2" cy="403.1" r="3.7"/><circle cx="67.3" cy="353" r="3.8"/><circle cx="189.6" cy="402.1" r="3.9"/><circle cx="71.4" cy="392.2" r="3.9"/><circle cx="102.3" cy="403.3" r="3.6"/><circle cx="228.4" cy="394.7" r="3.3"/><circle cx="62.1" cy="400.8" r="3.7"/><circle cx="83.8" cy="388.5" r="3.7"/><circle cx="281.7" cy="399.8" r="3.9"/><circle cx="51.5" cy="400.8" r="4"/><circle cx="220.2" cy="365.2" r="3.9"/><circle cx="125" cy="392" r="3.5"/><circle cx="182.1" cy="381.6" r="4.1"/><circle cx="124.4" cy="387.2" r="3.7"/><circle cx="196.4" cy="392.5" r="3.6"/><circle cx="151.2" cy="370.5" r="3.7"/><circle cx="143.7" cy="395.9" r="3.9"/><circle cx="338.5" cy="322.2" r="3.4"/><circle cx="76.3" cy="369.3" r="4.1"/><circle cx="260.5" cy="392" r="3.7"/><circle cx="157.2" cy="399" r="3.6"/><circle cx="113.3" cy="395.4" r="3.5"/><circle cx="231.2" cy="396.7" r="3.8"/><circle cx="67.7" cy="363.7" r="4"/><circle cx="57.7" cy="384.1" r="3.8"/><circle cx="126.3" cy="392.2" r="3.6"/></g>
<circle cx="151" cy="297.7" r="3.3" fill="#fd9f10" stroke="#3b3b8f" stroke-width="0.7"/>
<circle cx="63.7" cy="298" r="3.4" fill="#fd9f10" stroke="#3b3b8f" stroke-width="0.7"/>
<circle cx="271" cy="298" r="3.2" fill="#fd9f10" stroke="#3b3b8f" stroke-width="0.7"/>
<circle cx="188.6" cy="307.3" r="3.4" fill="#fd9f10" stroke="#3b3b8f" stroke-width="0.7"/>
<circle cx="140.4" cy="348.8" r="3.2" fill="#fd9f10" stroke="#3b3b8f" stroke-width="0.7"/>
<circle cx="76.6" cy="358.2" r="3.4" fill="#fd9f10" stroke="#3b3b8f" stroke-width="0.7"/>
<circle cx="195" cy="360.6" r="3.2" fill="#fd9f10" stroke="#3b3b8f" stroke-width="0.7"/>
<circle cx="101.4" cy="364.4" r="3.1" fill="#fd9f10" stroke="#3b3b8f" stroke-width="0.7"/>
<circle cx="206.6" cy="375.4" r="3.4" fill="#fd9f10" stroke="#3b3b8f" stroke-width="0.7"/>
<circle cx="188" cy="376" r="3.3" fill="#fd9f10" stroke="#3b3b8f" stroke-width="0.7"/>
<circle cx="66" cy="376.4" r="4" fill="#fd9f10" stroke="#3b3b8f" stroke-width="0.7"/>
<circle cx="271" cy="404.6" r="2.8" fill="#fd9f10" stroke="#3b3b8f" stroke-width="0.7"/>
<circle cx="413.1" cy="404.6" r="2.9" fill="#e8508a"/>
<circle cx="413.1" cy="400" r="3.1" fill="#dd4477" stroke="#3b3b8f" stroke-width="0.7"/>
<circle cx="432.7" cy="395.6" r="3.1" fill="#3f72d6"/>
<circle cx="438.2" cy="398.6" r="1.8" fill="#3f72d6"/>
<circle cx="438.2" cy="385.8" r="3.3" fill="#3366cc" stroke="#2a2a80" stroke-width="0.7"/>
<circle cx="463.3" cy="401.4" r="3.0" fill="#30b4de"/>
<circle cx="457.8" cy="385.8" r="3.0" fill="#0099c6" stroke="#2a2a80" stroke-width="0.7"/>
<circle cx="457.3" cy="402.7" r="3.0" fill="#1f8fcf" stroke="#2a2a80" stroke-width="0.7"/>
<text x="68.5" y="300.2" style="font-family:'Liberation Serif',serif;font-size:7.25px" fill="#111" stroke="#111" stroke-width=".1">Lipid metabolic process</text>
<text x="157.3" y="299.8" style="font-family:'Liberation Serif',serif;font-size:7.25px" fill="#111" stroke="#111" stroke-width=".1">Response to lipid</text>
<text x="276" y="299.8" style="font-family:'Liberation Serif',serif;font-size:7.25px" fill="#111" stroke="#111" stroke-width=".1">Cellular response to lipid</text>
<text x="195.4" y="309.7" style="font-family:'Liberation Serif',serif;font-size:7.25px" fill="#111" stroke="#111" stroke-width=".1">Cellular lipid metabolic process</text>
<text x="36" y="347" style="font-family:'Liberation Serif',serif;font-size:7.25px" fill="#111" stroke="#111" stroke-width=".1">Lipid biosynthetic process</text>
<text x="145.6" y="349.8" style="font-family:'Liberation Serif',serif;font-size:7.25px" fill="#111" stroke="#111" stroke-width=".1">Response to lipopolysaccharide</text>
<text x="204.4" y="362.2" style="font-family:'Liberation Serif',serif;font-size:7.25px" fill="#111" stroke="#111" stroke-width=".1">Fat cell differentiation</text>
<text x="108" y="366.2" style="font-family:'Liberation Serif',serif;font-size:7.25px" fill="#111" stroke="#111" stroke-width=".1">Lipid catabolic process</text>
<text x="212.4" y="377.5" style="font-family:'Liberation Serif',serif;font-size:7.25px" fill="#111" stroke="#111" stroke-width=".1">Glycerolipid metabolic process</text>
<text x="189.6" y="385.2" style="font-family:'Liberation Serif',serif;font-size:7.25px" fill="#111" stroke="#111" stroke-width=".1">Cellular lipid catabolic process</text>
<text x="30.6" y="389.2" style="font-family:'Liberation Serif',serif;font-size:7.25px" fill="#111" stroke="#111" stroke-width=".1">Phosphate-containing compound metabolic process</text>
<text x="249" y="413.2" style="font-family:'Liberation Serif',serif;font-size:7.25px" fill="#111" stroke="#111" stroke-width=".1">Cellular response to glucocorticoid stimulus</text>
<text x="337.6" y="396.5" style="font-family:'Liberation Serif',serif;font-size:7.25px" fill="#111" stroke="#111" stroke-width=".1">PPAR signaling pathway</text>
<text x="377" y="379.5" style="font-family:'Liberation Serif',serif;font-size:7.25px" fill="#111" stroke="#111" stroke-width=".1">Metabolism of lipids</text>
<text x="468.2" y="380.6" style="font-family:'Liberation Serif',serif;font-size:7.25px" fill="#111" stroke="#111" stroke-width=".1">Adipogenesis</text>
<text x="465.4" y="402.4" style="font-family:'Liberation Serif',serif;font-size:7.25px" fill="#111" stroke="#111" stroke-width=".1">Metabolism of lipids</text>
<text x="154" y="293.5" style="font-family:'Liberation Sans',sans-serif;font-size:5.8px" fill="#444" text-anchor="middle">1</text>
<text x="66.6" y="293.6" style="font-family:'Liberation Sans',sans-serif;font-size:5.8px" fill="#444" text-anchor="middle">2</text>
<text x="273.5" y="293.5" style="font-family:'Liberation Sans',sans-serif;font-size:5.8px" fill="#444" text-anchor="middle">3</text>
<text x="191" y="303.3" style="font-family:'Liberation Sans',sans-serif;font-size:5.8px" fill="#444" text-anchor="middle">4</text>
<text x="143" y="344.2" style="font-family:'Liberation Sans',sans-serif;font-size:5.8px" fill="#444" text-anchor="middle">5</text>
<text x="79" y="354.4" style="font-family:'Liberation Sans',sans-serif;font-size:5.8px" fill="#444" text-anchor="middle">6</text>
<text x="416.2" y="396.5" style="font-family:'Liberation Sans',sans-serif;font-size:5.8px" fill="#444" text-anchor="middle">7</text>
<text x="440.7" y="382" style="font-family:'Liberation Sans',sans-serif;font-size:5.8px" fill="#444" text-anchor="middle">8</text>
<text x="459.5" y="399.3" style="font-family:'Liberation Sans',sans-serif;font-size:5.8px" fill="#444" text-anchor="middle">9</text>
<text x="462.5" y="382.5" style="font-family:'Liberation Sans',sans-serif;font-size:5.8px" fill="#444" text-anchor="middle">10</text>
<text x="199.5" y="357" style="font-family:'Liberation Sans',sans-serif;font-size:5.8px" fill="#444" text-anchor="middle">11</text>
<text x="106" y="361" style="font-family:'Liberation Sans',sans-serif;font-size:5.8px" fill="#444" text-anchor="middle">12</text>
<text x="211" y="371.6" style="font-family:'Liberation Sans',sans-serif;font-size:5.8px" fill="#444" text-anchor="middle">13</text>
<text x="193.6" y="372" style="font-family:'Liberation Sans',sans-serif;font-size:5.8px" fill="#444" text-anchor="middle">14</text>
<text x="71" y="372" style="font-family:'Liberation Sans',sans-serif;font-size:5.8px" fill="#444" text-anchor="middle">15</text>
<text x="276" y="401.6" style="font-family:'Liberation Sans',sans-serif;font-size:5.8px" fill="#444" text-anchor="middle">16</text>
<circle cx="85" cy="298.5" r="3.6" fill="#fd9f10" fill-opacity=".72"/>
<circle cx="338" cy="298" r="3.6" fill="#fd9f10" fill-opacity=".72"/>
</svg></body></html>
